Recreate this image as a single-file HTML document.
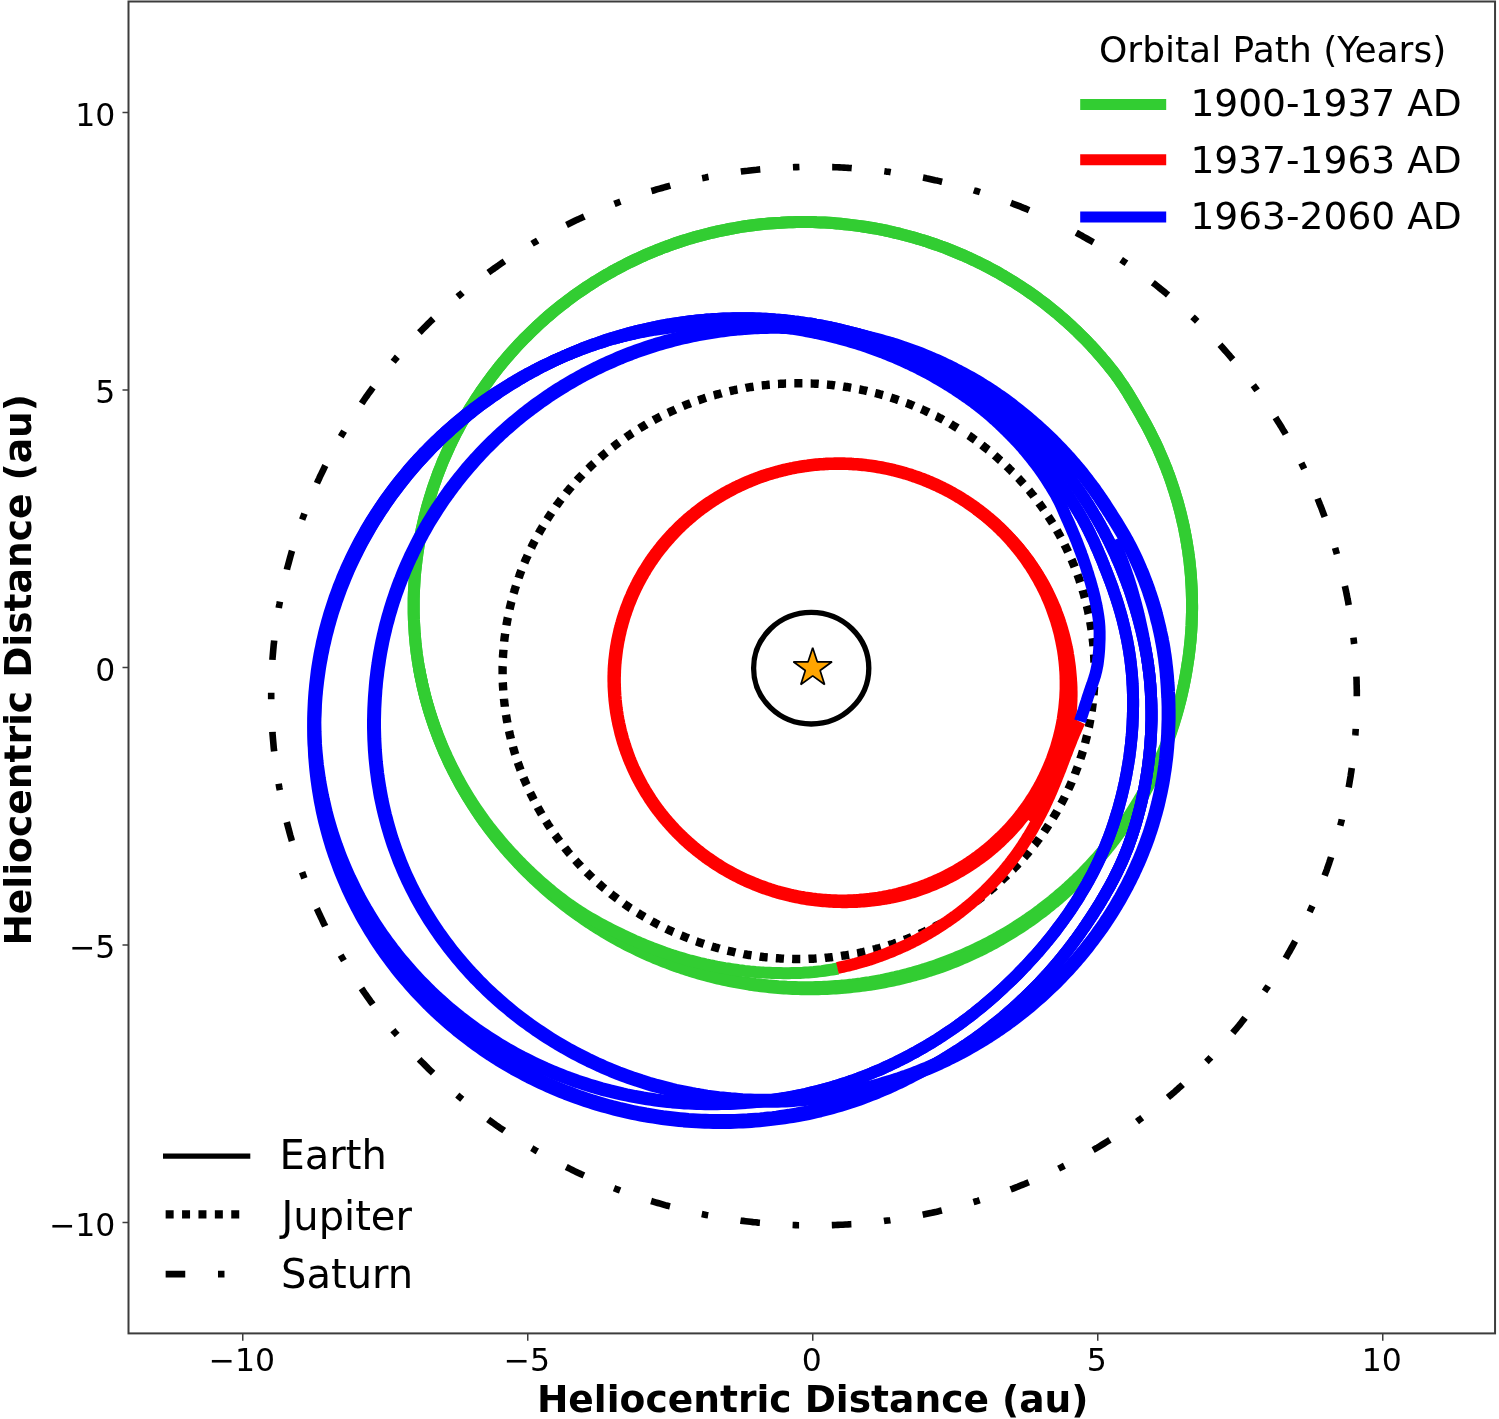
<!DOCTYPE html><html><head><meta charset="utf-8"><title>Orbital Path</title>
<style>html,body{margin:0;padding:0;background:#fff}svg{display:block}text{font-family:"DejaVu Sans","Liberation Sans",sans-serif;fill:#000}</style></head><body>
<svg width="1499" height="1419" viewBox="0 0 1499 1419">
<rect width="1499" height="1419" fill="#fff"/>
<defs><clipPath id="ax"><rect x="128.50" y="1.50" width="1366.55" height="1331.90"/></clipPath></defs>
<g clip-path="url(#ax)" fill="none" stroke-linejoin="round">
<ellipse cx="811.20" cy="668.20" rx="57.60" ry="55.80" stroke="#000" stroke-width="5.30"/>
<path d="M957.4 428.1L956.3 427.4L955.2 426.8L954.2 426.2L953.1 425.5L952.1 424.9L951.0 424.3L949.9 423.6L948.8 423.0L947.8 422.4L946.7 421.8L945.6 421.2L944.5 420.6L943.4 420.0L942.3 419.4L941.3 418.8L940.2 418.2L939.1 417.7L938.0 417.1L936.9 416.5L935.7 416.0L934.6 415.4L933.5 414.8L932.4 414.3L931.3 413.7L930.2 413.2L929.1 412.7L927.9 412.1L926.8 411.6L925.7 411.1L924.5 410.5L923.4 410.0L922.3 409.5L921.1 409.0L920.0 408.5L918.8 408.0L917.7 407.5L916.6 407.0L915.4 406.6L914.2 406.1L913.1 405.6L911.9 405.1L910.8 404.7L909.6 404.2L908.4 403.8L907.3 403.3L906.1 402.9L904.9 402.4L903.8 402.0L902.6 401.6L901.4 401.1L900.2 400.7L899.1 400.3L897.9 399.9L896.7 399.5L895.5 399.1L894.3 398.7L893.1 398.3L891.9 397.9L890.7 397.5L889.5 397.1L888.3 396.8L887.1 396.4L885.9 396.0L884.7 395.7L883.5 395.3L882.3 395.0L881.1 394.6L879.9 394.3L878.7 393.9L877.5 393.6L876.3 393.3L875.0 393.0L873.8 392.7L872.6 392.4L871.4 392.1L870.1 391.8L868.9 391.5L867.7 391.2L866.5 390.9L865.2 390.6L864.0 390.3L862.8 390.1L861.5 389.8L860.3 389.5L859.1 389.3L857.8 389.0L856.6 388.8L855.3 388.6L854.1 388.3L852.9 388.1L851.6 387.9L850.4 387.7L849.1 387.4L847.9 387.2L846.6 387.0L845.4 386.8L844.1 386.7L842.9 386.5L841.6 386.3L840.4 386.1L839.1 385.9L837.8 385.8L836.6 385.6L835.3 385.5L834.1 385.3L832.8 385.2L831.5 385.0L830.3 384.9L829.0 384.8L827.8 384.6L826.5 384.5L825.2 384.4L824.0 384.3L822.7 384.2L821.4 384.1L820.2 384.0L818.9 383.9L817.6 383.8L816.3 383.8L815.1 383.7L813.8 383.6L812.5 383.6L811.3 383.5L810.0 383.5L808.7 383.4L807.4 383.4L806.2 383.3L804.9 383.3L803.6 383.3L802.3 383.3L801.1 383.3L799.8 383.3L798.5 383.3L797.2 383.3L795.9 383.3L794.7 383.3L793.4 383.3L792.1 383.3L790.8 383.4L789.6 383.4L788.3 383.4L787.0 383.5L785.7 383.5L784.4 383.6L783.2 383.7L781.9 383.7L780.6 383.8L779.3 383.9L778.1 384.0L776.8 384.0L775.5 384.1L774.2 384.2L772.9 384.3L771.7 384.5L770.4 384.6L769.1 384.7L767.8 384.8L766.6 385.0L765.3 385.1L764.0 385.2L762.7 385.4L761.5 385.5L760.2 385.7L758.9 385.9L757.6 386.0L756.4 386.2L755.1 386.4L753.8 386.6L752.5 386.8L751.3 387.0L750.0 387.2L748.7 387.4L747.5 387.6L746.2 387.8L744.9 388.1L743.7 388.3L742.4 388.5L741.1 388.8L739.9 389.0L738.6 389.3L737.3 389.5L736.1 389.8L734.8 390.0L733.6 390.3L732.3 390.6L731.0 390.9L729.8 391.2L728.5 391.5L727.3 391.8L726.0 392.1L724.8 392.4L723.5 392.7L722.3 393.0L721.0 393.4L719.8 393.7L718.5 394.0L717.3 394.4L716.0 394.7L714.8 395.1L713.5 395.4L712.3 395.8L711.1 396.2L709.8 396.6L708.6 396.9L707.4 397.3L706.1 397.7L704.9 398.1L703.7 398.5L702.4 398.9L701.2 399.3L700.0 399.8L698.8 400.2L697.5 400.6L696.3 401.0L695.1 401.5L693.9 401.9L692.7 402.4L691.5 402.8L690.2 403.3L689.0 403.8L687.8 404.2L686.6 404.7L685.4 405.2L684.2 405.7L683.0 406.2L681.8 406.7L680.6 407.2L679.4 407.7L678.2 408.2L677.0 408.7L675.9 409.2L674.7 409.8L673.5 410.3L672.3 410.8L671.1 411.4L670.0 411.9L668.8 412.5L667.6 413.0L666.4 413.6L665.3 414.2L664.1 414.8L662.9 415.3L661.8 415.9L660.6 416.5L659.5 417.1L658.3 417.7L657.2 418.3L656.0 418.9L654.9 419.5L653.7 420.2L652.6 420.8L651.4 421.4L650.3 422.1L649.2 422.7L648.0 423.4L646.9 424.0L645.8 424.7L644.7 425.3L643.6 426.0L642.4 426.7L641.3 427.3L640.2 428.0L639.1 428.7L638.0 429.4L636.9 430.1L635.8 430.8L634.7 431.5L633.6 432.2L632.5 432.9L631.4 433.6L630.4 434.4L629.3 435.1L628.2 435.8L627.1 436.6L626.1 437.3L625.0 438.1L623.9 438.8L622.9 439.6L621.8 440.3L620.7 441.1L619.7 441.9L618.6 442.7L617.6 443.4L616.6 444.2L615.5 445.0L614.5 445.8L613.5 446.6L612.4 447.4L611.4 448.2L610.4 449.1L609.4 449.9L608.4 450.7L607.3 451.5L606.3 452.4L605.3 453.2L604.3 454.0L603.3 454.9L602.4 455.7L601.4 456.6L600.4 457.4L599.4 458.3L598.4 459.2L597.4 460.1L596.5 460.9L595.5 461.8L594.6 462.7L593.6 463.6L592.6 464.5L591.7 465.4L590.7 466.3L589.8 467.2L588.9 468.1L587.9 469.0L587.0 469.9L586.1 470.9L585.2 471.8L584.2 472.7L583.3 473.7L582.4 474.6L581.5 475.6L580.6 476.5L579.7 477.5L578.8 478.4L577.9 479.4L577.1 480.3L576.2 481.3L575.3 482.3L574.4 483.3L573.6 484.2L572.7 485.2L571.8 486.2L571.0 487.2L570.1 488.2L569.3 489.2L568.5 490.2L567.6 491.2L566.8 492.2L566.0 493.3L565.2 494.3L564.3 495.3L563.5 496.3L562.7 497.4L561.9 498.4L561.1 499.4L560.3 500.5L559.5 501.5L558.7 502.6L558.0 503.6L557.2 504.7L556.4 505.7L555.7 506.8L554.9 507.9L554.1 508.9L553.4 510.0L552.6 511.1L551.9 512.2L551.2 513.3L550.4 514.4L549.7 515.4L549.0 516.5L548.3 517.6L547.6 518.7L546.9 519.8L546.2 521.0L545.5 522.1L544.8 523.2L544.1 524.3L543.4 525.4L542.7 526.5L542.1 527.7L541.4 528.8L540.7 529.9L540.1 531.1L539.4 532.2L538.8 533.4L538.1 534.5L537.5 535.6L536.9 536.8L536.3 538.0L535.6 539.1L535.0 540.3L534.4 541.4L533.8 542.6L533.2 543.8L532.6 544.9L532.0 546.1L531.5 547.3L530.9 548.5L530.3 549.7L529.8 550.8L529.2 552.0L528.6 553.2L528.1 554.4L527.6 555.6L527.0 556.8L526.5 558.0L526.0 559.2L525.4 560.4L524.9 561.6L524.4 562.8L523.9 564.0L523.4 565.3L522.9 566.5L522.4 567.7L522.0 568.9L521.5 570.1L521.0 571.4L520.5 572.6L520.1 573.8L519.6 575.1L519.2 576.3L518.7 577.5L518.3 578.8L517.9 580.0L517.5 581.3L517.0 582.5L516.6 583.8L516.2 585.0L515.8 586.3L515.4 587.5L515.0 588.8L514.6 590.0L514.3 591.3L513.9 592.5L513.5 593.8L513.2 595.1L512.8 596.3L512.5 597.6L512.1 598.9L511.8 600.1L511.5 601.4L511.1 602.7L510.8 604.0L510.5 605.2L510.2 606.5L509.9 607.8L509.6 609.1L509.3 610.4L509.0 611.6L508.8 612.9L508.5 614.2L508.2 615.5L508.0 616.8L507.7 618.1L507.5 619.4L507.2 620.7L507.0 622.0L506.8 623.3L506.5 624.6L506.3 625.9L506.1 627.2L505.9 628.5L505.7 629.8L505.5 631.1L505.3 632.4L505.1 633.7L505.0 635.0L504.8 636.3L504.6 637.6L504.5 638.9L504.3 640.2L504.2 641.5L504.1 642.8L503.9 644.1L503.8 645.4L503.7 646.8L503.6 648.1L503.5 649.4L503.4 650.7L503.3 652.0L503.2 653.3L503.1 654.6L503.0 655.9L503.0 657.3L502.9 658.6L502.8 659.9L502.8 661.2L502.7 662.5L502.7 663.8L502.7 665.2L502.6 666.5L502.6 667.8L502.6 669.1L502.6 670.4L502.6 671.8L502.6 673.1L502.6 674.4L502.6 675.7L502.7 677.0L502.7 678.3L502.7 679.7L502.8 681.0L502.8 682.3L502.9 683.6L502.9 684.9L503.0 686.2L503.1 687.6L503.2 688.9L503.2 690.2L503.3 691.5L503.4 692.8L503.5 694.1L503.6 695.5L503.8 696.8L503.9 698.1L504.0 699.4L504.2 700.7L504.3 702.0L504.4 703.3L504.6 704.6L504.8 706.0L504.9 707.3L505.1 708.6L505.3 709.9L505.5 711.2L505.6 712.5L505.8 713.8L506.0 715.1L506.3 716.4L506.5 717.7L506.7 719.0L506.9 720.3L507.2 721.6L507.4 722.9L507.6 724.2L507.9 725.5L508.2 726.8L508.4 728.1L508.7 729.4L509.0 730.7L509.3 732.0L509.5 733.3L509.8 734.6L510.1 735.8L510.4 737.1L510.8 738.4L511.1 739.7L511.4 741.0L511.7 742.3L512.1 743.5L512.4 744.8L512.8 746.1L513.1 747.4L513.5 748.6L513.9 749.9L514.2 751.2L514.6 752.4L515.0 753.7L515.4 755.0L515.8 756.2L516.2 757.5L516.6 758.7L517.0 760.0L517.4 761.3L517.9 762.5L518.3 763.8L518.7 765.0L519.2 766.3L519.6 767.5L520.1 768.7L520.5 770.0L521.0 771.2L521.5 772.5L522.0 773.7L522.4 774.9L522.9 776.2L523.4 777.4L523.9 778.6L524.4 779.8L525.0 781.1L525.5 782.3L526.0 783.5L526.5 784.7L527.1 785.9L527.6 787.1L528.2 788.3L528.7 789.5L529.3 790.7L529.8 791.9L530.4 793.1L531.0 794.3L531.6 795.5L532.2 796.7L532.8 797.9L533.4 799.1L534.0 800.3L534.6 801.4L535.2 802.6L535.8 803.8L536.4 804.9L537.1 806.1L537.7 807.3L538.3 808.4L539.0 809.6L539.7 810.7L540.3 811.9L541.0 813.0L541.6 814.2L542.3 815.3L543.0 816.5L543.7 817.6L544.4 818.7L545.1 819.9L545.8 821.0L546.5 822.1L547.2 823.2L547.9 824.4L548.6 825.5L549.4 826.6L550.1 827.7L550.8 828.8L551.6 829.9L552.3 831.0L553.1 832.1L553.8 833.2L554.6 834.3L555.4 835.3L556.1 836.4L556.9 837.5L557.7 838.6L558.5 839.6L559.3 840.7L560.1 841.8L560.9 842.8L561.7 843.9L562.5 844.9L563.3 846.0L564.2 847.0L565.0 848.1L565.8 849.1L566.7 850.1L567.5 851.1L568.3 852.2L569.2 853.2L570.1 854.2L570.9 855.2L571.8 856.2L572.6 857.2L573.5 858.2L574.4 859.2L575.3 860.2L576.2 861.2L577.1 862.2L578.0 863.2L578.9 864.2L579.8 865.1L580.7 866.1L581.6 867.1L582.5 868.0L583.4 869.0L584.4 869.9L585.3 870.9L586.2 871.8L587.2 872.8L588.1 873.7L589.1 874.6L590.0 875.5L591.0 876.5L592.0 877.4L592.9 878.3L593.9 879.2L594.9 880.1L595.9 881.0L596.8 881.9L597.8 882.8L598.8 883.7L599.8 884.6L600.8 885.4L601.8 886.3L602.8 887.2L603.8 888.0L604.9 888.9L605.9 889.8L606.9 890.6L607.9 891.4L609.0 892.3L610.0 893.1L611.0 894.0L612.1 894.8L613.1 895.6L614.2 896.4L615.2 897.2L616.3 898.0L617.3 898.8L618.4 899.6L619.5 900.4L620.5 901.2L621.6 902.0L622.7 902.8L623.8 903.5L624.9 904.3L626.0 905.1L627.0 905.8L628.1 906.6L629.2 907.3L630.3 908.1L631.5 908.8L632.6 909.6L633.7 910.3L634.8 911.0L635.9 911.7L637.0 912.4L638.2 913.1L639.3 913.9L640.4 914.6L641.5 915.2L642.7 915.9L643.8 916.6L645.0 917.3L646.1 918.0L647.3 918.6L648.4 919.3L649.6 920.0L650.7 920.6L651.9 921.3L653.1 921.9L654.2 922.5L655.4 923.2L656.6 923.8L657.7 924.4L658.9 925.0L660.1 925.6L661.3 926.2L662.5 926.8L663.6 927.4L664.8 928.0L666.0 928.6L667.2 929.2L668.4 929.8L669.6 930.3L670.8 930.9L672.0 931.4L673.2 932.0L674.4 932.5L675.7 933.1L676.9 933.6L678.1 934.1L679.3 934.7L680.5 935.2L681.8 935.7L683.0 936.2L684.2 936.7L685.4 937.2L686.7 937.7L687.9 938.2L689.1 938.7L690.4 939.1L691.6 939.6L692.9 940.1L694.1 940.5L695.3 941.0L696.6 941.4L697.8 941.9L699.1 942.3L700.3 942.8L701.6 943.2L702.9 943.6L704.1 944.0L705.4 944.4L706.6 944.8L707.9 945.2L709.2 945.6L710.4 946.0L711.7 946.4L713.0 946.8L714.2 947.1L715.5 947.5L716.8 947.8L718.1 948.2L719.3 948.5L720.6 948.9L721.9 949.2L723.2 949.6L724.5 949.9L725.7 950.2L727.0 950.5L728.3 950.8L729.6 951.1L730.9 951.4L732.2 951.7L733.5 952.0L734.8 952.3L736.0 952.6L737.3 952.8L738.6 953.1L739.9 953.3L741.2 953.6L742.5 953.8L743.8 954.1L745.1 954.3L746.4 954.5L747.7 954.8L749.0 955.0L750.3 955.2L751.6 955.4L752.9 955.6L754.2 955.8L755.5 956.0L756.8 956.2L758.1 956.3L759.4 956.5L760.7 956.7L762.1 956.8L763.4 957.0L764.7 957.1L766.0 957.3L767.3 957.4L768.6 957.5L769.9 957.7L771.2 957.8L772.5 957.9L773.8 958.0L775.1 958.1L776.5 958.2L777.8 958.3L779.1 958.4L780.4 958.5L781.7 958.6L783.0 958.6L784.3 958.7L785.6 958.7L786.9 958.8L788.2 958.8L789.6 958.9L790.9 958.9L792.2 958.9L793.5 959.0L794.8 959.0L796.1 959.0L797.4 959.0L798.7 959.0L800.0 959.0L801.3 959.0L802.7 959.0L804.0 959.0L805.3 958.9L806.6 958.9L807.9 958.9L809.2 958.8L810.5 958.8L811.8 958.7L813.1 958.7L814.4 958.6L815.7 958.5L817.0 958.4L818.3 958.4L819.6 958.3L820.9 958.2L822.2 958.1L823.5 958.0L824.8 957.9L826.1 957.7L827.4 957.6L828.7 957.5L830.0 957.4L831.3 957.2L832.6 957.1L833.9 956.9L835.2 956.8L836.5 956.6L837.8 956.5L839.1 956.3L840.4 956.1L841.6 955.9L842.9 955.7L844.2 955.5L845.5 955.3L846.8 955.1L848.1 954.9L849.3 954.7L850.6 954.5L851.9 954.3L853.2 954.0L854.4 953.8L855.7 953.6L857.0 953.3L858.3 953.1L859.5 952.8L860.8 952.5L862.1 952.3L863.3 952.0L864.6 951.7L865.9 951.4L867.1 951.1L868.4 950.9L869.6 950.6L870.9 950.2L872.1 949.9L873.4 949.6L874.6 949.3L875.9 949.0L877.1 948.6L878.4 948.3L879.6 948.0L880.9 947.6L882.1 947.3L883.3 946.9L884.6 946.5L885.8 946.2L887.0 945.8L888.3 945.4L889.5 945.0L890.7 944.6L892.0 944.3L893.2 943.9L894.4 943.5L895.6 943.0L896.8 942.6L898.0 942.2L899.3 941.8L900.5 941.4L901.7 940.9L902.9 940.5L904.1 940.0L905.3 939.6L906.5 939.1L907.7 938.7L908.9 938.2L910.1 937.7L911.3 937.3L912.4 936.8L913.6 936.3L914.8 935.8L916.0 935.3L917.2 934.8L918.3 934.3L919.5 933.8L920.7 933.3L921.8 932.8L923.0 932.3L924.2 931.7L925.3 931.2L926.5 930.7L927.6 930.1L928.8 929.6L929.9 929.0L931.1 928.5L932.2 927.9L933.4 927.3L934.5 926.8L935.6 926.2L936.8 925.6L937.9 925.0L939.0 924.5L940.2 923.9L941.3 923.3L942.4 922.7L943.5 922.1L944.6 921.4L945.7 920.8L946.8 920.2L947.9 919.6L949.0 919.0L950.1 918.3L951.2 917.7L952.3 917.0L953.4 916.4L954.5 915.7L955.6 915.1L956.7 914.4L957.7 913.8L958.8 913.1L959.9 912.4L960.9 911.7L962.0 911.1L963.1 910.4L964.1 909.7L965.2 909.0L966.2 908.3L967.3 907.6L968.3 906.9L969.4 906.2L970.4 905.4L971.4 904.7L972.4 904.0L973.5 903.3L974.5 902.5L975.5 901.8L976.5 901.1L977.5 900.3L978.6 899.6L979.6 898.8L980.6 898.1L981.6 897.3L982.6 896.5L983.5 895.8L984.5 895.0L985.5 894.2L986.5 893.4L987.5 892.7L988.4 891.9L989.4 891.1L990.4 890.3L991.3 889.5L992.3 888.7L993.3 887.9L994.2 887.1L995.2 886.2L996.1 885.4L997.0 884.6L998.0 883.8L998.9 882.9L999.8 882.1L1000.8 881.3L1001.7 880.4L1002.6 879.6L1003.5 878.7L1004.4 877.9L1005.3 877.0L1006.2 876.2L1007.1 875.3L1008.0 874.4L1008.9 873.6L1009.8 872.7L1010.7 871.8L1011.5 870.9L1012.4 870.0L1013.3 869.2L1014.1 868.3L1015.0 867.4L1015.9 866.5L1016.7 865.6L1017.6 864.7L1018.4 863.8L1019.3 862.9L1020.1 861.9L1020.9 861.0L1021.7 860.1L1022.6 859.2L1023.4 858.2L1024.2 857.3L1025.0 856.4L1025.8 855.4L1026.6 854.5L1027.4 853.6L1028.2 852.6L1029.0 851.7L1029.8 850.7L1030.6 849.8L1031.4 848.8L1032.1 847.8L1032.9 846.9L1033.7 845.9L1034.4 844.9L1035.2 844.0L1035.9 843.0L1036.7 842.0L1037.4 841.0L1038.2 840.0L1038.9 839.1L1039.6 838.1L1040.3 837.1L1041.1 836.1L1041.8 835.1L1042.5 834.1L1043.2 833.1L1043.9 832.1L1044.6 831.0L1045.3 830.0L1046.0 829.0L1046.7 828.0L1047.3 827.0L1048.0 826.0L1048.7 824.9L1049.4 823.9L1050.0 822.9L1050.7 821.8L1051.3 820.8L1052.0 819.8L1052.6 818.7L1053.2 817.7L1053.9 816.6L1054.5 815.6L1055.1 814.5L1055.8 813.5L1056.4 812.4L1057.0 811.4L1057.6 810.3L1058.2 809.2L1058.8 808.2L1059.4 807.1L1060.0 806.0L1060.5 805.0L1061.1 803.9L1061.7 802.8L1062.3 801.7L1062.8 800.7L1063.4 799.6L1063.9 798.5L1064.5 797.4L1065.0 796.3L1065.6 795.2L1066.1 794.1L1066.6 793.0L1067.2 791.9L1067.7 790.8L1068.2 789.7L1068.7 788.6L1069.2 787.5L1069.7 786.4L1070.2 785.3L1070.7 784.2L1071.2 783.1L1071.7 782.0L1072.1 780.9L1072.6 779.7L1073.1 778.6L1073.5 777.5L1074.0 776.4L1074.5 775.3L1074.9 774.1L1075.3 773.0L1075.8 771.9L1076.2 770.7L1076.6 769.6L1077.1 768.5L1077.5 767.3L1077.9 766.2L1078.3 765.1L1078.7 763.9L1079.1 762.8L1079.5 761.6L1079.9 760.5L1080.3 759.3L1080.6 758.2L1081.0 757.0L1081.4 755.9L1081.8 754.7L1082.1 753.6L1082.5 752.4L1082.8 751.3L1083.2 750.1L1083.5 749.0L1083.8 747.8L1084.2 746.6L1084.5 745.5L1084.8 744.3L1085.1 743.1L1085.4 742.0L1085.7 740.8L1086.0 739.6L1086.3 738.5L1086.6 737.3L1086.9 736.1L1087.2 735.0L1087.4 733.8L1087.7 732.6L1088.0 731.4L1088.2 730.3L1088.5 729.1L1088.7 727.9L1089.0 726.7L1089.2 725.5L1089.4 724.4L1089.6 723.2L1089.9 722.0L1090.1 720.8L1090.3 719.6L1090.5 718.5L1090.7 717.3L1090.9 716.1L1091.1 714.9L1091.3 713.7L1091.5 712.5L1091.6 711.3L1091.8 710.1L1092.0 709.0L1092.1 707.8L1092.3 706.6L1092.4 705.4L1092.6 704.2L1092.7 703.0L1092.9 701.8L1093.0 700.6L1093.1 699.4L1093.2 698.2L1093.3 697.0L1093.5 695.8L1093.6 694.6L1093.7 693.4L1093.7 692.2L1093.8 691.1L1093.9 689.9L1094.0 688.7L1094.1 687.5L1094.1 686.3L1094.2 685.1L1094.3 683.9L1094.3 682.7L1094.4 681.5L1094.4 680.3L1094.4 679.1L1094.5 677.9L1094.5 676.7L1094.5 675.5L1094.5 674.3L1094.6 673.1L1094.6 671.9L1094.6 670.7L1094.6 669.5L1094.5 668.3L1094.5 667.1L1094.5 665.9L1094.5 664.7L1094.5 663.5L1094.4 662.3L1094.4 661.1L1094.3 659.9L1094.3 658.7L1094.2 657.5L1094.2 656.3L1094.1 655.1L1094.0 653.9L1094.0 652.8L1093.9 651.6L1093.8 650.4L1093.7 649.2L1093.6 648.0L1093.5 646.8L1093.4 645.6L1093.3 644.4L1093.2 643.2L1093.1 642.0L1092.9 640.8L1092.8 639.6L1092.7 638.5L1092.5 637.3L1092.4 636.1L1092.2 634.9L1092.1 633.7L1091.9 632.5L1091.7 631.3L1091.6 630.2L1091.4 629.0L1091.2 627.8L1091.0 626.6L1090.8 625.4L1090.6 624.2L1090.4 623.1L1090.2 621.9L1090.0 620.7L1089.8 619.5L1089.6 618.4L1089.3 617.2L1089.1 616.0L1088.9 614.8L1088.6 613.7L1088.4 612.5L1088.1 611.3L1087.9 610.1L1087.6 609.0L1087.3 607.8L1087.1 606.6L1086.8 605.5L1086.5 604.3L1086.2 603.2L1085.9 602.0L1085.6 600.8L1085.3 599.7L1085.0 598.5L1084.7 597.4L1084.4 596.2L1084.1 595.1L1083.8 593.9L1083.4 592.8L1083.1 591.6L1082.7 590.5L1082.4 589.3L1082.1 588.2L1081.7 587.0L1081.3 585.9L1081.0 584.7L1080.6 583.6L1080.2 582.5L1079.8 581.3L1079.5 580.2L1079.1 579.0L1078.7 577.9L1078.3 576.8L1077.9 575.7L1077.5 574.5L1077.0 573.4L1076.6 572.3L1076.2 571.2L1075.8 570.0L1075.3 568.9L1074.9 567.8L1074.5 566.7L1074.0 565.6L1073.6 564.5L1073.1 563.4L1072.6 562.2L1072.2 561.1L1071.7 560.0L1071.2 558.9L1070.7 557.8L1070.3 556.7L1069.8 555.6L1069.3 554.5L1068.8 553.4L1068.3 552.4L1067.8 551.3L1067.2 550.2L1066.7 549.1L1066.2 548.0L1065.7 546.9L1065.1 545.9L1064.6 544.8L1064.1 543.7L1063.5 542.6L1063.0 541.6L1062.4 540.5L1061.8 539.4L1061.3 538.4L1060.7 537.3L1060.1 536.2L1059.6 535.2L1059.0 534.1L1058.4 533.1L1057.8 532.0L1057.2 531.0L1056.6 529.9L1056.0 528.9L1055.4 527.9L1054.8 526.8L1054.2 525.8L1053.5 524.8L1052.9 523.7L1052.3 522.7L1051.6 521.7L1051.0 520.6L1050.3 519.6L1049.7 518.6L1049.0 517.6L1048.4 516.6L1047.7 515.6L1047.1 514.6L1046.4 513.6L1045.7 512.6L1045.0 511.6L1044.3 510.6L1043.7 509.6L1043.0 508.6L1042.3 507.6L1041.6 506.6L1040.9 505.6L1040.1 504.6L1039.4 503.7L1038.7 502.7L1038.0 501.7L1037.3 500.7L1036.5 499.8L1035.8 498.8L1035.0 497.9L1034.3 496.9L1033.6 495.9L1032.8 495.0L1032.0 494.0L1031.3 493.1L1030.5 492.2L1029.8 491.2L1029.0 490.3L1028.2 489.4L1027.4 488.4L1026.6 487.5L1025.8 486.6L1025.1 485.7L1024.3 484.7L1023.5 483.8L1022.6 482.9L1021.8 482.0L1021.0 481.1L1020.2 480.2L1019.4 479.3L1018.6 478.4L1017.7 477.5L1016.9 476.6L1016.1 475.7L1015.2 474.9L1014.4 474.0L1013.5 473.1L1012.7 472.2L1011.8 471.4L1011.0 470.5L1010.1 469.6L1009.2 468.8L1008.4 467.9L1007.5 467.1L1006.6 466.2L1005.7 465.4L1004.8 464.5L1003.9 463.7L1003.1 462.9L1002.2 462.0L1001.3 461.2L1000.3 460.4L999.4 459.6L998.5 458.8L997.6 457.9L996.7 457.1L995.8 456.3L994.8 455.5L993.9 454.7L993.0 453.9L992.0 453.1L991.1 452.4L990.2 451.6L989.2 450.8L988.3 450.0L987.3 449.3L986.3 448.5L985.4 447.7L984.4 447.0L983.5 446.2L982.5 445.5L981.5 444.7L980.5 444.0L979.5 443.2L978.6 442.5L977.6 441.8L976.6 441.0L975.6 440.3L974.6 439.6L973.6 438.9L972.6 438.2L971.6 437.4L970.6 436.7L969.6 436.0L968.5 435.3" stroke="#000" stroke-width="8.40" stroke-dasharray="8.1 8.24"/>
<path d="M1029.1 210.2L1027.0 209.3L1024.9 208.4L1022.9 207.6L1020.8 206.7L1018.7 205.9L1016.6 205.1L1014.5 204.3L1012.4 203.5L1010.3 202.7L1008.2 201.9L1006.1 201.1L1004.0 200.3L1001.9 199.5L999.8 198.8L997.6 198.0L995.5 197.3L993.4 196.6L991.3 195.9L989.1 195.1L987.0 194.4L984.9 193.7L982.7 193.1L980.6 192.4L978.4 191.7L976.3 191.0L974.1 190.4L972.0 189.7L969.8 189.1L967.7 188.5L965.5 187.9L963.4 187.3L961.2 186.7L959.0 186.1L956.9 185.5L954.7 184.9L952.5 184.4L950.3 183.8L948.2 183.2L946.0 182.7L943.8 182.2L941.6 181.7L939.4 181.1L937.2 180.6L935.0 180.2L932.8 179.7L930.7 179.2L928.5 178.7L926.3 178.3L924.1 177.8L921.9 177.4L919.7 176.9L917.4 176.5L915.2 176.1L913.0 175.7L910.8 175.3L908.6 174.9L906.4 174.5L904.2 174.2L902.0 173.8L899.8 173.5L897.5 173.1L895.3 172.8L893.1 172.5L890.9 172.2L888.6 171.8L886.4 171.6L884.2 171.3L882.0 171.0L879.7 170.7L877.5 170.5L875.3 170.2L873.0 170.0L870.8 169.7L868.6 169.5L866.3 169.3L864.1 169.1L861.9 168.9L859.6 168.7L857.4 168.5L855.2 168.3L852.9 168.2L850.7 168.0L848.5 167.9L846.2 167.7L844.0 167.6L841.7 167.5L839.5 167.4L837.2 167.3L835.0 167.2L832.8 167.1L830.5 167.1L828.3 167.0L826.0 166.9L823.8 166.9L821.5 166.9L819.3 166.8L817.1 166.8L814.8 166.8L812.6 166.8L810.3 166.8L808.1 166.8L805.8 166.9L803.6 166.9L801.4 166.9L799.1 167.0L796.9 167.1L794.6 167.1L792.4 167.2L790.1 167.3L787.9 167.4L785.7 167.5L783.4 167.6L781.2 167.8L778.9 167.9L776.7 168.1L774.5 168.2L772.2 168.4L770.0 168.5L767.8 168.7L765.5 168.9L763.3 169.1L761.1 169.3L758.8 169.5L756.6 169.8L754.4 170.0L752.1 170.2L749.9 170.5L747.7 170.8L745.4 171.0L743.2 171.3L741.0 171.6L738.8 171.9L736.5 172.2L734.3 172.5L732.1 172.9L729.9 173.2L727.7 173.5L725.5 173.9L723.2 174.2L721.0 174.6L718.8 175.0L716.6 175.4L714.4 175.8L712.2 176.2L710.0 176.6L707.8 177.0L705.6 177.5L703.4 177.9L701.2 178.3L699.0 178.8L696.8 179.3L694.6 179.8L692.4 180.2L690.2 180.7L688.0 181.2L685.9 181.7L683.7 182.3L681.5 182.8L679.3 183.3L677.2 183.9L675.0 184.4L672.8 185.0L670.6 185.6L668.5 186.2L666.3 186.8L664.1 187.4L662.0 188.0L659.8 188.6L657.7 189.2L655.5 189.8L653.4 190.5L651.2 191.1L649.1 191.8L647.0 192.5L644.8 193.1L642.7 193.8L640.5 194.5L638.4 195.2L636.3 196.0L634.2 196.7L632.0 197.4L629.9 198.1L627.8 198.9L625.7 199.6L623.6 200.4L621.5 201.2L619.4 202.0L617.3 202.8L615.2 203.6L613.1 204.4L611.0 205.2L608.9 206.0L606.8 206.8L604.8 207.7L602.7 208.5L600.6 209.4L598.5 210.3L596.5 211.1L594.4 212.0L592.4 212.9L590.3 213.8L588.3 214.7L586.2 215.6L584.2 216.6L582.1 217.5L580.1 218.4L578.1 219.4L576.0 220.3L574.0 221.3L572.0 222.3L570.0 223.3L568.0 224.3L565.9 225.3L563.9 226.3L561.9 227.3L559.9 228.3L558.0 229.4L556.0 230.4L554.0 231.4L552.0 232.5L550.0 233.6L548.1 234.6L546.1 235.7L544.1 236.8L542.2 237.9L540.2 239.0L538.3 240.1L536.3 241.3L534.4 242.4L532.5 243.5L530.5 244.7L528.6 245.8L526.7 247.0L524.8 248.2L522.9 249.3L520.9 250.5L519.0 251.7L517.2 252.9L515.3 254.1L513.4 255.3L511.5 256.6L509.6 257.8L507.7 259.0L505.9 260.3L504.0 261.6L502.2 262.8L500.3 264.1L498.5 265.4L496.6 266.7L494.8 267.9L493.0 269.3L491.1 270.6L489.3 271.9L487.5 273.2L485.7 274.5L483.9 275.9L482.1 277.2L480.3 278.6L478.5 279.9L476.7 281.3L475.0 282.7L473.2 284.1L471.4 285.5L469.7 286.9L467.9 288.3L466.2 289.7L464.4 291.1L462.7 292.5L461.0 294.0L459.3 295.4L457.5 296.9L455.8 298.3L454.1 299.8L452.4 301.3L450.7 302.7L449.1 304.2L447.4 305.7L445.7 307.2L444.0 308.7L442.4 310.2L440.7 311.8L439.1 313.3L437.4 314.8L435.8 316.4L434.2 317.9L432.5 319.5L430.9 321.0L429.3 322.6L427.7 324.2L426.1 325.8L424.5 327.4L422.9 329.0L421.4 330.6L419.8 332.2L418.2 333.8L416.7 335.4L415.1 337.1L413.6 338.7L412.0 340.3L410.5 342.0L409.0 343.6L407.5 345.3L406.0 347.0L404.4 348.7L403.0 350.3L401.5 352.0L400.0 353.7L398.5 355.4L397.0 357.1L395.6 358.9L394.1 360.6L392.7 362.3L391.2 364.0L389.8 365.8L388.4 367.5L387.0 369.3L385.6 371.0L384.2 372.8L382.8 374.6L381.4 376.3L380.0 378.1L378.6 379.9L377.3 381.7L375.9 383.5L374.6 385.3L373.2 387.1L371.9 388.9L370.6 390.8L369.2 392.6L367.9 394.4L366.6 396.3L365.3 398.1L364.0 400.0L362.8 401.8L361.5 403.7L360.2 405.6L359.0 407.4L357.7 409.3L356.5 411.2L355.2 413.1L354.0 415.0L352.8 416.9L351.6 418.8L350.4 420.7L349.2 422.6L348.0 424.6L346.8 426.5L345.7 428.4L344.5 430.4L343.4 432.3L342.2 434.3L341.1 436.2L339.9 438.2L338.8 440.1L337.7 442.1L336.6 444.1L335.5 446.1L334.4 448.0L333.4 450.0L332.3 452.0L331.2 454.0L330.2 456.0L329.1 458.0L328.1 460.1L327.1 462.1L326.1 464.1L325.1 466.1L324.1 468.2L323.1 470.2L322.1 472.2L321.1 474.3L320.1 476.3L319.2 478.4L318.2 480.4L317.3 482.5L316.4 484.6L315.5 486.7L314.5 488.7L313.6 490.8L312.7 492.9L311.9 495.0L311.0 497.1L310.1 499.2L309.3 501.3L308.4 503.4L307.6 505.5L306.7 507.6L305.9 509.7L305.1 511.8L304.3 514.0L303.5 516.1L302.7 518.2L301.9 520.4L301.2 522.5L300.4 524.6L299.7 526.8L298.9 528.9L298.2 531.1L297.5 533.3L296.8 535.4L296.1 537.6L295.4 539.7L294.7 541.9L294.0 544.1L293.4 546.3L292.7 548.5L292.1 550.6L291.4 552.8L290.8 555.0L290.2 557.2L289.6 559.4L289.0 561.6L288.4 563.8L287.8 566.0L287.2 568.2L286.7 570.4L286.1 572.6L285.6 574.9L285.1 577.1L284.5 579.3L284.0 581.5L283.5 583.8L283.0 586.0L282.5 588.2L282.1 590.5L281.6 592.7L281.2 594.9L280.7 597.2L280.3 599.4L279.9 601.7L279.5 603.9L279.0 606.2L278.7 608.4L278.3 610.7L277.9 612.9L277.5 615.2L277.2 617.5L276.8 619.7L276.5 622.0L276.2 624.3L275.9 626.5L275.6 628.8L275.3 631.1L275.0 633.4L274.7 635.6L274.5 637.9L274.2 640.2L274.0 642.5L273.7 644.8L273.5 647.1L273.3 649.3L273.1 651.6L272.9 653.9L272.7 656.2L272.5 658.5L272.4 660.8L272.2 663.1L272.1 665.4L271.9 667.7L271.8 670.0L271.7 672.3L271.6 674.6L271.5 676.9L271.4 679.2L271.4 681.5L271.3 683.8L271.3 686.1L271.2 688.4L271.2 690.7L271.2 693.0L271.2 695.3L271.2 697.6L271.2 699.9L271.2 702.2L271.2 704.6L271.3 706.9L271.3 709.2L271.4 711.5L271.5 713.8L271.6 716.1L271.7 718.4L271.8 720.7L271.9 723.0L272.0 725.3L272.1 727.7L272.3 730.0L272.4 732.3L272.6 734.6L272.8 736.9L273.0 739.2L273.2 741.5L273.4 743.8L273.6 746.1L273.8 748.5L274.1 750.8L274.3 753.1L274.6 755.4L274.9 757.7L275.1 760.0L275.4 762.3L275.7 764.6L276.1 766.9L276.4 769.2L276.7 771.5L277.1 773.8L277.4 776.1L277.8 778.4L278.2 780.7L278.5 783.0L278.9 785.3L279.3 787.6L279.8 789.9L280.2 792.2L280.6 794.5L281.1 796.8L281.5 799.1L282.0 801.3L282.5 803.6L283.0 805.9L283.5 808.2L284.0 810.5L284.5 812.7L285.1 815.0L285.6 817.3L286.2 819.6L286.7 821.8L287.3 824.1L287.9 826.4L288.5 828.6L289.1 830.9L289.7 833.2L290.3 835.4L291.0 837.7L291.6 839.9L292.3 842.2L292.9 844.4L293.6 846.7L294.3 848.9L295.0 851.2L295.7 853.4L296.4 855.7L297.2 857.9L297.9 860.1L298.7 862.4L299.4 864.6L300.2 866.8L301.0 869.0L301.8 871.3L302.6 873.5L303.4 875.7L304.2 877.9L305.0 880.1L305.9 882.3L306.7 884.5L307.6 886.7L308.5 888.9L309.4 891.1L310.3 893.3L311.2 895.4L312.1 897.6L313.0 899.8L313.9 902.0L314.9 904.1L315.8 906.3L316.8 908.5L317.8 910.6L318.8 912.8L319.8 914.9L320.8 917.1L321.8 919.2L322.8 921.4L323.8 923.5L324.9 925.6L325.9 927.8L327.0 929.9L328.1 932.0L329.2 934.1L330.3 936.2L331.4 938.3L332.5 940.4L333.6 942.5L334.7 944.6L335.9 946.7L337.0 948.8L338.2 950.9L339.4 952.9L340.6 955.0L341.8 957.1L343.0 959.1L344.2 961.2L345.4 963.2L346.6 965.3L347.9 967.3L349.1 969.4L350.4 971.4L351.7 973.4L352.9 975.4L354.2 977.4L355.5 979.5L356.8 981.5L358.2 983.5L359.5 985.5L360.8 987.4L362.2 989.4L363.5 991.4L364.9 993.4L366.3 995.3L367.7 997.3L369.0 999.2L370.4 1001.2L371.9 1003.1L373.3 1005.1L374.7 1007.0L376.2 1008.9L377.6 1010.8L379.1 1012.8L380.5 1014.7L382.0 1016.6L383.5 1018.5L385.0 1020.4L386.5 1022.2L388.0 1024.1L389.5 1026.0L391.0 1027.8L392.6 1029.7L394.1 1031.6L395.7 1033.4L397.3 1035.2L398.8 1037.1L400.4 1038.9L402.0 1040.7L403.6 1042.5L405.2 1044.3L406.8 1046.1L408.5 1047.9L410.1 1049.7L411.7 1051.5L413.4 1053.2L415.1 1055.0L416.7 1056.8L418.4 1058.5L420.1 1060.3L421.8 1062.0L423.5 1063.7L425.2 1065.4L426.9 1067.1L428.6 1068.9L430.4 1070.6L432.1 1072.2L433.9 1073.9L435.6 1075.6L437.4 1077.3L439.2 1078.9L441.0 1080.6L442.7 1082.2L444.5 1083.9L446.4 1085.5L448.2 1087.1L450.0 1088.7L451.8 1090.3L453.7 1091.9L455.5 1093.5L457.4 1095.1L459.2 1096.7L461.1 1098.3L463.0 1099.8L464.9 1101.4L466.8 1102.9L468.7 1104.4L470.6 1106.0L472.5 1107.5L474.4 1109.0L476.3 1110.5L478.3 1112.0L480.2 1113.5L482.2 1115.0L484.1 1116.4L486.1 1117.9L488.1 1119.3L490.0 1120.8L492.0 1122.2L494.0 1123.6L496.0 1125.1L498.0 1126.5L500.0 1127.9L502.1 1129.3L504.1 1130.6L506.1 1132.0L508.2 1133.4L510.2 1134.7L512.3 1136.1L514.3 1137.4L516.4 1138.7L518.5 1140.1L520.6 1141.4L522.6 1142.7L524.7 1144.0L526.8 1145.3L528.9 1146.5L531.1 1147.8L533.2 1149.0L535.3 1150.3L537.4 1151.5L539.6 1152.8L541.7 1154.0L543.9 1155.2L546.0 1156.4L548.2 1157.6L550.3 1158.8L552.5 1159.9L554.7 1161.1L556.9 1162.2L559.1 1163.4L561.2 1164.5L563.4 1165.6L565.7 1166.7L567.9 1167.8L570.1 1168.9L572.3 1170.0L574.5 1171.1L576.8 1172.2L579.0 1173.2L581.2 1174.3L583.5 1175.3L585.7 1176.3L588.0 1177.3L590.3 1178.3L592.5 1179.3L594.8 1180.3L597.1 1181.3L599.4 1182.3L601.7 1183.2L603.9 1184.2L606.2 1185.1L608.5 1186.0L610.9 1186.9L613.2 1187.8L615.5 1188.7L617.8 1189.6L620.1 1190.5L622.4 1191.3L624.8 1192.2L627.1 1193.0L629.5 1193.9L631.8 1194.7L634.1 1195.5L636.5 1196.3L638.9 1197.1L641.2 1197.9L643.6 1198.6L645.9 1199.4L648.3 1200.1L650.7 1200.9L653.1 1201.6L655.5 1202.3L657.8 1203.0L660.2 1203.7L662.6 1204.4L665.0 1205.1L667.4 1205.7L669.8 1206.4L672.2 1207.0L674.6 1207.7L677.1 1208.3L679.5 1208.9L681.9 1209.5L684.3 1210.1L686.7 1210.6L689.2 1211.2L691.6 1211.8L694.0 1212.3L696.5 1212.8L698.9 1213.4L701.3 1213.9L703.8 1214.4L706.2 1214.9L708.7 1215.3L711.1 1215.8L713.6 1216.3L716.0 1216.7L718.5 1217.1L720.9 1217.6L723.4 1218.0L725.9 1218.4L728.3 1218.8L730.8 1219.2L733.3 1219.5L735.7 1219.9L738.2 1220.2L740.7 1220.6L743.2 1220.9L745.6 1221.2L748.1 1221.5L750.6 1221.8L753.1 1222.1L755.6 1222.3L758.1 1222.6L760.5 1222.8L763.0 1223.1L765.5 1223.3L768.0 1223.5L770.5 1223.7L773.0 1223.9L775.5 1224.1L778.0 1224.2L780.5 1224.4L783.0 1224.5L785.5 1224.7L788.0 1224.8L790.5 1224.9L793.0 1225.0L795.5 1225.1L798.0 1225.2L800.5 1225.2L803.0 1225.3L805.5 1225.3L807.9 1225.4L810.4 1225.4L813.0 1225.4L815.5 1225.4L818.0 1225.4L820.5 1225.4L823.0 1225.3L825.5 1225.3L827.9 1225.2L830.4 1225.2L832.9 1225.1L835.4 1225.0L837.9 1224.9L840.4 1224.8L842.9 1224.7L845.4 1224.5L847.9 1224.4L850.4 1224.2L852.9 1224.1L855.4 1223.9L857.9 1223.7L860.4 1223.5L862.9 1223.3L865.4 1223.0L867.9 1222.8L870.4 1222.6L872.8 1222.3L875.3 1222.0L877.8 1221.7L880.3 1221.5L882.8 1221.2L885.2 1220.8L887.7 1220.5L890.2 1220.2L892.7 1219.8L895.1 1219.5L897.6 1219.1L900.1 1218.7L902.6 1218.3L905.0 1217.9L907.5 1217.5L909.9 1217.1L912.4 1216.7L914.9 1216.2L917.3 1215.7L919.8 1215.3L922.2 1214.8L924.7 1214.3L927.1 1213.8L929.5 1213.3L932.0 1212.8L934.4 1212.2L936.9 1211.7L939.3 1211.1L941.7 1210.6L944.1 1210.0L946.6 1209.4L949.0 1208.8L951.4 1208.2L953.8 1207.6L956.2 1206.9L958.6 1206.3L961.0 1205.6L963.4 1205.0L965.8 1204.3L968.2 1203.6L970.6 1202.9L973.0 1202.2L975.4 1201.5L977.8 1200.8L980.2 1200.0L982.5 1199.3L984.9 1198.5L987.3 1197.7L989.6 1197.0L992.0 1196.2L994.4 1195.4L996.7 1194.5L999.1 1193.7L1001.4 1192.9L1003.7 1192.0L1006.1 1191.2L1008.4 1190.3L1010.7 1189.4L1013.0 1188.6L1015.4 1187.7L1017.7 1186.8L1020.0 1185.8L1022.3 1184.9L1024.6 1184.0L1026.9 1183.0L1029.2 1182.1L1031.5 1181.1L1033.7 1180.1L1036.0 1179.1L1038.3 1178.1L1040.5 1177.1L1042.8 1176.1L1045.1 1175.1L1047.3 1174.0L1049.6 1173.0L1051.8 1171.9L1054.0 1170.9L1056.3 1169.8L1058.5 1168.7L1060.7 1167.6L1062.9 1166.5L1065.1 1165.4L1067.3 1164.3L1069.5 1163.1L1071.7 1162.0L1073.9 1160.8L1076.1 1159.6L1078.3 1158.5L1080.4 1157.3L1082.6 1156.1L1084.8 1154.9L1086.9 1153.7L1089.1 1152.4L1091.2 1151.2L1093.3 1150.0L1095.5 1148.7L1097.6 1147.5L1099.7 1146.2L1101.8 1144.9L1103.9 1143.6L1106.0 1142.3L1108.1 1141.0L1110.2 1139.7L1112.2 1138.4L1114.3 1137.0L1116.4 1135.7L1118.4 1134.4L1120.5 1133.0L1122.5 1131.6L1124.6 1130.2L1126.6 1128.9L1128.6 1127.5L1130.6 1126.0L1132.7 1124.6L1134.7 1123.2L1136.7 1121.8L1138.6 1120.3L1140.6 1118.9L1142.6 1117.4L1144.6 1116.0L1146.5 1114.5L1148.5 1113.0L1150.4 1111.5L1152.4 1110.0L1154.3 1108.5L1156.2 1107.0L1158.1 1105.5L1160.1 1103.9L1162.0 1102.4L1163.9 1100.8L1165.7 1099.3L1167.6 1097.7L1169.5 1096.1L1171.4 1094.6L1173.2 1093.0L1175.1 1091.4L1176.9 1089.8L1178.7 1088.1L1180.6 1086.5L1182.4 1084.9L1184.2 1083.3L1186.0 1081.6L1187.8 1080.0L1189.6 1078.3L1191.3 1076.6L1193.1 1074.9L1194.9 1073.3L1196.6 1071.6L1198.4 1069.9L1200.1 1068.2L1201.8 1066.5L1203.6 1064.7L1205.3 1063.0L1207.0 1061.3L1208.7 1059.5L1210.4 1057.8L1212.0 1056.0L1213.7 1054.3L1215.4 1052.5L1217.0 1050.7L1218.7 1048.9L1220.3 1047.1L1221.9 1045.3L1223.6 1043.5L1225.2 1041.7L1226.8 1039.9L1228.4 1038.1L1229.9 1036.2L1231.5 1034.4L1233.1 1032.5L1234.6 1030.7L1236.2 1028.8L1237.7 1027.0L1239.3 1025.1L1240.8 1023.2L1242.3 1021.3L1243.8 1019.4L1245.3 1017.5L1246.8 1015.6L1248.3 1013.7L1249.7 1011.8L1251.2 1009.9L1252.6 1007.9L1254.1 1006.0L1255.5 1004.1L1256.9 1002.1L1258.3 1000.2L1259.7 998.2L1261.1 996.2L1262.5 994.3L1263.9 992.3L1265.3 990.3L1266.6 988.3L1268.0 986.3L1269.3 984.3L1270.6 982.3L1271.9 980.3L1273.2 978.3L1274.5 976.3L1275.8 974.3L1277.1 972.2L1278.4 970.2L1279.6 968.2L1280.9 966.1L1282.1 964.1L1283.4 962.0L1284.6 960.0L1285.8 957.9L1287.0 955.8L1288.2 953.7L1289.4 951.7L1290.5 949.6L1291.7 947.5L1292.9 945.4L1294.0 943.3L1295.1 941.2L1296.3 939.1L1297.4 937.0L1298.5 934.9L1299.6 932.7L1300.6 930.6L1301.7 928.5L1302.8 926.3L1303.8 924.2L1304.9 922.1L1305.9 919.9L1306.9 917.8L1307.9 915.6L1308.9 913.5L1309.9 911.3L1310.9 909.1L1311.9 907.0L1312.9 904.8L1313.8 902.6L1314.7 900.4L1315.7 898.2L1316.6 896.1L1317.5 893.9L1318.4 891.7L1319.3 889.5L1320.2 887.3L1321.1 885.1L1321.9 882.9L1322.8 880.6L1323.6 878.4L1324.4 876.2L1325.2 874.0L1326.1 871.8L1326.9 869.5L1327.6 867.3L1328.4 865.1L1329.2 862.8L1329.9 860.6L1330.7 858.4L1331.4 856.1L1332.1 853.9L1332.9 851.6L1333.6 849.4L1334.3 847.1L1334.9 844.9L1335.6 842.6L1336.3 840.3L1336.9 838.1L1337.6 835.8L1338.2 833.5L1338.8 831.3L1339.4 829.0L1340.0 826.7L1340.6 824.4L1341.2 822.2L1341.8 819.9L1342.3 817.6L1342.9 815.3L1343.4 813.0L1343.9 810.7L1344.4 808.4L1344.9 806.2L1345.4 803.9L1345.9 801.6L1346.4 799.3L1346.9 797.0L1347.3 794.7L1347.8 792.4L1348.2 790.1L1348.6 787.8L1349.0 785.5L1349.4 783.2L1349.8 780.8L1350.2 778.5L1350.6 776.2L1350.9 773.9L1351.3 771.6L1351.6 769.3L1351.9 767.0L1352.2 764.7L1352.5 762.4L1352.8 760.0L1353.1 757.7L1353.4 755.4L1353.6 753.1L1353.9 750.8L1354.1 748.4L1354.4 746.1L1354.6 743.8L1354.8 741.5L1355.0 739.2L1355.2 736.8L1355.4 734.5L1355.5 732.2L1355.7 729.9L1355.8 727.6L1356.0 725.2L1356.1 722.9L1356.2 720.6L1356.3 718.3L1356.4 716.0L1356.5 713.6L1356.6 711.3L1356.6 709.0L1356.7 706.7L1356.7 704.4L1356.8 702.0L1356.8 699.7L1356.8 697.4L1356.8 695.1L1356.8 692.8L1356.8 690.4L1356.7 688.1L1356.7 685.8L1356.6 683.5L1356.6 681.2L1356.5 678.9L1356.4 676.6L1356.3 674.2L1356.2 671.9L1356.1 669.6L1356.0 667.3L1355.9 665.0L1355.7 662.7L1355.6 660.4L1355.4 658.1L1355.2 655.8L1355.0 653.5L1354.8 651.2L1354.6 648.9L1354.4 646.6L1354.2 644.3L1353.9 642.0L1353.7 639.7L1353.4 637.4L1353.2 635.1L1352.9 632.8L1352.6 630.6L1352.3 628.3L1352.0 626.0L1351.7 623.7L1351.4 621.4L1351.0 619.2L1350.7 616.9L1350.3 614.6L1349.9 612.3L1349.6 610.1L1349.2 607.8L1348.8 605.5L1348.4 603.3L1348.0 601.0L1347.5 598.8L1347.1 596.5L1346.6 594.3L1346.2 592.0L1345.7 589.8L1345.2 587.5L1344.7 585.3L1344.2 583.0L1343.7 580.8L1343.2 578.6L1342.7 576.3L1342.2 574.1L1341.6 571.9L1341.1 569.7L1340.5 567.4L1339.9 565.2L1339.3 563.0L1338.7 560.8L1338.1 558.6L1337.5 556.4L1336.9 554.2L1336.3 552.0L1335.6 549.8L1335.0 547.6L1334.3 545.4L1333.6 543.2L1333.0 541.0L1332.3 538.8L1331.6 536.7L1330.9 534.5L1330.1 532.3L1329.4 530.2L1328.7 528.0L1327.9 525.8L1327.2 523.7L1326.4 521.5L1325.6 519.4L1324.8 517.2L1324.0 515.1L1323.2 513.0L1322.4 510.8L1321.6 508.7L1320.8 506.6L1319.9 504.5L1319.1 502.3L1318.2 500.2L1317.4 498.1L1316.5 496.0L1315.6 493.9L1314.7 491.8L1313.8 489.7L1312.9 487.6L1312.0 485.6L1311.0 483.5L1310.1 481.4L1309.2 479.3L1308.2 477.3L1307.2 475.2L1306.3 473.2L1305.3 471.1L1304.3 469.1L1303.3 467.0L1302.3 465.0L1301.3 462.9L1300.2 460.9L1299.2 458.9L1298.2 456.9L1297.1 454.9L1296.0 452.8L1295.0 450.8L1293.9 448.8L1292.8 446.8L1291.7 444.9L1290.6 442.9L1289.5 440.9L1288.4 438.9L1287.2 436.9L1286.1 435.0L1285.0 433.0L1283.8 431.1L1282.6 429.1L1281.5 427.2L1280.3 425.2L1279.1 423.3L1277.9 421.4L1276.7 419.5L1275.5 417.5L1274.3 415.6L1273.1 413.7L1271.8 411.8L1270.6 409.9L1269.3 408.0L1268.1 406.1L1266.8 404.3L1265.5 402.4L1264.2 400.5L1262.9 398.7L1261.6 396.8L1260.3 395.0L1259.0 393.1L1257.7 391.3L1256.4 389.4L1255.0 387.6L1253.7 385.8L1252.3 384.0L1251.0 382.2L1249.6 380.4L1248.2 378.6L1246.8 376.8L1245.5 375.0L1244.1 373.2L1242.7 371.5L1241.2 369.7L1239.8 367.9L1238.4 366.2L1237.0 364.4L1235.5 362.7L1234.1 360.9L1232.6 359.2L1231.1 357.5L1229.7 355.8L1228.2 354.1L1226.7 352.4L1225.2 350.7L1223.7 349.0L1222.2 347.3L1220.7 345.6L1219.2 343.9L1217.6 342.3L1216.1 340.6L1214.6 339.0L1213.0 337.3L1211.5 335.7L1209.9 334.1L1208.3 332.4L1206.8 330.8L1205.2 329.2L1203.6 327.6L1202.0 326.0L1200.4 324.4L1198.8 322.8L1197.2 321.3L1195.5 319.7L1193.9 318.1L1192.3 316.6L1190.6 315.0L1189.0 313.5L1187.3 311.9L1185.7 310.4L1184.0 308.9L1182.3 307.4L1180.7 305.9L1179.0 304.4L1177.3 302.9L1175.6 301.4L1173.9 299.9L1172.2 298.5L1170.5 297.0L1168.7 295.5L1167.0 294.1L1165.3 292.6L1163.5 291.2L1161.8 289.8L1160.0 288.4L1158.3 287.0L1156.5 285.5L1154.8 284.2L1153.0 282.8L1151.2 281.4L1149.4 280.0L1147.6 278.6L1145.8 277.3L1144.0 275.9L1142.2 274.6L1140.4 273.2L1138.6 271.9L1136.8 270.6L1134.9 269.3L1133.1 268.0L1131.3 266.7L1129.4 265.4L1127.6 264.1L1125.7 262.8L1123.8 261.6L1122.0 260.3L1120.1 259.0L1118.2 257.8L1116.4 256.6L1114.5 255.3L1112.6 254.1L1110.7 252.9L1108.8 251.7L1106.9 250.5L1105.0 249.3L1103.0 248.1L1101.1 247.0L1099.2 245.8L1097.3 244.6L1095.3 243.5L1093.4 242.3L1091.4 241.2L1089.5 240.1L1087.5 239.0L1085.6 237.9L1083.6 236.8L1081.7 235.7L1079.7 234.6L1077.7 233.5L1075.7 232.4L1073.7 231.4L1071.8 230.3L1069.8 229.3L1067.8 228.3L1065.8 227.2" stroke="#000" stroke-width="6.60" stroke-dasharray="19.6 32.74 6.5 32.74"/>
<path d="M1187.0 667.5L1187.5 664.3L1188.0 661.1L1188.5 657.9L1188.9 654.7L1189.3 651.5L1189.7 648.3L1190.0 645.0L1190.4 641.8L1190.7 638.5L1190.9 635.3L1191.2 632.0L1191.4 628.8L1191.6 625.5L1191.7 622.2L1191.8 618.9L1191.9 615.6L1192.0 612.3L1192.1 609.0L1192.1 605.7L1192.0 602.4L1192.0 599.1L1191.9 595.7L1191.8 592.4L1191.7 589.1L1191.5 585.7L1191.3 582.4L1191.1 579.1L1190.9 575.7L1190.6 572.4L1190.3 569.0L1189.9 565.7L1189.6 562.3L1189.2 558.9L1188.7 555.6L1188.3 552.2L1187.8 548.9L1187.2 545.5L1186.7 542.1L1186.1 538.8L1185.5 535.4L1184.8 532.0L1184.2 528.7L1183.5 525.3L1182.7 522.0L1181.9 518.6L1181.1 515.2L1180.3 511.9L1179.4 508.5L1178.5 505.2L1177.6 501.8L1176.6 498.5L1175.6 495.2L1174.6 491.8L1173.5 488.5L1172.4 485.2L1171.3 481.9L1170.2 478.6L1169.0 475.2L1167.7 471.9L1166.5 468.6L1165.2 465.4L1163.9 462.1L1162.5 458.8L1161.1 455.5L1159.7 452.3L1158.3 449.0L1156.8 445.8L1155.3 442.6L1153.7 439.3L1152.1 436.1L1150.5 432.9L1148.9 429.7L1147.2 426.5L1145.5 423.4L1143.7 420.2L1142.0 417.1L1140.2 413.9L1138.4 410.8L1136.6 407.6L1134.7 404.4L1132.9 401.3L1131.0 398.1L1129.1 395.0L1127.2 391.8L1125.2 388.7L1123.2 385.6L1121.1 382.6L1119.0 379.5L1116.9 376.5L1114.7 373.5L1112.4 370.6L1110.1 367.7L1107.8 364.8L1105.4 361.9L1103.0 359.1L1100.6 356.2L1098.1 353.4L1095.6 350.6L1093.1 347.9L1090.6 345.1L1088.0 342.4L1085.4 339.7L1082.7 337.0L1080.1 334.4L1077.4 331.7L1074.6 329.1L1071.9 326.5L1069.1 324.0L1066.3 321.4L1063.4 318.9L1060.6 316.4L1057.7 313.9L1054.7 311.5L1051.8 309.1L1048.8 306.7L1045.8 304.3L1042.8 302.0L1039.7 299.7L1036.6 297.4L1033.5 295.2L1030.4 293.0L1027.2 290.8L1024.0 288.6L1020.8 286.5L1017.6 284.4L1014.3 282.3L1011.0 280.3L1007.7 278.3L1004.4 276.3L1001.0 274.4L997.7 272.4L994.3 270.6L990.8 268.7L987.4 266.9L983.9 265.1L980.4 263.4L976.9 261.6L973.4 260.0L969.9 258.3L966.3 256.7L962.7 255.1L959.1 253.6L955.5 252.1L951.9 250.6L948.2 249.1L944.6 247.7L940.9 246.4L937.2 245.0L933.4 243.7L929.7 242.5L926.0 241.2L922.2 240.1L918.4 238.9L914.6 237.8L910.8 236.7L907.0 235.7L903.2 234.7L899.4 233.7L895.5 232.8L891.6 231.9L887.8 231.0L883.9 230.2L880.0 229.4L876.1 228.7L872.2 228.0L868.3 227.3L864.3 226.7L860.4 226.1L856.5 225.6L852.5 225.1L848.5 224.6L844.6 224.2L840.6 223.8L836.7 223.4L832.7 223.1L828.7 222.8L824.7 222.6L820.7 222.4L816.7 222.3L812.8 222.1L808.8 222.1L804.8 222.0L800.8 222.0L796.8 222.1L792.8 222.2L788.8 222.3L784.8 222.4L780.8 222.7L776.8 222.9L772.8 223.2L768.8 223.5L764.9 223.9L760.9 224.3L756.9 224.7L752.9 225.2L749.0 225.7L745.0 226.3L741.1 226.9L737.1 227.6L733.2 228.3L729.3 229.0L725.4 229.8L721.5 230.6L717.6 231.4L713.7 232.3L709.8 233.2L705.9 234.2L702.1 235.2L698.2 236.2L694.4 237.3L690.5 238.4L686.7 239.6L682.9 240.8L679.2 242.0L675.4 243.3L671.6 244.6L667.9 246.0L664.2 247.3L660.5 248.8L656.8 250.2L653.1 251.7L649.4 253.3L645.8 254.8L642.2 256.4L638.6 258.1L635.0 259.8L631.4 261.5L627.9 263.2L624.4 265.0L620.9 266.8L617.4 268.7L613.9 270.5L610.5 272.5L607.0 274.4L603.7 276.4L600.3 278.4L596.9 280.5L593.6 282.5L590.3 284.7L587.0 286.8L583.8 289.0L580.5 291.2L577.3 293.4L574.1 295.7L571.0 298.0L567.9 300.3L564.8 302.7L561.7 305.1L558.6 307.5L555.6 309.9L552.6 312.4L549.7 314.9L546.7 317.4L543.8 320.0L540.9 322.6L538.1 325.2L535.3 327.8L532.5 330.5L529.7 333.2L527.0 335.9L524.3 338.6L521.6 341.4L518.9 344.2L516.3 347.0L513.8 349.8L511.2 352.6L508.7 355.5L506.2 358.4L503.7 361.3L501.3 364.3L498.9 367.2L496.6 370.2L494.2 373.2L491.9 376.2L489.7 379.2L487.4 382.3L485.2 385.4L483.1 388.4L480.9 391.5L478.8 394.7L476.7 397.8L474.7 400.9L472.7 404.1L470.7 407.3L468.7 410.5L466.8 413.7L465.0 416.9L463.1 420.2L461.3 423.4L459.5 426.7L457.8 429.9L456.0 433.2L454.4 436.5L452.7 439.8L451.1 443.2L449.5 446.5L448.0 449.9L446.5 453.2L445.0 456.6L443.5 459.9L442.1 463.3L440.8 466.7L439.4 470.1L438.1 473.5L436.8 477.0L435.6 480.4L434.4 483.8L433.2 487.3L432.1 490.7L431.0 494.2L429.9 497.6L428.9 501.1L427.9 504.5L426.9 508.0L426.0 511.5L425.1 515.0L424.2 518.5L423.4 522.0L422.6 525.5L421.8 529.0L421.1 532.5L420.4 536.0L419.7 539.5L419.1 543.0L418.5 546.5L418.0 550.0L417.4 553.5L417.0 557.0L416.5 560.5L416.1 564.0L415.7 567.5L415.3 571.0L415.0 574.5L414.7 578.0L414.5 581.5L414.3 585.0L414.1 588.5L413.9 592.0L413.8 595.5L413.7 599.0L413.7 602.5L413.7 606.0L413.7 609.4L413.7 612.9L413.8 616.4L413.9 619.8L414.1 623.3L414.3 626.7L414.5 630.2L414.7 633.6L415.0 637.0L415.3 640.4L415.6 643.9L416.0 647.3L416.4 650.7L416.8 654.0L417.3 657.4L417.8 660.8L418.3 664.1L418.9 667.5L419.5 670.8L420.1 674.2L420.8 677.5L421.5 680.8L422.2 684.1L422.9 687.4L423.7 690.7L424.5 693.9L425.3 697.2L426.2 700.4L427.1 703.7L428.0 706.9L429.0 710.1L429.9 713.3L430.9 716.4L432.0 719.6L433.0 722.8L434.1 725.9L435.2 729.0L436.4 732.1L437.5 735.2L438.7 738.3L439.9 741.4L441.2 744.4L442.4 747.4L443.7 750.5L445.0 753.5L446.4 756.4L447.7 759.4L449.1 762.4L450.5 765.3L452.0 768.2L453.4 771.1L454.9 774.0L456.4 776.9L458.0 779.7L459.5 782.6L461.1 785.4L462.7 788.2L464.3 791.0L465.9 793.8L467.6 796.5L469.3 799.2L471.0 802.0L472.7 804.7L474.4 807.3L476.2 810.0L477.9 812.6L479.7 815.3L481.6 817.9L483.4 820.5L485.2 823.0L487.1 825.6L489.0 828.1L490.9 830.6L492.8 833.1L494.8 835.6L496.7 838.1L498.7 840.5L500.7 842.9L502.7 845.3L504.7 847.7L506.8 850.1L508.8 852.4L510.9 854.7L513.0 857.0L515.1 859.3L517.2 861.6L519.4 863.8L521.5 866.1L523.7 868.3L525.8 870.5L528.0 872.6L530.2 874.8L532.5 876.9L534.7 879.0L536.9 881.1L539.2 883.2L541.5 885.3L543.7 887.3L546.0 889.3L548.3 891.3L550.7 893.3L553.0 895.2L555.3 897.2L557.7 899.1L560.0 901.0L562.4 902.9L564.8 904.8L567.2 906.6L569.6 908.4L572.0 910.2L574.4 912.0L576.9 913.8L579.3 915.5L581.8 917.2L584.3 918.9L586.8 920.6L589.3 922.3L591.8 923.9L594.3 925.5L596.8 927.1L599.4 928.7L601.9 930.3L604.5 931.8L607.0 933.3L609.6 934.8L612.2 936.3L614.8 937.8L617.4 939.2L620.0 940.6L622.6 942.0L625.2 943.4L627.9 944.7L630.5 946.0L633.2 947.3L635.8 948.6L638.5 949.9L641.2 951.1L643.8 952.4L646.5 953.6L649.2 954.7L651.9 955.9L654.6 957.0L657.4 958.2L660.1 959.3L662.8 960.3L665.5 961.4L668.3 962.4L671.0 963.4L673.8 964.4L676.5 965.4L679.3 966.3L682.1 967.3L684.8 968.2L687.6 969.1L690.4 969.9L693.2 970.8L696.0 971.6L698.8 972.4L701.6 973.2L704.4 973.9L707.2 974.7L710.0 975.4L712.8 976.1L715.6 976.8L718.5 977.4L721.3 978.0L724.1 978.6L727.0 979.2L729.8 979.8L732.6 980.4L735.5 980.9L738.3 981.4L741.2 981.9L744.0 982.3L746.9 982.8L749.7 983.2L752.6 983.6L755.4 984.0L758.3 984.3L761.2 984.7L764.0 985.0L766.9 985.3L769.7 985.6L772.6 985.8L775.5 986.0L778.3 986.3L781.2 986.5L784.1 986.6L786.9 986.8L789.8 986.9L792.7 987.0L795.5 987.1L798.4 987.2L801.3 987.2L804.2 987.2L807.0 987.2L809.9 987.2L812.7 987.2L815.6 987.1L818.5 987.0L821.3 986.9L824.2 986.8L827.1 986.7L829.9 986.5L832.8 986.3L835.6 986.1L838.5 985.9L841.3 985.6L844.2 985.4L847.0 985.1L849.9 984.8L852.7 984.5L855.6 984.1L858.4 983.7L861.2 983.4L864.1 982.9L866.9 982.5L869.7 982.1L872.5 981.6L875.4 981.1L878.2 980.6L881.0 980.1L883.8 979.5L886.6 978.9L889.4 978.3L892.2 977.7L895.0 977.1L897.8 976.4L900.6 975.8L903.3 975.1L906.1 974.4L908.9 973.6L911.6 972.9L914.4 972.1L917.1 971.3L919.9 970.5L922.6 969.6L925.4 968.8L928.1 967.9L930.8 967.0L933.5 966.1L936.3 965.2L939.0 964.2L941.7 963.2L944.4 962.2L947.1 961.2L949.7 960.2L952.4 959.1L955.1 958.0L957.7 956.9L960.4 955.8L963.0 954.7L965.7 953.5L968.3 952.3L970.9 951.1L973.5 949.9L976.1 948.7L978.7 947.4L981.3 946.1L983.9 944.9L986.5 943.5L989.0 942.2L991.6 940.8L994.1 939.5L996.7 938.1L999.2 936.6L1001.7 935.2L1004.2 933.8L1006.7 932.3L1009.2 930.8L1011.7 929.3L1014.2 927.7L1016.6 926.2L1019.1 924.6L1021.5 923.0L1023.9 921.4L1026.3 919.8L1028.7 918.1L1031.1 916.5L1033.5 914.8L1035.9 913.1L1038.2 911.3L1040.6 909.6L1042.9 907.8L1045.2 906.0L1047.5 904.2L1049.8 902.4L1052.1 900.6L1054.4 898.7L1056.7 896.8L1058.9 894.9L1061.1 893.0L1063.4 891.1L1065.6 889.1L1067.8 887.2L1069.9 885.2L1072.1 883.2L1074.2 881.1L1076.4 879.1L1078.5 877.0L1080.6 875.0L1082.7 872.9L1084.8 870.7L1086.8 868.6L1088.9 866.5L1090.9 864.3L1092.9 862.1L1094.9 859.9L1096.9 857.7L1098.9 855.4L1100.8 853.2L1102.8 850.9L1104.7 848.6L1106.6 846.3L1108.5 844.0L1110.4 841.6L1112.2 839.3L1114.1 836.9L1115.9 834.5L1117.7 832.1L1119.5 829.6L1121.2 827.2L1123.0 824.7L1124.7 822.3L1126.4 819.8L1128.1 817.3L1129.8 814.7L1131.4 812.2L1133.1 809.6L1134.7 807.1L1136.3 804.5L1137.9 801.9L1139.4 799.3L1141.0 796.6L1142.5 794.0L1144.0 791.3L1145.5 788.6L1147.0 785.9L1148.4 783.2L1149.8 780.5L1151.2 777.8L1152.6 775.0L1153.9 772.2L1155.3 769.5L1156.6 766.7L1157.9 763.9L1159.2 761.0L1160.4 758.2L1161.6 755.4L1162.9 752.5L1164.0 749.6L1165.2 746.7L1166.3 743.8L1167.5 740.9L1168.5 738.0L1169.6 735.0L1170.7 732.1L1171.7 729.1L1172.7 726.1L1173.7 723.2L1174.6 720.2L1175.5 717.1L1176.5 714.1L1177.3 711.1L1178.2 708.0L1179.0 705.0L1179.8 701.9L1180.6 698.8L1181.4 695.7L1182.1 692.6L1182.8 689.5L1183.5 686.4L1184.1 683.3L1184.8 680.1L1185.4 677.0L1185.9 673.8L1186.5 670.7L1187.0 667.5Z" stroke="#32cd32" stroke-width="12.00"/>
<path d="M1187.0 667.5L1187.5 664.3L1188.0 661.1L1188.5 657.9L1188.9 654.7L1189.3 651.5L1189.7 648.3L1190.0 645.0L1190.4 641.8L1190.7 638.5L1190.9 635.3L1191.2 632.0L1191.4 628.8L1191.6 625.5L1191.7 622.2L1191.8 618.9L1191.9 615.6L1192.0 612.3L1192.1 609.0L1192.1 605.7L1192.0 602.4L1192.0 599.1L1191.9 595.7L1191.8 592.4L1191.7 589.1L1191.5 585.7L1191.3 582.4L1191.1 579.1L1190.9 575.7L1190.6 572.4L1190.3 569.0L1189.9 565.7L1189.6 562.3L1189.2 558.9L1188.7 555.6L1188.3 552.2L1187.8 548.9L1187.2 545.5L1186.7 542.1L1186.1 538.8L1185.5 535.4L1184.8 532.0L1184.2 528.7L1183.5 525.3L1182.7 522.0L1181.9 518.6L1181.1 515.2L1180.3 511.9L1179.4 508.5L1178.5 505.2L1177.6 501.8L1176.6 498.5L1175.6 495.2L1174.6 491.8L1173.5 488.5L1172.4 485.2L1171.3 481.9L1170.2 478.6L1169.0 475.2L1167.7 471.9L1166.5 468.6L1165.2 465.4L1163.9 462.1L1162.5 458.8L1161.1 455.5L1159.7 452.3L1158.3 449.0L1156.8 445.8L1155.3 442.6L1153.7 439.3L1152.1 436.1L1150.5 432.9L1148.9 429.7L1147.2 426.5L1145.5 423.4L1143.7 420.2L1142.0 417.1L1140.2 413.9L1138.4 410.8L1136.6 407.6L1134.7 404.4L1132.9 401.3L1131.0 398.1L1129.1 395.0L1127.2 391.8L1125.2 388.7L1123.2 385.6L1121.1 382.6L1119.0 379.5L1116.9 376.5L1114.7 373.5L1112.4 370.6L1110.1 367.7L1107.8 364.8L1105.4 361.9L1103.0 359.1L1100.6 356.2L1098.1 353.4L1095.6 350.6L1093.1 347.9L1090.6 345.1L1088.0 342.4L1085.4 339.7L1082.7 337.0L1080.1 334.4L1077.4 331.7L1074.6 329.1L1071.9 326.5L1069.1 324.0L1066.3 321.4L1063.4 318.9L1060.6 316.4L1057.7 313.9L1054.7 311.5L1051.8 309.1L1048.8 306.7L1045.8 304.3L1042.8 302.0L1039.7 299.7L1036.6 297.4L1033.5 295.2L1030.4 293.0L1027.2 290.8L1024.0 288.6L1020.8 286.5L1017.6 284.4L1014.3 282.3L1011.0 280.3L1007.7 278.3L1004.4 276.3L1001.0 274.4L997.7 272.4L994.3 270.6L990.8 268.7L987.4 266.9L983.9 265.1L980.4 263.4L976.9 261.6L973.4 260.0L969.9 258.3L966.3 256.7L962.7 255.1L959.1 253.6L955.5 252.1L951.9 250.6L948.2 249.1L944.6 247.7L940.9 246.4L937.2 245.0L933.4 243.7L929.7 242.5L926.0 241.2L922.2 240.1L918.4 238.9L914.6 237.8L910.8 236.7L907.0 235.7L903.2 234.7L899.4 233.7L895.5 232.8L891.6 231.9L887.8 231.0L883.9 230.2L880.0 229.4L876.1 228.7L872.2 228.0L868.3 227.3L864.3 226.7L860.4 226.1L856.5 225.6L852.5 225.1L848.5 224.6L844.6 224.2L840.6 223.8L836.7 223.4L832.7 223.1L828.7 222.8L824.7 222.6L820.7 222.4L816.7 222.3L812.8 222.1L808.8 222.1L804.8 222.0L800.8 222.0L796.8 222.1L792.8 222.2L788.8 222.3L784.8 222.4L780.8 222.7L776.8 222.9L772.8 223.2L768.8 223.5L764.9 223.9L760.9 224.3L756.9 224.7L752.9 225.2L749.0 225.7L745.0 226.3L741.1 226.9L737.1 227.6L733.2 228.3L729.3 229.0L725.4 229.8L721.5 230.6L717.6 231.4L713.7 232.3L709.8 233.2L705.9 234.2L702.1 235.2L698.2 236.2L694.4 237.3L690.5 238.4L686.7 239.6L682.9 240.8L679.2 242.0L675.4 243.3L671.6 244.6L667.9 246.0L664.2 247.3L660.5 248.8L656.8 250.2L653.1 251.7L649.4 253.3L645.8 254.8L642.2 256.4L638.6 258.1L635.0 259.8L631.4 261.5L627.9 263.2L624.4 265.0L620.9 266.8L617.4 268.7L613.9 270.5L610.5 272.5L607.0 274.4L603.7 276.4L600.3 278.4L596.9 280.5L593.6 282.5L590.3 284.7L587.0 286.8L583.8 289.0L580.5 291.2L577.3 293.4L574.1 295.7L571.0 298.0L567.9 300.3L564.8 302.7L561.7 305.1L558.6 307.5L555.6 309.9L552.6 312.4L549.7 314.9L546.7 317.4L543.8 320.0L540.9 322.6L538.1 325.2L535.3 327.8L532.5 330.5L529.7 333.2L527.0 335.9L524.3 338.6L521.6 341.4L518.9 344.2L516.3 347.0L513.8 349.8L511.2 352.6L508.7 355.5L506.2 358.4L503.7 361.3L501.3 364.3L498.9 367.2L496.6 370.2L494.2 373.2L491.9 376.2L489.7 379.2L487.4 382.3L485.2 385.4L483.1 388.4L480.9 391.5L478.8 394.7L476.7 397.8L474.7 400.9L472.7 404.1L470.7 407.3L468.7 410.5L466.8 413.7L465.0 416.9L463.1 420.2L461.3 423.4L459.5 426.7L457.8 429.9L456.0 433.2L454.4 436.5L452.7 439.8L451.1 443.2L449.5 446.5L448.0 449.9L446.5 453.2L445.0 456.6L443.5 459.9L442.1 463.3L440.8 466.7L439.4 470.1L438.1 473.5L436.8 477.0L435.6 480.4L434.4 483.8L433.2 487.3L432.1 490.7L431.0 494.2L429.9 497.6L428.9 501.1L427.9 504.5L426.9 508.0L426.0 511.5L425.1 515.0L424.2 518.5L423.4 522.0L422.6 525.5L421.8 529.0L421.1 532.5L420.4 536.0L419.7 539.5L419.1 543.0L418.5 546.5L418.0 550.0L417.4 553.5L417.0 557.0L416.5 560.5L416.1 564.0L415.7 567.5L415.3 571.0L415.0 574.5L414.7 578.0L414.5 581.5L414.3 585.0L414.1 588.5L413.9 592.0L413.8 595.5L413.7 599.0L413.7 602.5L413.7 606.0L413.7 609.4L413.7 612.9L413.8 616.4L413.9 619.8L414.1 623.3L414.3 626.7L414.5 630.2L414.7 633.6L415.0 637.0L415.3 640.4L415.6 643.9L416.0 647.3L416.4 650.7L416.8 654.0L417.3 657.4L417.8 660.8L418.3 664.1L418.9 667.5L419.5 670.8L420.1 674.2L420.8 677.5L421.5 680.8L422.2 684.1L422.9 687.4L423.7 690.7L424.5 693.9L425.3 697.2L426.2 700.4L427.1 703.7L428.0 706.9L428.9 710.1L429.9 713.3L430.9 716.4L431.9 719.6L433.0 722.8L434.1 725.9L435.2 729.0L436.3 732.1L437.5 735.2L438.6 738.3L439.9 741.4L441.1 744.4L442.4 747.5L443.6 750.5L444.9 753.5L446.3 756.5L447.6 759.4L449.0 762.4L450.4 765.3L451.9 768.3L453.3 771.2L454.8 774.1L456.3 776.9L457.8 779.8L459.3 782.6L460.9 785.5L462.5 788.3L464.1 791.1L465.7 793.8L467.4 796.6L469.1 799.3L470.7 802.0L472.5 804.7L474.2 807.4L475.9 810.1L477.7 812.7L479.5 815.4L481.3 818.0L483.1 820.6L485.0 823.2L486.9 825.7L488.7 828.2L490.6 830.8L492.6 833.3L494.5 835.7L496.5 838.2L498.4 840.7L500.4 843.1L502.4 845.5L504.4 847.9L506.5 850.2L508.5 852.6L510.6 854.9L512.7 857.2L514.8 859.5L516.9 861.8L519.0 864.1L521.2 866.3L523.3 868.5L525.5 870.7L527.7 872.9L529.9 875.0L532.1 877.2L534.3 879.3L536.6 881.4L538.8 883.5L541.1 885.5L543.4 887.6L545.7 889.6L548.0 891.6L550.3 893.6L552.6 895.6L555.0 897.5L557.3 899.4L559.7 901.3L562.1 903.2L564.4 905.1L566.8 906.9L569.2 908.8L571.7 910.6L574.1 912.4L576.5 914.1L579.0 915.9L581.5 917.6L583.9 919.3L586.4 921.0L588.9 922.7L591.4 924.3L593.9 926.0L596.5 927.6L599.0 929.2L601.5 930.7L604.1 932.3L606.7 933.8L609.2 935.3L611.8 936.8L614.4 938.3L617.0 939.7L619.6 941.1L622.2 942.5L624.8 943.9L627.5 945.3L630.1 946.6L632.8 947.9L635.4 949.2L638.1 950.5L640.8 951.8L643.4 953.0L646.1 954.2L648.8 955.4L651.5 956.6L654.2 957.8L657.0 958.9L659.7 960.0L662.4 961.1L665.1 962.2L667.9 963.2L670.6 964.3L673.4 965.3L676.1 966.3L678.9 967.2L681.7 968.2L684.5 969.1L687.2 970.0L690.0 970.9L692.8 971.7L695.6 972.6L698.4 973.4L701.2 974.2L704.0 975.0L706.8 975.7L709.6 976.5L712.5 977.2L715.3 977.9L718.1 978.6L721.0 979.2L723.8 979.9L726.6 980.5L729.5 981.1L732.3 981.6L735.2 982.2L738.0 982.7L740.9 983.2L743.7 983.7L746.6 984.2L749.4 984.7L752.3 985.1L755.2 985.5L758.0 985.9L760.9 986.3L763.8 986.6L766.6 986.9L769.5 987.2L772.4 987.5L775.3 987.8L778.2 988.0L781.0 988.2L783.9 988.4L786.8 988.6L789.7 988.8L792.6 988.9L795.4 989.0L798.3 989.1L801.2 989.2L804.1 989.2L807.0 989.3L809.9 989.3L812.7 989.3L815.6 989.2L818.5 989.2L821.4 989.1L824.3 989.0L827.2 988.9L830.0 988.8L832.9 988.6L835.8 988.4L838.7 988.2L841.5 988.0L844.4 987.8L847.3 987.5L850.2 987.2L853.0 986.9L855.9 986.6L858.8 986.3L861.6 985.9L864.5 985.5L867.3 985.1L870.2 984.7L873.0 984.3L875.9 983.8L878.7 983.3L881.6 982.8L884.4 982.3L887.3 981.7L890.1 981.2L892.9 980.6L895.7 980.0L898.6 979.3L901.4 978.7L904.2 978.0L907.0 977.3L909.8 976.6L912.6 975.8L915.4 975.1L918.2 974.3L921.0 973.5L923.7 972.7L926.5 971.8L929.3 970.9L932.0 970.1L934.8 969.1L937.5 968.2L940.3 967.3L943.0 966.3L945.7 965.3L948.4 964.3L951.2 963.2L953.9 962.2L956.6 961.1L959.3 960.0L961.9 958.8L964.6 957.7L967.3 956.5L969.9 955.3L972.6 954.1L975.2 952.9L977.8 951.6L980.5 950.4L983.1 949.1L985.7 947.7L988.3 946.4L990.9 945.0L993.4 943.7L996.0 942.2L998.5 940.8L1001.1 939.4L1003.6 937.9L1006.1 936.4L1008.7 934.9L1011.2 933.4L1013.6 931.9L1016.1 930.3L1018.6 928.7L1021.1 927.1L1023.5 925.5L1025.9 923.8L1028.4 922.2L1030.8 920.5L1033.2 918.8L1035.5 917.1L1037.9 915.3L1040.3 913.5L1042.6 911.8L1045.0 910.0L1047.3 908.1L1049.6 906.3L1051.9 904.4L1054.2 902.6L1056.4 900.7L1058.7 898.8L1060.9 896.8L1063.2 894.9L1065.4 892.9L1067.6 890.9L1069.8 888.9L1071.9 886.9L1074.1 884.8L1076.2 882.8L1078.4 880.7L1080.5 878.6L1082.6 876.5L1084.7 874.4L1086.7 872.2L1088.8 870.0L1090.8 867.9L1092.8 865.6L1094.9 863.4L1096.8 861.2L1098.8 858.9L1100.8 856.7L1102.7 854.4L1104.6 852.1L1106.6 849.7L1108.4 847.4L1110.3 845.1L1112.2 842.7L1114.0 840.3L1115.8 837.9L1117.6 835.5L1119.4 833.0L1121.2 830.6L1122.9 828.1L1124.7 825.6L1126.4 823.1L1128.1 820.6L1129.7 818.0L1131.4 815.5L1133.0 812.9L1134.6 810.3L1136.2 807.7L1137.8 805.1L1139.3 802.5L1140.8 799.8L1142.3 797.2L1143.8 794.5L1145.3 791.8L1146.7 789.1L1148.1 786.4L1149.5 783.6L1150.9 780.9L1152.3 778.1L1153.6 775.3L1154.9 772.5L1156.2 769.7L1157.5 766.9L1158.7 764.1L1160.0 761.3L1161.2 758.4L1162.4 755.5L1163.5 752.7L1164.7 749.8L1165.8 746.9L1166.9 743.9L1168.0 741.0L1169.0 738.1L1170.1 735.1L1171.1 732.2L1172.1 729.2L1173.1 726.2L1174.0 723.2L1174.9 720.2L1175.9 717.2L1176.7 714.2L1177.6 711.1L1178.4 708.1L1179.2 705.0L1180.0 701.9L1180.8 698.9L1181.5 695.8L1182.2 692.7L1182.9 689.5L1183.6 686.4L1184.2 683.3L1184.8 680.2L1185.4 677.0L1186.0 673.8L1186.5 670.7L1187.0 667.5Z" stroke="#32cd32" stroke-width="12.00"/>
<path d="M418.9 667.5L419.5 670.8L420.2 674.2L420.9 677.5L421.6 680.8L422.3 684.1L423.1 687.4L423.9 690.7L424.7 694.0L425.5 697.2L426.4 700.5L427.3 703.7L428.3 706.9L429.2 710.1L430.2 713.3L431.3 716.5L432.3 719.7L433.4 722.8L434.5 725.9L435.6 729.1L436.8 732.2L437.9 735.3L439.2 738.3L440.4 741.4L441.6 744.4L442.9 747.5L444.2 750.5L445.6 753.5L446.9 756.5L448.3 759.4L449.7 762.4L451.1 765.3L452.6 768.2L454.1 771.1L455.6 774.0L457.1 776.9L458.6 779.7L460.2 782.6L461.8 785.4L463.4 788.2L465.0 791.0L466.7 793.7L468.3 796.5L470.0 799.2L471.8 801.9L473.5 804.6L475.3 807.3L477.1 809.9L478.9 812.5L480.7 815.1L482.6 817.7L484.4 820.3L486.3 822.8L488.2 825.4L490.2 827.9L492.1 830.4L494.1 832.8L496.1 835.3L498.1 837.7L500.1 840.1L502.1 842.5L504.2 844.9L506.3 847.2L508.3 849.5L510.4 851.8L512.6 854.1L514.7 856.4L516.8 858.6L519.0 860.9L521.2 863.1L523.3 865.3L525.5 867.4L527.7 869.6L530.0 871.7L532.2 873.9L534.4 875.9L536.7 878.0L539.0 880.1L541.2 882.1L543.5 884.1L545.9 886.1L548.2 888.1L550.5 890.0L552.9 892.0L555.2 893.9L557.6 895.7L560.0 897.6L562.4 899.4L564.8 901.2L567.3 903.0L569.7 904.8L572.2 906.5L574.7 908.2L577.2 909.9L579.7 911.5L582.3 913.1L584.8 914.7L587.4 916.3L589.9 917.8L592.5 919.3L595.1 920.8L597.7 922.3L600.3 923.7L603.0 925.1L605.6 926.5L608.2 927.9L610.9 929.3L613.5 930.6L616.2 931.9L618.8 933.2L621.5 934.5L624.1 935.8L626.8 937.0L629.4 938.2L632.1 939.5L634.7 940.7L637.4 941.8L640.1 943.0L642.8 944.1L645.4 945.2L648.1 946.3L650.8 947.4L653.5 948.5L656.2 949.5L658.9 950.5L661.6 951.5L664.3 952.5L667.1 953.4L669.8 954.4L672.5 955.3L675.3 956.1L678.0 957.0L680.7 957.8L683.5 958.6L686.2 959.4L689.0 960.2L691.7 960.9L694.5 961.6L697.3 962.3L700.0 963.0L702.8 963.6L705.6 964.3L708.3 964.9L711.1 965.5L713.9 966.0L716.7 966.6L719.4 967.1L722.2 967.6L725.0 968.1L727.8 968.5L730.6 969.0L733.3 969.4L736.1 969.8L738.9 970.2L741.7 970.5L744.5 970.9L747.3 971.2L750.0 971.5L752.8 971.7L755.6 972.0L758.4 972.2L761.2 972.4L763.9 972.6L766.7 972.7L769.5 972.8L772.3 973.0L775.0 973.0L777.8 973.1L780.6 973.1L783.4 973.2L786.1 973.2L788.9 973.2L791.7 973.1L794.4 973.1L797.2 973.0L799.9 972.9L802.7 972.8L805.4 972.6L808.2 972.4L810.9 972.2L813.6 972.0L816.4 971.7L819.1 971.4L821.8 971.1L824.5 970.7L827.2 970.3L829.9 969.9L832.6 969.5L835.3 969.0L838.0 968.5" stroke="#32cd32" stroke-width="12.00"/>
<path d="M1065.0 667.5L1064.8 665.4L1064.6 663.2L1064.4 661.1L1064.1 659.0L1063.9 656.8L1063.6 654.7L1063.3 652.6L1063.0 650.5L1062.6 648.4L1062.2 646.2L1061.8 644.1L1061.4 642.1L1061.0 640.0L1060.5 637.9L1060.1 635.8L1059.6 633.7L1059.1 631.7L1058.5 629.6L1058.0 627.5L1057.4 625.5L1056.8 623.5L1056.2 621.4L1055.6 619.4L1054.9 617.4L1054.2 615.4L1053.5 613.4L1052.8 611.4L1052.1 609.4L1051.4 607.4L1050.6 605.4L1049.8 603.5L1049.0 601.5L1048.2 599.6L1047.3 597.7L1046.5 595.7L1045.6 593.8L1044.7 591.9L1043.8 590.0L1042.8 588.2L1041.9 586.3L1040.9 584.4L1039.9 582.6L1038.9 580.7L1037.9 578.9L1036.9 577.1L1035.8 575.3L1034.8 573.5L1033.7 571.7L1032.6 569.9L1031.5 568.2L1030.4 566.4L1029.2 564.7L1028.0 563.0L1026.9 561.3L1025.7 559.6L1024.5 557.9L1023.2 556.2L1022.0 554.6L1020.8 552.9L1019.5 551.3L1018.2 549.7L1016.9 548.0L1015.6 546.5L1014.3 544.9L1013.0 543.3L1011.6 541.8L1010.3 540.2L1008.9 538.7L1007.5 537.2L1006.1 535.7L1004.7 534.2L1003.3 532.7L1001.8 531.3L1000.4 529.8L998.9 528.4L997.4 527.0L996.0 525.6L994.5 524.2L993.0 522.9L991.4 521.5L989.9 520.2L988.4 518.8L986.8 517.5L985.3 516.2L983.7 515.0L982.1 513.7L980.5 512.5L979.0 511.2L977.3 510.0L975.7 508.8L974.1 507.6L972.5 506.5L970.8 505.3L969.2 504.2L967.5 503.0L965.9 501.9L964.2 500.8L962.5 499.8L960.8 498.7L959.1 497.7L957.4 496.6L955.7 495.6L954.0 494.6L952.3 493.6L950.5 492.7L948.8 491.7L947.0 490.8L945.3 489.9L943.5 489.0L941.8 488.1L940.0 487.2L938.2 486.4L936.4 485.5L934.7 484.7L932.9 483.9L931.1 483.1L929.3 482.4L927.5 481.6L925.7 480.9L923.9 480.1L922.0 479.4L920.2 478.7L918.4 478.1L916.6 477.4L914.7 476.8L912.9 476.1L911.1 475.5L909.2 474.9L907.4 474.3L905.5 473.8L903.7 473.2L901.8 472.7L900.0 472.2L898.1 471.7L896.3 471.2L894.4 470.7L892.5 470.3L890.7 469.8L888.8 469.4L886.9 469.0L885.1 468.6L883.2 468.2L881.3 467.9L879.5 467.5L877.6 467.2L875.7 466.9L873.9 466.6L872.0 466.3L870.1 466.1L868.3 465.8L866.4 465.6L864.5 465.4L862.6 465.2L860.8 465.0L858.9 464.8L857.0 464.6L855.2 464.5L853.3 464.4L851.4 464.3L849.6 464.2L847.7 464.1L845.9 464.0L844.0 464.0L842.1 463.9L840.3 463.9L838.4 463.9L836.6 463.9L834.7 463.9L832.9 464.0L831.0 464.0L829.2 464.1L827.4 464.2L825.5 464.3L823.7 464.4L821.9 464.5L820.0 464.6L818.2 464.8L816.4 464.9L814.6 465.1L812.8 465.3L810.9 465.5L809.1 465.7L807.3 466.0L805.5 466.2L803.7 466.5L801.9 466.8L800.2 467.1L798.4 467.4L796.6 467.7L794.8 468.0L793.1 468.4L791.3 468.7L789.5 469.1L787.8 469.5L786.0 469.9L784.3 470.3L782.5 470.7L780.8 471.2L779.1 471.6L777.4 472.1L775.6 472.6L773.9 473.0L772.2 473.5L770.5 474.1L768.8 474.6L767.1 475.1L765.5 475.7L763.8 476.3L762.1 476.8L760.4 477.4L758.8 478.0L757.1 478.6L755.5 479.3L753.8 479.9L752.2 480.6L750.6 481.2L749.0 481.9L747.4 482.6L745.8 483.3L744.2 484.0L742.6 484.7L741.0 485.4L739.4 486.2L737.8 486.9L736.3 487.7L734.7 488.5L733.2 489.3L731.6 490.1L730.1 490.9L728.6 491.7L727.0 492.6L725.5 493.4L724.0 494.3L722.5 495.1L721.1 496.0L719.6 496.9L718.1 497.8L716.6 498.7L715.2 499.6L713.8 500.5L712.3 501.5L710.9 502.4L709.5 503.4L708.1 504.4L706.7 505.3L705.3 506.3L703.9 507.3L702.5 508.3L701.1 509.4L699.8 510.4L698.4 511.4L697.1 512.5L695.8 513.5L694.4 514.6L693.1 515.7L691.8 516.8L690.5 517.9L689.2 519.0L688.0 520.1L686.7 521.2L685.4 522.4L684.2 523.5L682.9 524.6L681.7 525.8L680.5 527.0L679.3 528.1L678.1 529.3L676.9 530.5L675.7 531.7L674.6 532.9L673.4 534.2L672.2 535.4L671.1 536.6L670.0 537.9L668.9 539.1L667.7 540.4L666.7 541.6L665.6 542.9L664.5 544.2L663.4 545.5L662.4 546.8L661.3 548.1L660.3 549.4L659.3 550.7L658.2 552.1L657.2 553.4L656.2 554.7L655.3 556.1L654.3 557.4L653.3 558.8L652.4 560.2L651.4 561.6L650.5 562.9L649.6 564.3L648.7 565.7L647.8 567.1L646.9 568.5L646.0 570.0L645.2 571.4L644.3 572.8L643.5 574.3L642.7 575.7L641.8 577.1L641.0 578.6L640.2 580.1L639.5 581.5L638.7 583.0L637.9 584.5L637.2 586.0L636.4 587.5L635.7 588.9L635.0 590.4L634.3 592.0L633.6 593.5L632.9 595.0L632.3 596.5L631.6 598.0L631.0 599.6L630.4 601.1L629.7 602.6L629.1 604.2L628.5 605.7L628.0 607.3L627.4 608.9L626.8 610.4L626.3 612.0L625.8 613.6L625.2 615.1L624.7 616.7L624.2 618.3L623.8 619.9L623.3 621.5L622.8 623.1L622.4 624.7L622.0 626.3L621.5 627.9L621.1 629.5L620.7 631.2L620.4 632.8L620.0 634.4L619.6 636.0L619.3 637.7L619.0 639.3L618.6 640.9L618.3 642.6L618.0 644.2L617.8 645.9L617.5 647.5L617.2 649.2L617.0 650.8L616.8 652.5L616.6 654.1L616.4 655.8L616.2 657.5L616.0 659.1L615.8 660.8L615.7 662.5L615.5 664.1L615.4 665.8L615.3 667.5L615.2 669.2L615.1 670.9L615.1 672.5L615.0 674.2L615.0 675.9L614.9 677.6L614.9 679.3L614.9 681.0L614.9 682.7L615.0 684.3L615.0 686.0L615.1 687.7L615.1 689.4L615.2 691.1L615.3 692.8L615.4 694.5L615.5 696.2L615.7 697.9L615.8 699.6L616.0 701.3L616.1 703.0L616.3 704.7L616.5 706.4L616.7 708.1L617.0 709.8L617.2 711.5L617.5 713.1L617.7 714.8L618.0 716.5L618.3 718.2L618.6 719.9L619.0 721.6L619.3 723.3L619.7 725.0L620.0 726.7L620.4 728.3L620.8 730.0L621.2 731.7L621.7 733.4L622.1 735.1L622.6 736.7L623.0 738.4L623.5 740.1L624.0 741.8L624.5 743.4L625.0 745.1L625.6 746.7L626.1 748.4L626.7 750.1L627.3 751.7L627.9 753.4L628.5 755.0L629.1 756.7L629.7 758.3L630.4 759.9L631.0 761.6L631.7 763.2L632.4 764.8L633.1 766.5L633.8 768.1L634.6 769.7L635.3 771.3L636.1 772.9L636.9 774.5L637.7 776.1L638.5 777.7L639.3 779.3L640.1 780.9L641.0 782.4L641.8 784.0L642.7 785.6L643.6 787.2L644.5 788.7L645.4 790.3L646.4 791.8L647.3 793.4L648.3 794.9L649.2 796.4L650.2 797.9L651.2 799.5L652.3 801.0L653.3 802.5L654.3 804.0L655.4 805.5L656.5 807.0L657.5 808.4L658.6 809.9L659.7 811.4L660.9 812.8L662.0 814.3L663.2 815.7L664.3 817.1L665.5 818.6L666.7 820.0L667.9 821.4L669.1 822.8L670.4 824.2L671.6 825.6L672.9 827.0L674.2 828.3L675.4 829.7L676.7 831.0L678.1 832.4L679.4 833.7L680.7 835.0L682.1 836.3L683.4 837.6L684.8 838.9L686.2 840.2L687.6 841.5L689.0 842.8L690.5 844.0L691.9 845.3L693.4 846.5L694.8 847.7L696.3 848.9L697.8 850.1L699.3 851.3L700.8 852.5L702.4 853.7L703.9 854.8L705.5 856.0L707.0 857.1L708.6 858.2L710.2 859.3L711.8 860.4L713.4 861.5L715.0 862.6L716.7 863.7L718.3 864.7L720.0 865.8L721.6 866.8L723.3 867.8L725.0 868.8L726.7 869.8L728.4 870.7L730.1 871.7L731.9 872.6L733.6 873.6L735.4 874.5L737.1 875.4L738.9 876.3L740.7 877.2L742.5 878.0L744.3 878.9L746.1 879.7L747.9 880.5L749.8 881.3L751.6 882.1L753.5 882.9L755.3 883.6L757.2 884.4L759.1 885.1L761.0 885.8L762.9 886.5L764.8 887.2L766.7 887.9L768.6 888.5L770.6 889.2L772.5 889.8L774.4 890.4L776.4 891.0L778.4 891.5L780.3 892.1L782.3 892.6L784.3 893.1L786.3 893.6L788.3 894.1L790.3 894.6L792.3 895.0L794.3 895.5L796.3 895.9L798.4 896.3L800.4 896.7L802.5 897.0L804.5 897.4L806.6 897.7L808.6 898.0L810.7 898.3L812.8 898.6L814.8 898.8L816.9 899.1L819.0 899.3L821.1 899.5L823.2 899.7L825.3 899.8L827.4 900.0L829.5 900.1L831.6 900.2L833.7 900.3L835.8 900.3L837.9 900.4L840.0 900.4L842.1 900.4L844.2 900.4L846.4 900.4L848.5 900.3L850.6 900.3L852.7 900.2L854.9 900.1L857.0 899.9L859.1 899.8L861.3 899.6L863.4 899.5L865.5 899.2L867.6 899.0L869.8 898.8L871.9 898.5L874.0 898.2L876.2 897.9L878.3 897.6L880.4 897.2L882.5 896.9L884.7 896.5L886.8 896.1L888.9 895.7L891.0 895.2L893.1 894.8L895.2 894.3L897.3 893.8L899.4 893.2L901.5 892.7L903.6 892.1L905.7 891.5L907.8 890.9L909.9 890.3L912.0 889.7L914.0 889.0L916.1 888.3L918.2 887.6L920.2 886.9L922.3 886.1L924.3 885.3L926.3 884.6L928.4 883.7L930.4 882.9L932.4 882.1L934.4 881.2L936.4 880.3L938.4 879.4L940.4 878.5L942.4 877.5L944.3 876.6L946.3 875.6L948.2 874.6L950.2 873.6L952.1 872.5L954.0 871.5L956.0 870.4L957.9 869.3L959.8 868.2L961.6 867.0L963.5 865.9L965.4 864.7L967.2 863.5L969.1 862.3L970.9 861.1L972.7 859.8L974.5 858.5L976.3 857.3L978.1 856.0L979.8 854.6L981.6 853.3L983.3 851.9L985.0 850.6L986.8 849.2L988.4 847.8L990.1 846.4L991.8 844.9L993.5 843.5L995.1 842.0L996.7 840.5L998.3 839.0L999.9 837.5L1001.5 835.9L1003.1 834.4L1004.6 832.8L1006.2 831.2L1007.7 829.6L1009.2 828.0L1010.7 826.4L1012.1 824.7L1013.6 823.0L1015.0 821.4L1016.4 819.7L1017.8 818.0L1019.2 816.3L1020.6 814.5L1021.9 812.8L1023.2 811.0L1024.6 809.2L1025.8 807.5L1027.1 805.7L1028.4 803.8L1029.6 802.0L1030.8 800.2L1032.0 798.3L1033.2 796.5L1034.4 794.6L1035.5 792.7L1036.6 790.8L1037.7 788.9L1038.8 787.0L1039.9 785.1L1040.9 783.1L1041.9 781.2L1042.9 779.2L1043.9 777.3L1044.9 775.3L1045.8 773.3L1046.7 771.3L1047.6 769.3L1048.5 767.3L1049.3 765.3L1050.2 763.3L1051.0 761.2L1051.8 759.2L1052.5 757.1L1053.3 755.1L1054.0 753.0L1054.7 750.9L1055.4 748.9L1056.1 746.8L1056.7 744.7L1057.3 742.6L1057.9 740.5L1058.5 738.4L1059.0 736.3L1059.6 734.1L1060.1 732.0L1060.6 729.9L1061.0 727.8L1061.5 725.6L1061.9 723.5L1062.3 721.4L1062.7 719.2L1063.0 717.1L1063.3 714.9L1063.6 712.8L1063.9 710.6L1064.2 708.5L1064.4 706.3L1064.6 704.2L1064.8 702.0L1065.0 699.8L1065.2 697.7L1065.3 695.5L1065.4 693.4L1065.5 691.2L1065.6 689.0L1065.6 686.9L1065.6 684.7L1065.6 682.6L1065.6 680.4L1065.5 678.2L1065.5 676.1L1065.4 673.9L1065.3 671.8L1065.1 669.6L1065.0 667.5Z" stroke="#ff0000" stroke-width="12.00"/>
<path d="M613.7 667.5L613.6 669.2L613.6 670.9L613.5 672.6L613.5 674.3L613.4 676.0L613.4 677.7L613.4 679.4L613.4 681.1L613.5 682.8L613.5 684.5L613.5 686.2L613.6 687.9L613.7 689.6L613.8 691.3L613.9 693.0L614.0 694.7L614.1 696.4L614.3 698.1L614.4 699.8L614.6 701.5L614.8 703.2L615.0 704.9L615.2 706.6L615.4 708.3L615.7 710.0L615.9 711.7L616.2 713.4L616.5 715.1L616.8 716.8L617.1 718.5L617.4 720.2L617.8 721.9L618.1 723.6L618.5 725.3L618.9 727.0L619.3 728.7L619.7 730.4L620.1 732.1L620.5 733.8L621.0 735.5L621.4 737.1L621.9 738.8L622.4 740.5L622.9 742.2L623.4 743.9L624.0 745.5L624.5 747.2L625.1 748.9L625.7 750.5L626.2 752.2L626.9 753.8L627.5 755.5L628.1 757.1L628.7 758.8L629.4 760.4L630.1 762.1L630.8 763.7L631.5 765.3L632.2 767.0L632.9 768.6L633.7 770.2L634.4 771.8L635.2 773.4L636.0 775.1L636.8 776.7L637.6 778.3L638.4 779.9L639.3 781.4L640.1 783.0L641.0 784.6L641.9 786.2L642.8 787.7L643.7 789.3L644.6 790.9L645.5 792.4L646.5 794.0L647.5 795.5L648.4 797.0L649.4 798.6L650.5 800.1L651.5 801.6L652.5 803.1L653.6 804.6L654.6 806.1L655.7 807.6L656.8 809.1L657.9 810.6L659.0 812.0L660.2 813.5L661.3 815.0L662.5 816.4L663.6 817.9L664.8 819.3L666.0 820.7L667.2 822.1L668.5 823.5L669.7 824.9L671.0 826.3L672.2 827.7L673.5 829.1L674.8 830.5L676.1 831.8L677.4 833.2L678.8 834.5L680.1 835.8L681.5 837.1L682.8 838.5L684.2 839.8L685.6 841.1L687.0 842.3L688.4 843.6L689.9 844.9L691.3 846.1L692.8 847.4L694.3 848.6L695.7 849.8L697.2 851.0L698.8 852.2L700.3 853.4L701.8 854.6L703.4 855.8L704.9 856.9L706.5 858.1L708.1 859.2L709.7 860.3L711.3 861.4L712.9 862.5L714.5 863.6L716.2 864.7L717.8 865.7L719.5 866.8L721.2 867.8L722.8 868.8L724.5 869.8L726.3 870.8L728.0 871.8L729.7 872.8L731.4 873.7L733.2 874.7L735.0 875.6L736.7 876.5L738.5 877.4L740.3 878.3L742.1 879.2L743.9 880.0L745.8 880.9L747.6 881.7L749.4 882.5L751.3 883.3L753.1 884.1L755.0 884.9L756.9 885.6L758.8 886.3L760.7 887.1L762.6 887.8L764.5 888.5L766.4 889.1L768.4 889.8L770.3 890.4L772.3 891.1L774.2 891.7L776.2 892.3L778.2 892.9L780.1 893.4L782.1 894.0L784.1 894.5L786.1 895.0L788.1 895.5L790.2 896.0L792.2 896.4L794.2 896.9L796.2 897.3L798.3 897.7L800.3 898.1L802.4 898.5L804.5 898.8L806.5 899.2L808.6 899.5L810.7 899.8L812.8 900.1L814.8 900.3L816.9 900.6L819.0 900.8L821.1 901.0L823.2 901.2L825.3 901.4L827.5 901.6L829.6 901.7L831.7 901.8L833.8 901.9L835.9 902.0L838.1 902.1L840.2 902.1L842.3 902.2L844.5 902.2L846.6 902.2L848.8 902.1L850.9 902.1L853.1 902.0L855.2 902.0L857.4 901.9L859.5 901.7L861.7 901.6L863.8 901.4L866.0 901.3L868.1 901.1L870.3 900.8L872.4 900.6L874.6 900.3L876.7 900.1L878.9 899.8L881.1 899.4L883.2 899.1L885.4 898.7L887.5 898.4L889.7 898.0L891.8 897.5L893.9 897.1L896.1 896.6L898.2 896.1L900.4 895.6L902.5 895.1L904.6 894.6L906.7 894.0L908.8 893.4L911.0 892.8L913.1 892.2L915.2 891.5L917.3 890.8L919.4 890.1L921.5 889.4L923.5 888.7L925.6 887.9L927.7 887.1L929.7 886.3L931.8 885.5L933.8 884.7L935.9 883.8L937.9 882.9L939.9 882.0L942.0 881.1L944.0 880.1L946.0 879.1L947.9 878.2L949.9 877.2L951.9 876.1L953.9 875.1L955.8 874.0L957.7 872.9L959.7 871.8L961.6 870.7L963.5 869.5L965.4 868.4L967.3 867.2L969.2 866.0L971.0 864.8L972.9 863.5L974.7 862.3L976.6 861.0L978.4 859.7L980.2 858.4L982.0 857.1L983.8 855.7L985.5 854.4L987.3 853.0L989.0 851.6L990.8 850.1L992.5 848.7L994.2 847.3L995.9 845.8L997.5 844.3L999.2 842.8L1000.8 841.3L1002.4 839.7L1004.0 838.2L1005.6 836.6L1007.2 835.0L1008.8 833.4L1010.3 831.8L1011.8 830.2L1013.3 828.5L1014.8 826.8L1016.3 825.2L1017.8 823.5L1019.2 821.7L1020.6 820.0L1022.0 818.3L1023.4 816.5L1024.8 814.8L1026.1 813.0L1027.5 811.2L1028.8 809.4L1030.1 807.5L1031.3 805.7L1032.6 803.9L1033.8 802.0L1035.0 800.1L1036.2 798.2L1037.4 796.3L1038.5 794.4L1039.7 792.5L1040.8 790.6L1041.9 788.6L1043.0 786.7L1044.0 784.7L1045.1 782.7L1046.1 780.8L1047.1 778.8L1048.0 776.8L1049.0 774.8L1049.9 772.7L1050.8 770.7L1051.7 768.7L1052.6 766.6L1053.4 764.6L1054.2 762.5L1055.0 760.4L1055.8 758.3L1056.5 756.3L1057.3 754.2L1058.0 752.1L1058.7 749.9L1059.3 747.8L1060.0 745.7L1060.6 743.6L1061.2 741.5L1061.8 739.3L1062.3 737.2L1062.9 735.0L1063.4 732.9L1063.9 730.7L1064.3 728.6L1064.8 726.4L1065.2 724.2L1065.6 722.1L1066.0 719.9L1066.3 717.7L1066.6 715.6L1067.0 713.4L1067.2 711.2L1067.5 709.0L1067.7 706.8L1068.0 704.6L1068.1 702.4L1068.3 700.3L1068.5 698.1L1068.6 695.9L1068.7 693.7L1068.8 691.5L1068.8 689.3L1068.9 687.1L1068.9 684.9L1068.9 682.8L1068.8 680.6L1068.8 678.4L1068.7 676.2L1068.6 674.0L1068.5 671.8L1068.3 669.7L1068.2 667.5L1068.0 665.3L1067.8 663.2L1067.5 661.0L1067.3 658.8L1067.0 656.7L1066.7 654.5L1066.4 652.4L1066.0 650.3L1065.6 648.1L1065.2 646.0L1064.8 643.9L1064.4 641.7L1063.9 639.6L1063.4 637.5L1062.9 635.4L1062.4 633.3L1061.8 631.3L1061.2 629.2L1060.7 627.1L1060.0 625.0L1059.4 623.0L1058.8 620.9L1058.1 618.9L1057.4 616.9L1056.7 614.8L1055.9 612.8L1055.2 610.8L1054.4 608.8L1053.6 606.8L1052.8 604.9L1052.0 602.9L1051.1 600.9L1050.3 599.0L1049.4 597.1L1048.5 595.1L1047.6 593.2L1046.7 591.3L1045.7 589.4L1044.8 587.5L1043.8 585.6L1042.8 583.8L1041.8 581.9L1040.7 580.1L1039.7 578.2L1038.6 576.4L1037.6 574.6L1036.5 572.8L1035.4 571.0L1034.2 569.2L1033.1 567.5L1031.9 565.7L1030.7 564.0L1029.6 562.2L1028.4 560.5L1027.1 558.8L1025.9 557.2L1024.6 555.5L1023.4 553.8L1022.1 552.2L1020.8 550.5L1019.5 548.9L1018.2 547.3L1016.9 545.7L1015.5 544.1L1014.1 542.6L1012.8 541.0L1011.4 539.5L1010.0 538.0L1008.6 536.5L1007.2 535.0L1005.7 533.5L1004.3 532.0L1002.8 530.6L1001.4 529.1L999.9 527.7L998.4 526.3L996.9 524.9L995.4 523.5L993.8 522.1L992.3 520.8L990.8 519.5L989.2 518.1L987.6 516.8L986.1 515.5L984.5 514.3L982.9 513.0L981.3 511.8L979.7 510.5L978.1 509.3L976.4 508.1L974.8 506.9L973.2 505.8L971.5 504.6L969.9 503.5L968.2 502.3L966.5 501.2L964.8 500.1L963.1 499.1L961.4 498.0L959.7 497.0L958.0 495.9L956.3 494.9L954.5 493.9L952.8 492.9L951.1 492.0L949.3 491.0L947.6 490.1L945.8 489.2L944.0 488.3L942.3 487.4L940.5 486.5L938.7 485.7L936.9 484.8L935.1 484.0L933.3 483.2L931.5 482.4L929.7 481.7L927.9 480.9L926.1 480.2L924.3 479.4L922.4 478.7L920.6 478.1L918.8 477.4L916.9 476.7L915.1 476.1L913.2 475.5L911.4 474.8L909.6 474.2L907.7 473.7L905.8 473.1L904.0 472.6L902.1 472.0L900.3 471.5L898.4 471.0L896.5 470.5L894.7 470.1L892.8 469.6L890.9 469.2L889.1 468.8L887.2 468.4L885.3 468.0L883.4 467.6L881.6 467.2L879.7 466.9L877.8 466.6L875.9 466.3L874.1 466.0L872.2 465.7L870.3 465.4L868.4 465.2L866.5 465.0L864.7 464.7L862.8 464.5L860.9 464.3L859.0 464.2L857.2 464.0L855.3 463.9L853.4 463.8L851.6 463.6L849.7 463.5L847.8 463.5L845.9 463.4L844.1 463.3L842.2 463.3L840.4 463.3L838.5 463.3L836.6 463.3L834.8 463.3L832.9 463.4L831.1 463.4L829.2 463.5L827.4 463.6L825.6 463.6L823.7 463.8L821.9 463.9L820.0 464.0L818.2 464.2L816.4 464.3L814.6 464.5L812.8 464.7L810.9 464.9L809.1 465.1L807.3 465.4L805.5 465.6L803.7 465.9L801.9 466.2L800.1 466.5L798.3 466.8L796.6 467.1L794.8 467.4L793.0 467.8L791.2 468.1L789.5 468.5L787.7 468.9L785.9 469.3L784.2 469.7L782.4 470.1L780.7 470.5L779.0 471.0L777.2 471.4L775.5 471.9L773.8 472.4L772.1 472.9L770.4 473.4L768.7 473.9L767.0 474.5L765.3 475.0L763.6 475.6L761.9 476.1L760.3 476.7L758.6 477.3L756.9 477.9L755.3 478.6L753.6 479.2L752.0 479.8L750.3 480.5L748.7 481.2L747.1 481.8L745.5 482.5L743.9 483.2L742.3 484.0L740.7 484.7L739.1 485.4L737.5 486.2L735.9 486.9L734.4 487.7L732.8 488.5L731.3 489.3L729.7 490.1L728.2 490.9L726.7 491.7L725.1 492.6L723.6 493.4L722.1 494.3L720.6 495.2L719.1 496.1L717.6 497.0L716.2 497.9L714.7 498.8L713.3 499.7L711.8 500.6L710.4 501.6L708.9 502.5L707.5 503.5L706.1 504.5L704.7 505.5L703.3 506.5L701.9 507.5L700.5 508.5L699.2 509.5L697.8 510.6L696.4 511.6L695.1 512.7L693.8 513.8L692.4 514.8L691.1 515.9L689.8 517.0L688.5 518.1L687.2 519.2L685.9 520.4L684.7 521.5L683.4 522.6L682.2 523.8L680.9 524.9L679.7 526.1L678.5 527.3L677.3 528.5L676.1 529.7L674.9 530.9L673.7 532.1L672.5 533.3L671.4 534.6L670.2 535.8L669.1 537.0L667.9 538.3L666.8 539.6L665.7 540.8L664.6 542.1L663.5 543.4L662.4 544.7L661.4 546.0L660.3 547.3L659.3 548.6L658.2 550.0L657.2 551.3L656.2 552.6L655.2 554.0L654.2 555.3L653.2 556.7L652.2 558.1L651.3 559.4L650.3 560.8L649.4 562.2L648.5 563.6L647.6 565.0L646.7 566.4L645.8 567.9L644.9 569.3L644.0 570.7L643.1 572.2L642.3 573.6L641.5 575.0L640.6 576.5L639.8 578.0L639.0 579.4L638.2 580.9L637.4 582.4L636.7 583.9L635.9 585.4L635.2 586.9L634.4 588.4L633.7 589.9L633.0 591.4L632.3 592.9L631.6 594.5L631.0 596.0L630.3 597.5L629.6 599.1L629.0 600.6L628.4 602.2L627.8 603.7L627.2 605.3L626.6 606.8L626.0 608.4L625.4 610.0L624.9 611.6L624.3 613.2L623.8 614.8L623.3 616.3L622.8 617.9L622.3 619.5L621.8 621.2L621.4 622.8L620.9 624.4L620.5 626.0L620.1 627.6L619.6 629.2L619.2 630.9L618.9 632.5L618.5 634.1L618.1 635.8L617.8 637.4L617.4 639.1L617.1 640.7L616.8 642.4L616.5 644.0L616.2 645.7L615.9 647.4L615.7 649.0L615.4 650.7L615.2 652.4L615.0 654.0L614.8 655.7L614.6 657.4L614.4 659.1L614.2 660.8L614.1 662.4L614.0 664.1L613.8 665.8L613.7 667.5Z" stroke="#ff0000" stroke-width="12.00"/>
<path d="M837.4 968.0L839.2 967.6L841.0 967.2L842.8 966.8L844.6 966.4L846.4 966.0L848.2 965.6L850.0 965.1L851.8 964.7L853.6 964.2L855.4 963.8L857.1 963.3L858.9 962.8L860.7 962.3L862.5 961.8L864.2 961.3L866.0 960.7L867.7 960.2L869.5 959.6L871.3 959.1L873.0 958.5L874.7 957.9L876.5 957.3L878.2 956.7L879.9 956.1L881.7 955.4L883.4 954.8L885.1 954.2L886.8 953.5L888.5 952.8L890.2 952.1L891.9 951.5L893.6 950.7L895.3 950.0L897.0 949.3L898.7 948.6L900.4 947.8L902.0 947.1L903.7 946.3L905.4 945.6L907.0 944.8L908.7 944.0L910.3 943.2L912.0 942.4L913.6 941.5L915.2 940.7L916.9 939.9L918.5 939.0L920.1 938.1L921.7 937.3L923.3 936.4L924.9 935.5L926.5 934.6L928.1 933.7L929.7 932.8L931.2 931.8L932.8 930.9L934.4 929.9L935.9 929.0L937.5 928.0L939.0 927.0L940.6 926.1L942.1 925.1L943.6 924.0L945.1 923.0L946.7 922.0L948.2 921.0L949.7 919.9L951.1 918.9L952.6 917.8L954.1 916.7L955.6 915.7L957.0 914.6L958.5 913.5L960.0 912.4L961.4 911.2L962.8 910.1L964.3 909.0L965.7 907.8L967.1 906.7L968.5 905.5L969.9 904.4L971.3 903.2L972.7 902.0L974.1 900.8L975.4 899.6L976.8 898.4L978.1 897.1L979.5 895.9L980.8 894.7L982.2 893.4L983.5 892.2L984.8 890.9L986.1 889.6L987.4 888.3L988.7 887.0L990.0 885.7L991.2 884.4L992.5 883.1L993.7 881.8L995.0 880.4L996.2 879.1L997.5 877.7L998.7 876.4L999.9 875.0L1001.1 873.6L1002.3 872.3L1003.5 870.9L1004.6 869.5L1005.8 868.1L1007.0 866.6L1008.1 865.2L1009.3 863.8L1010.4 862.3L1011.5 860.9L1012.6 859.4L1013.7 858.0L1014.8 856.5L1015.9 855.0L1017.0 853.5L1018.0 852.0L1019.1 850.5L1020.1 849.0L1021.1 847.5L1022.2 846.0L1023.2 844.4L1024.2 842.9L1025.2 841.3L1026.2 839.8L1027.1 838.2L1028.1 836.7L1029.1 835.1L1030.0 833.5L1031.0 831.9L1031.9 830.3L1032.8 828.7L1033.7 827.1L1034.6 825.5L1035.5 823.9L1036.4 822.3L1037.3 820.7L1038.1 819.0L1039.0 817.4L1039.8 815.8L1040.7 814.1L1041.5 812.5L1042.3 810.9L1043.2 809.2L1044.0 807.6L1044.8 805.9L1045.6 804.2L1046.3 802.6L1047.1 800.9L1047.9 799.2L1048.6 797.6L1049.4 795.9L1050.1 794.2L1050.9 792.5L1051.6 790.9L1052.3 789.2L1053.0 787.5L1053.7 785.8L1054.4 784.1L1055.1 782.4L1055.8 780.7L1056.5 779.0L1057.1 777.3L1057.8 775.7L1058.5 774.0L1059.1 772.3L1059.8 770.6L1060.5 768.9L1061.1 767.2L1061.8 765.5L1062.4 763.8L1063.1 762.1L1063.7 760.4L1064.3 758.7L1065.0 757.0L1065.6 755.3L1066.3 753.6L1067.0 751.9L1067.6 750.2L1068.3 748.5L1068.9 746.8L1069.6 745.1L1070.3 743.4L1071.0 741.7L1071.6 740.0L1072.3 738.3L1073.0 736.6L1073.7 734.9L1074.4 733.2L1075.2 731.6L1075.9 729.9L1076.6 728.2L1077.4 726.5L1078.1 724.8L1078.9 723.1L1079.7 721.5" stroke="#ff0000" stroke-width="12.00"/>
<path d="M1031.2 822.0L1032.4 820.1L1033.7 818.1L1034.9 816.2L1036.1 814.2L1037.3 812.2L1038.5 810.2L1039.6 808.2L1040.7 806.2L1041.9 804.2L1043.0 802.2L1044.0 800.1L1045.1 798.1L1046.1 796.1L1047.1 794.0L1048.1 791.9L1049.1 789.9L1050.1 787.8L1051.0 785.7L1051.9 783.6L1052.8 781.5L1053.7 779.4L1054.6 777.3L1055.4 775.2L1056.2 773.0L1057.0 770.9L1057.8 768.8L1058.5 766.6L1059.3 764.5L1060.0 762.3L1060.7 760.2L1061.4 758.0L1062.0 755.8L1062.7 753.7L1063.3 751.5L1063.9 749.3L1064.5 747.1L1065.0 745.0L1065.6 742.8L1066.1 740.6L1066.6 738.4L1067.1 736.2L1067.6 734.0L1068.0 731.8L1068.4 729.6L1068.8 727.4L1069.2 725.1L1069.5 722.9L1069.8 720.7L1070.1 718.5L1070.4 716.3L1070.6 714.0L1070.8 711.8L1071.0 709.6L1071.2 707.4L1071.3 705.1L1071.4 702.9L1071.5 700.7L1071.5 698.4L1071.6 696.2L1071.6 694.0L1071.6 691.8L1071.5 689.5L1071.5 687.3L1071.4 685.1L1071.3 682.9L1071.1 680.7L1071.0 678.5L1070.8 676.3L1070.6 674.1L1070.4 671.9L1070.2 669.7L1070.0 667.5L1069.7 665.3L1069.4 663.1L1069.1 661.0L1068.8 658.8L1068.5 656.6L1068.1 654.5L1067.8 652.3L1067.4 650.2L1066.9 648.0L1066.5 645.9L1066.0 643.8L1065.5 641.6L1065.0 639.5L1064.5 637.4L1064.0 635.3L1063.4 633.2L1062.8 631.1L1062.2 629.0L1061.6 626.9L1061.0 624.9L1060.3 622.8L1059.7 620.8L1059.0 618.7L1058.2 616.7L1057.5 614.7L1056.7 612.7L1056.0 610.6L1055.2 608.6L1054.4 606.7L1053.5 604.7L1052.7 602.7L1051.8 600.7L1050.9 598.8L1050.0 596.9L1049.1 594.9L1048.2 593.0L1047.2 591.1L1046.3 589.2L1045.3 587.3L1044.3 585.5L1043.2 583.6L1042.2 581.7L1041.1 579.9L1040.1 578.1L1039.0 576.3L1037.9 574.5L1036.7 572.7L1035.6 570.9L1034.4 569.1L1033.3 567.4L1032.1 565.6L1030.9 563.9L1029.7 562.2L1028.4 560.5L1027.2 558.8L1025.9 557.1L1024.6 555.5L1023.4 553.8L1022.1 552.2L1020.7 550.6L1019.4 549.0L1018.1 547.4L1016.7 545.8L1015.3 544.2L1014.0 542.7L1012.6 541.2L1011.2 539.6L1009.7 538.1L1008.3 536.6L1006.9 535.2L1005.4 533.7L1003.9 532.3L1002.5 530.8L1001.0 529.4L999.5 528.0L997.9 526.6L996.4 525.2L994.9 523.9L993.3 522.5L991.8 521.2L990.2 519.9L988.7 518.6L987.1 517.3L985.5 516.1L983.9 514.8L982.3 513.6L980.6 512.4L979.0 511.2L977.4 510.0L975.7 508.8" stroke="#ff0000" stroke-width="12.00"/>
<path d="M317.3 667.5L316.7 671.7L316.2 675.9L315.7 680.2L315.2 684.4L314.8 688.7L314.4 692.9L314.1 697.2L313.8 701.5L313.6 705.8L313.4 710.0L313.3 714.3L313.2 718.6L313.2 722.9L313.2 727.2L313.3 731.5L313.4 735.8L313.6 740.1L313.8 744.4L314.1 748.8L314.4 753.1L314.8 757.4L315.2 761.7L315.7 766.0L316.2 770.3L316.8 774.6L317.4 778.9L318.1 783.1L318.8 787.4L319.6 791.7L320.4 796.0L321.3 800.2L322.2 804.5L323.2 808.7L324.2 812.9L325.3 817.2L326.4 821.4L327.6 825.6L328.8 829.7L330.1 833.9L331.4 838.1L332.8 842.2L334.2 846.4L335.7 850.5L337.2 854.6L338.8 858.6L340.4 862.7L342.1 866.8L343.8 870.8L345.6 874.8L347.4 878.8L349.3 882.8L351.2 886.7L353.1 890.6L355.1 894.5L357.2 898.4L359.3 902.3L361.4 906.1L363.6 909.9L365.8 913.7L368.1 917.5L370.4 921.2L372.8 924.9L375.2 928.6L377.7 932.2L380.2 935.8L382.7 939.4L385.3 943.0L387.9 946.5L390.6 950.0L393.3 953.5L396.0 956.9L398.8 960.3L401.6 963.7L404.5 967.1L407.4 970.4L410.3 973.6L413.3 976.9L416.3 980.1L419.3 983.3L422.4 986.4L425.5 989.5L428.7 992.6L431.9 995.6L435.1 998.6L438.4 1001.5L441.6 1004.5L445.0 1007.3L448.3 1010.2L451.7 1013.0L455.1 1015.7L458.5 1018.5L462.0 1021.1L465.5 1023.8L469.0 1026.4L472.6 1028.9L476.2 1031.5L479.8 1033.9L483.4 1036.4L487.1 1038.8L490.8 1041.1L494.5 1043.4L498.2 1045.7L502.0 1047.9L505.7 1050.1L509.5 1052.3L513.3 1054.4L517.2 1056.4L521.0 1058.4L524.9 1060.4L528.8 1062.3L532.7 1064.2L536.6 1066.1L540.6 1067.9L544.6 1069.6L548.5 1071.3L552.5 1073.0L556.5 1074.6L560.5 1076.2L564.6 1077.7L568.6 1079.2L572.7 1080.7L576.7 1082.1L580.8 1083.4L584.9 1084.8L589.0 1086.0L593.1 1087.3L597.2 1088.4L601.3 1089.6L605.4 1090.7L609.6 1091.7L613.7 1092.7L617.9 1093.7L622.0 1094.6L626.2 1095.5L630.3 1096.3L634.5 1097.1L638.6 1097.9L642.8 1098.6L647.0 1099.3L651.1 1099.9L655.3 1100.5L659.4 1101.0L663.6 1101.5L667.8 1102.0L671.9 1102.4L676.1 1102.7L680.2 1103.1L684.4 1103.4L688.5 1103.6L692.7 1103.8L696.8 1104.0L701.0 1104.1L705.1 1104.2L709.2 1104.2L713.3 1104.2L717.4 1104.2L721.5 1104.1L725.6 1104.0L729.7 1103.9L733.8 1103.7L737.8 1103.5L741.9 1103.2L745.9 1102.9L750.0 1102.5L754.0 1102.2L758.0 1101.7L762.0 1101.3L766.0 1100.8L770.0 1100.3L773.9 1099.7L777.9 1099.1L781.8 1098.5L785.7 1097.8L789.6 1097.1L793.5 1096.4L797.4 1095.6L801.3 1094.8L805.1 1094.0L808.9 1093.1L812.8 1092.2L816.5 1091.3L820.3 1090.3L824.1 1089.3L827.8 1088.3L831.6 1087.2L835.3 1086.1L839.0 1085.0L842.6 1083.8L846.3 1082.6L849.9 1081.3L853.6 1080.1L857.1 1078.8L860.7 1077.4L864.3 1076.1L867.8 1074.7L871.3 1073.3L874.8 1071.8L878.3 1070.4L881.7 1068.9L885.2 1067.3L888.6 1065.8L891.9 1064.2L895.3 1062.6L898.6 1060.9L902.0 1059.3L905.2 1057.6L908.5 1055.9L911.8 1054.1L915.0 1052.4L918.2 1050.6L921.4 1048.8L924.5 1047.0L927.6 1045.1L930.7 1043.3L933.8 1041.4L936.9 1039.5L939.9 1037.5L942.9 1035.6L945.9 1033.6L948.9 1031.6L951.8 1029.6L954.7 1027.6L957.6 1025.5L960.5 1023.5L963.3 1021.4L966.1 1019.3L968.9 1017.2L971.7 1015.0L974.4 1012.9L977.1 1010.7L979.8 1008.5L982.5 1006.4L985.1 1004.2L987.8 1001.9L990.4 999.7L992.9 997.5L995.5 995.2L998.0 992.9L1000.5 990.6L1003.0 988.3L1005.4 986.0L1007.9 983.7L1010.3 981.4L1012.7 979.1L1015.1 976.7L1017.4 974.4L1019.7 972.0L1022.0 969.6L1024.3 967.2L1026.6 964.9L1028.8 962.5L1031.0 960.0L1033.2 957.6L1035.4 955.2L1037.6 952.8L1039.7 950.3L1041.8 947.9L1043.9 945.4L1045.9 942.9L1048.0 940.5L1050.0 938.0L1052.0 935.5L1054.0 933.0L1055.9 930.5L1057.8 927.9L1059.7 925.4L1061.6 922.9L1063.5 920.3L1065.3 917.7L1067.1 915.2L1068.9 912.6L1070.7 910.0L1072.4 907.4L1074.1 904.8L1075.8 902.2L1077.5 899.6L1079.1 897.0L1080.7 894.3L1082.3 891.7L1083.9 889.0L1085.4 886.4L1087.0 883.7L1088.5 881.0L1089.9 878.4L1091.4 875.7L1092.8 873.0L1094.2 870.3L1095.5 867.5L1096.9 864.8L1098.2 862.1L1099.5 859.4L1100.7 856.6L1102.0 853.9L1103.2 851.1L1104.3 848.4L1105.5 845.6L1106.6 842.8L1107.7 840.1L1108.8 837.3L1109.8 834.5L1110.8 831.7L1111.8 828.9L1112.8 826.1L1113.7 823.3L1114.6 820.5L1115.5 817.7L1116.4 814.9L1117.2 812.1L1118.1 809.3L1118.9 806.5L1119.6 803.7L1120.4 800.9L1121.1 798.1L1121.8 795.3L1122.5 792.4L1123.2 789.6L1123.8 786.8L1124.5 784.0L1125.1 781.2L1125.6 778.4L1126.2 775.6L1126.7 772.8L1127.2 770.0L1127.7 767.1L1128.2 764.3L1128.6 761.5L1129.1 758.7L1129.5 755.9L1129.8 753.1L1130.2 750.3L1130.5 747.5L1130.9 744.7L1131.1 741.9L1131.4 739.1L1131.7 736.3L1131.9 733.6L1132.1 730.8L1132.3 728.0L1132.5 725.2L1132.6 722.4L1132.7 719.6L1132.9 716.9L1132.9 714.1L1133.0 711.3L1133.0 708.6L1133.1 705.8L1133.1 703.0L1133.1 700.3L1133.0 697.5L1133.0 694.8L1132.9 692.0L1132.8 689.3L1132.7 686.6L1132.5 683.8L1132.4 681.1L1132.2 678.4L1132.0 675.6L1131.8 672.9L1131.5 670.2L1131.2 667.5L1131.0 664.8L1130.6 662.1L1130.3 659.4L1129.9 656.7L1129.5 654.0L1129.1 651.4L1128.7 648.7L1128.2 646.0L1127.7 643.4L1127.2 640.7L1126.7 638.1L1126.1 635.4L1125.5 632.8L1125.0 630.2L1124.4 627.6L1123.7 624.9L1123.1 622.3L1122.5 619.7L1121.8 617.1L1121.1 614.6L1120.4 612.0L1119.6 609.4L1118.9 606.9L1118.1 604.3L1117.3 601.8L1116.5 599.2L1115.7 596.7L1114.8 594.2L1113.9 591.7L1113.1 589.1L1112.2 586.6L1111.3 584.2L1110.4 581.7L1109.4 579.2L1108.5 576.7L1107.5 574.2L1106.6 571.8L1105.6 569.3L1104.6 566.9L1103.7 564.4L1102.7 562.0L1101.7 559.5L1100.7 557.1L1099.6 554.6L1098.6 552.2L1097.6 549.8L1096.5 547.4L1095.4 545.0L1094.4 542.5L1093.3 540.1L1092.1 537.7L1091.0 535.4L1089.8 533.0L1088.7 530.6L1087.5 528.2L1086.3 525.9L1085.0 523.6L1083.8 521.2L1082.5 518.9L1081.2 516.6L1079.8 514.3L1078.5 512.0L1077.1 509.8L1075.7 507.5L1074.3 505.2L1072.9 503.0L1071.5 500.8L1070.0 498.5L1068.6 496.3L1067.1 494.1L1065.6 491.9L1064.1 489.7L1062.5 487.5L1061.0 485.4L1059.4 483.2L1057.8 481.1L1056.2 478.9L1054.6 476.8L1053.0 474.7L1051.4 472.6L1049.7 470.5L1048.0 468.4L1046.3 466.3L1044.6 464.2L1042.9 462.2L1041.2 460.1L1039.4 458.1L1037.6 456.1L1035.8 454.0L1034.0 452.0L1032.2 450.0L1030.4 448.1L1028.5 446.1L1026.7 444.1L1024.8 442.2L1022.9 440.3L1021.0 438.3L1019.0 436.4L1017.1 434.5L1015.1 432.7L1013.2 430.8L1011.2 428.9L1009.2 427.1L1007.1 425.2L1005.1 423.4L1003.1 421.6L1001.0 419.8L998.9 418.0L996.8 416.2L994.7 414.5L992.6 412.7L990.4 411.0L988.3 409.3L986.1 407.6L983.9 405.9L981.7 404.2L979.5 402.5L977.3 400.9L975.1 399.2L972.8 397.6L970.5 396.0L968.2 394.4L965.9 392.8L963.6 391.2L961.3 389.7L958.9 388.1L956.6 386.6L954.2 385.1L951.8 383.6L949.4 382.1L947.0 380.6L944.6 379.2L942.1 377.7L939.7 376.3L937.2 374.9L934.7 373.5L932.2 372.1L929.7 370.8L927.2 369.4L924.7 368.1L922.1 366.8L919.5 365.5L917.0 364.2L914.4 363.0L911.8 361.7L909.2 360.5L906.5 359.3L903.9 358.1L901.2 356.9L898.5 355.7L895.9 354.6L893.2 353.4L890.5 352.3L887.7 351.2L885.0 350.2L882.3 349.1L879.5 348.1L876.7 347.0L873.9 346.0L871.1 345.0L868.3 344.1L865.5 343.1L862.7 342.2L859.8 341.3L857.0 340.4L854.1 339.5L851.2 338.7L848.3 337.8L845.4 337.0L842.5 336.2L839.6 335.4L836.7 334.7L833.7 334.0L830.7 333.2L827.8 332.5L824.8 331.9L821.8 331.2L818.8 330.6L815.8 330.0L812.8 329.4L809.7 328.8L806.7 328.3L803.6 327.7L800.5 327.2L797.5 326.7L794.4 326.3L791.3 325.8L788.2 325.4L785.1 325.0L781.9 324.6L778.8 324.3L775.7 324.0L772.5 323.7L769.4 323.4L766.2 323.1L763.0 322.9L759.8 322.7L756.6 322.5L753.4 322.3L750.2 322.2L747.0 322.0L743.8 321.9L740.5 321.9L737.3 321.8L734.0 321.8L730.8 321.8L727.5 321.8L724.3 321.9L721.0 322.0L717.7 322.1L714.4 322.2L711.1 322.4L707.8 322.5L704.5 322.7L701.2 323.0L697.9 323.2L694.5 323.5L691.2 323.8L687.9 324.2L684.5 324.5L681.2 324.9L677.9 325.3L674.5 325.8L671.2 326.3L667.8 326.8L664.4 327.3L661.1 327.9L657.7 328.4L654.3 329.0L651.0 329.7L647.6 330.4L644.2 331.1L640.8 331.8L637.5 332.5L634.1 333.3L630.7 334.1L627.3 335.0L623.9 335.8L620.6 336.7L617.2 337.7L613.8 338.6L610.4 339.6L607.0 340.6L603.6 341.7L600.3 342.8L596.9 343.9L593.5 345.0L590.1 346.2L586.8 347.4L583.4 348.6L580.0 349.8L576.7 351.1L573.3 352.5L570.0 353.8L566.6 355.2L563.3 356.6L560.0 358.1L556.6 359.5L553.3 361.0L550.0 362.6L546.7 364.1L543.4 365.7L540.1 367.4L536.8 369.0L533.5 370.7L530.2 372.5L526.9 374.2L523.7 376.0L520.4 377.8L517.2 379.7L513.9 381.6L510.7 383.5L507.5 385.5L504.3 387.5L501.1 389.5L498.0 391.5L494.8 393.6L491.6 395.7L488.5 397.9L485.4 400.0L482.3 402.2L479.2 404.5L476.1 406.8L473.0 409.1L470.0 411.4L466.9 413.8L463.9 416.2L460.9 418.6L457.9 421.1L455.0 423.6L452.0 426.1L449.1 428.7L446.2 431.3L443.3 433.9L440.4 436.5L437.6 439.2L434.7 441.9L431.9 444.7L429.1 447.5L426.4 450.3L423.6 453.1L420.9 456.0L418.2 458.9L415.5 461.8L412.9 464.8L410.2 467.8L407.6 470.8L405.1 473.9L402.5 477.0L400.0 480.1L397.5 483.2L395.0 486.4L392.6 489.6L390.2 492.8L387.8 496.1L385.4 499.4L383.1 502.7L380.8 506.1L378.6 509.4L376.3 512.8L374.1 516.3L371.9 519.7L369.8 523.2L367.7 526.7L365.6 530.2L363.6 533.8L361.6 537.4L359.6 541.0L357.7 544.6L355.8 548.3L353.9 552.0L352.1 555.7L350.3 559.4L348.6 563.2L346.8 566.9L345.2 570.7L343.5 574.5L341.9 578.4L340.4 582.3L338.8 586.1L337.4 590.0L335.9 594.0L334.5 597.9L333.2 601.9L331.9 605.9L330.6 609.9L329.3 613.9L328.2 617.9L327.0 622.0L325.9 626.0L324.8 630.1L323.8 634.2L322.9 638.3L321.9 642.5L321.1 646.6L320.2 650.8L319.4 654.9L318.7 659.1L318.0 663.3L317.3 667.5Z" stroke="#0000ff" stroke-width="12.00"/>
<path d="M320.1 667.5L319.5 671.7L318.9 675.9L318.3 680.1L317.8 684.3L317.3 688.6L316.9 692.8L316.5 697.1L316.2 701.3L315.9 705.6L315.7 709.8L315.5 714.1L315.3 718.4L315.2 722.7L315.2 727.0L315.2 731.3L315.2 735.6L315.3 739.9L315.5 744.2L315.7 748.5L315.9 752.8L316.2 757.1L316.5 761.4L316.9 765.7L317.3 770.0L317.8 774.3L318.4 778.6L318.9 782.9L319.6 787.2L320.3 791.5L321.0 795.8L321.8 800.1L322.6 804.4L323.5 808.6L324.4 812.9L325.4 817.1L326.4 821.4L327.5 825.6L328.6 829.8L329.8 834.0L331.0 838.2L332.3 842.4L333.6 846.6L334.9 850.8L336.4 854.9L337.8 859.0L339.3 863.2L340.9 867.3L342.5 871.4L344.2 875.4L345.9 879.5L347.6 883.5L349.4 887.5L351.2 891.5L353.1 895.5L355.1 899.5L357.1 903.4L359.1 907.3L361.2 911.2L363.3 915.1L365.5 918.9L367.7 922.8L369.9 926.6L372.2 930.4L374.6 934.1L377.0 937.8L379.4 941.5L381.9 945.2L384.4 948.8L386.9 952.5L389.5 956.0L392.2 959.6L394.9 963.1L397.6 966.6L400.4 970.1L403.2 973.5L406.0 976.9L408.9 980.3L411.8 983.6L414.8 986.9L417.8 990.2L420.8 993.5L423.9 996.7L427.0 999.8L430.1 1003.0L433.3 1006.1L436.5 1009.1L439.8 1012.1L443.0 1015.1L446.3 1018.1L449.7 1021.0L453.1 1023.9L456.5 1026.7L459.9 1029.5L463.4 1032.3L466.9 1035.0L470.4 1037.7L474.0 1040.3L477.6 1042.9L481.2 1045.5L484.8 1048.0L488.5 1050.5L492.2 1052.9L495.9 1055.3L499.7 1057.7L503.4 1060.0L507.2 1062.3L511.0 1064.5L514.9 1066.7L518.7 1068.8L522.6 1070.9L526.5 1073.0L530.5 1075.0L534.4 1077.0L538.4 1078.9L542.3 1080.8L546.3 1082.6L550.4 1084.4L554.4 1086.2L558.4 1087.9L562.5 1089.5L566.6 1091.2L570.7 1092.7L574.8 1094.3L578.9 1095.8L583.0 1097.2L587.2 1098.6L591.3 1100.0L595.5 1101.3L599.6 1102.5L603.8 1103.7L608.0 1104.9L612.2 1106.1L616.4 1107.1L620.6 1108.2L624.9 1109.2L629.1 1110.1L633.3 1111.0L637.5 1111.9L641.8 1112.7L646.0 1113.5L650.3 1114.2L654.5 1114.9L658.8 1115.6L663.0 1116.2L667.3 1116.7L671.5 1117.2L675.8 1117.7L680.0 1118.1L684.3 1118.5L688.5 1118.9L692.8 1119.2L697.0 1119.4L701.3 1119.7L705.5 1119.8L709.7 1120.0L714.0 1120.0L718.2 1120.1L722.4 1120.1L726.6 1120.1L730.8 1120.0L735.0 1119.9L739.2 1119.7L743.4 1119.5L747.5 1119.3L751.7 1119.0L755.9 1118.7L760.0 1118.4L764.1 1118.0L768.2 1117.5L772.4 1117.1L776.5 1116.6L780.5 1116.0L784.6 1115.4L788.7 1114.8L792.7 1114.1L796.8 1113.5L800.8 1112.7L804.8 1112.0L808.8 1111.2L812.8 1110.3L816.7 1109.4L820.7 1108.5L824.6 1107.6L828.5 1106.6L832.4 1105.6L836.3 1104.6L840.1 1103.5L844.0 1102.4L847.8 1101.2L851.6 1100.0L855.4 1098.8L859.2 1097.6L862.9 1096.3L866.7 1095.0L870.4 1093.7L874.1 1092.3L877.7 1090.9L881.4 1089.5L885.0 1088.0L888.6 1086.6L892.2 1085.0L895.8 1083.5L899.3 1081.9L902.9 1080.3L906.4 1078.7L909.9 1077.0L913.3 1075.4L916.8 1073.7L920.2 1071.9L923.6 1070.2L926.9 1068.4L930.3 1066.6L933.6 1064.7L936.9 1062.9L940.2 1061.0L943.4 1059.1L946.6 1057.1L949.8 1055.2L953.0 1053.2L956.2 1051.2L959.3 1049.2L962.4 1047.1L965.5 1045.1L968.6 1043.0L971.6 1040.9L974.6 1038.8L977.6 1036.6L980.5 1034.5L983.5 1032.3L986.4 1030.1L989.3 1027.9L992.1 1025.6L995.0 1023.4L997.8 1021.1L1000.6 1018.9L1003.4 1016.6L1006.1 1014.2L1008.8 1011.9L1011.5 1009.6L1014.2 1007.2L1016.8 1004.8L1019.4 1002.4L1022.0 1000.0L1024.6 997.6L1027.1 995.2L1029.6 992.7L1032.1 990.2L1034.6 987.8L1037.0 985.3L1039.5 982.8L1041.8 980.2L1044.2 977.7L1046.6 975.1L1048.9 972.6L1051.2 970.0L1053.4 967.4L1055.7 964.8L1057.9 962.2L1060.0 959.6L1062.2 957.0L1064.3 954.3L1066.5 951.7L1068.5 949.0L1070.6 946.3L1072.6 943.6L1074.6 940.9L1076.6 938.2L1078.6 935.5L1080.5 932.8L1082.4 930.0L1084.3 927.3L1086.1 924.6L1088.0 921.8L1089.8 919.1L1091.6 916.3L1093.4 913.6L1095.2 910.8L1096.9 908.0L1098.7 905.3L1100.4 902.5L1102.0 899.7L1103.7 896.9L1105.3 894.1L1106.9 891.3L1108.5 888.5L1110.1 885.7L1111.6 882.8L1113.1 880.0L1114.6 877.1L1116.0 874.3L1117.4 871.4L1118.8 868.5L1120.2 865.6L1121.5 862.7L1122.8 859.8L1124.0 856.9L1125.2 854.0L1126.4 851.0L1127.6 848.1L1128.7 845.1L1129.7 842.1L1130.8 839.1L1131.8 836.2L1132.8 833.2L1133.7 830.2L1134.7 827.2L1135.6 824.2L1136.5 821.2L1137.3 818.2L1138.1 815.2L1138.9 812.2L1139.7 809.2L1140.4 806.2L1141.2 803.2L1141.9 800.2L1142.5 797.2L1143.2 794.2L1143.8 791.2L1144.4 788.2L1145.0 785.2L1145.5 782.2L1146.0 779.2L1146.5 776.2L1147.0 773.2L1147.4 770.2L1147.9 767.3L1148.3 764.3L1148.6 761.3L1149.0 758.3L1149.3 755.3L1149.6 752.3L1149.9 749.4L1150.2 746.4L1150.4 743.4L1150.6 740.4L1150.8 737.5L1151.0 734.5L1151.1 731.5L1151.2 728.6L1151.3 725.6L1151.4 722.7L1151.5 719.7L1151.5 716.8L1151.5 713.9L1151.5 710.9L1151.4 708.0L1151.4 705.1L1151.3 702.1L1151.2 699.2L1151.0 696.3L1150.9 693.4L1150.7 690.5L1150.5 687.6L1150.3 684.7L1150.0 681.8L1149.8 679.0L1149.5 676.1L1149.1 673.2L1148.8 670.4L1148.4 667.5L1148.1 664.7L1147.6 661.8L1147.2 659.0L1146.7 656.1L1146.2 653.3L1145.7 650.5L1145.2 647.7L1144.6 644.9L1144.0 642.1L1143.4 639.3L1142.8 636.6L1142.1 633.8L1141.5 631.0L1140.8 628.3L1140.1 625.5L1139.4 622.8L1138.7 620.1L1137.9 617.3L1137.2 614.6L1136.4 611.9L1135.7 609.2L1134.9 606.5L1134.0 603.9L1133.2 601.2L1132.3 598.5L1131.5 595.9L1130.6 593.2L1129.7 590.6L1128.8 587.9L1127.8 585.3L1126.9 582.7L1125.9 580.1L1124.9 577.5L1123.9 574.9L1122.9 572.3L1121.8 569.7L1120.8 567.1L1119.7 564.6L1118.6 562.0L1117.5 559.5L1116.4 557.0L1115.3 554.4L1114.1 551.9L1112.9 549.4L1111.7 546.9L1110.5 544.4L1109.3 541.9L1108.1 539.5L1106.8 537.0L1105.5 534.6L1104.3 532.1L1103.0 529.7L1101.6 527.3L1100.3 524.8L1098.9 522.4L1097.6 520.0L1096.2 517.6L1094.8 515.3L1093.4 512.9L1092.0 510.5L1090.5 508.2L1089.1 505.8L1087.6 503.5L1086.1 501.2L1084.6 498.9L1083.1 496.6L1081.5 494.3L1080.0 492.0L1078.4 489.7L1076.8 487.5L1075.2 485.2L1073.6 483.0L1072.0 480.7L1070.3 478.5L1068.7 476.3L1067.0 474.1L1065.3 471.9L1063.6 469.7L1061.8 467.6L1060.1 465.4L1058.3 463.3L1056.5 461.2L1054.7 459.0L1052.9 456.9L1051.1 454.8L1049.3 452.8L1047.4 450.7L1045.5 448.6L1043.6 446.6L1041.7 444.5L1039.8 442.5L1037.9 440.5L1035.9 438.5L1033.9 436.5L1032.0 434.6L1030.0 432.6L1027.9 430.7L1025.9 428.7L1023.9 426.8L1021.8 424.9L1019.7 423.0L1017.6 421.1L1015.5 419.3L1013.4 417.4L1011.3 415.6L1009.1 413.8L1007.0 411.9L1004.8 410.1L1002.6 408.4L1000.4 406.6L998.1 404.8L995.9 403.1L993.6 401.4L991.4 399.7L989.1 398.0L986.8 396.3L984.5 394.6L982.1 393.0L979.8 391.4L977.4 389.7L975.1 388.1L972.7 386.6L970.3 385.0L967.9 383.4L965.4 381.9L963.0 380.4L960.6 378.9L958.1 377.4L955.6 375.9L953.1 374.4L950.6 373.0L948.1 371.5L945.5 370.1L943.0 368.7L940.4 367.4L937.9 366.0L935.3 364.6L932.7 363.3L930.1 362.0L927.4 360.7L924.8 359.4L922.1 358.2L919.5 356.9L916.8 355.7L914.1 354.5L911.4 353.3L908.7 352.1L906.0 351.0L903.2 349.8L900.5 348.7L897.7 347.6L894.9 346.5L892.2 345.5L889.4 344.4L886.5 343.4L883.7 342.4L880.9 341.4L878.0 340.4L875.2 339.5L872.3 338.5L869.4 337.6L866.6 336.7L863.7 335.8L860.7 335.0L857.8 334.1L854.9 333.3L851.9 332.5L849.0 331.8L846.0 331.0L843.1 330.3L840.1 329.5L837.1 328.8L834.1 328.2L831.0 327.5L828.0 326.9L825.0 326.3L821.9 325.7L818.9 325.1L815.8 324.6L812.8 324.0L809.7 323.5L806.6 323.1L803.5 322.6L800.4 322.2L797.2 321.7L794.1 321.4L791.0 321.0L787.8 320.6L784.7 320.3L781.5 320.0L778.4 319.7L775.2 319.5L772.0 319.2L768.8 319.0L765.6 318.8L762.4 318.7L759.2 318.5L756.0 318.4L752.7 318.3L749.5 318.3L746.3 318.2L743.0 318.2L739.8 318.2L736.5 318.2L733.2 318.3L730.0 318.4L726.7 318.5L723.4 318.6L720.1 318.7L716.8 318.9L713.5 319.1L710.2 319.4L706.9 319.6L703.6 319.9L700.3 320.2L697.0 320.5L693.6 320.9L690.3 321.3L687.0 321.7L683.6 322.1L680.3 322.6L677.0 323.1L673.6 323.6L670.3 324.2L666.9 324.7L663.6 325.3L660.2 326.0L656.9 326.6L653.5 327.3L650.2 328.0L646.8 328.8L643.5 329.5L640.1 330.3L636.7 331.1L633.4 332.0L630.0 332.9L626.7 333.8L623.3 334.7L619.9 335.7L616.6 336.7L613.2 337.7L609.9 338.8L606.5 339.8L603.2 340.9L599.8 342.1L596.5 343.3L593.1 344.5L589.8 345.7L586.5 346.9L583.1 348.2L579.8 349.5L576.5 350.9L573.2 352.3L569.9 353.7L566.6 355.1L563.3 356.6L560.0 358.1L556.7 359.6L553.4 361.2L550.1 362.8L546.9 364.4L543.6 366.0L540.3 367.7L537.1 369.4L533.9 371.2L530.6 372.9L527.4 374.7L524.2 376.6L521.0 378.4L517.8 380.3L514.6 382.3L511.5 384.2L508.3 386.2L505.2 388.2L502.0 390.3L498.9 392.3L495.8 394.5L492.7 396.6L489.6 398.8L486.5 401.0L483.5 403.2L480.4 405.5L477.4 407.8L474.4 410.1L471.4 412.5L468.4 414.9L465.5 417.3L462.5 419.7L459.6 422.2L456.7 424.7L453.8 427.3L450.9 429.8L448.0 432.5L445.2 435.1L442.4 437.8L439.6 440.4L436.8 443.2L434.0 445.9L431.3 448.7L428.6 451.5L425.9 454.4L423.2 457.3L420.5 460.2L417.9 463.1L415.3 466.1L412.7 469.0L410.2 472.1L407.6 475.1L405.1 478.2L402.7 481.3L400.2 484.4L397.8 487.6L395.4 490.8L393.0 494.0L390.6 497.3L388.3 500.5L386.0 503.8L383.8 507.2L381.5 510.5L379.3 513.9L377.2 517.3L375.0 520.7L372.9 524.2L370.8 527.7L368.8 531.2L366.8 534.7L364.8 538.3L362.8 541.9L360.9 545.5L359.0 549.1L357.2 552.8L355.4 556.5L353.6 560.2L351.8 563.9L350.1 567.6L348.4 571.4L346.8 575.2L345.2 579.0L343.7 582.8L342.1 586.7L340.6 590.6L339.2 594.5L337.8 598.4L336.4 602.3L335.1 606.3L333.8 610.2L332.5 614.2L331.3 618.2L330.2 622.3L329.0 626.3L328.0 630.4L326.9 634.4L325.9 638.5L325.0 642.6L324.0 646.7L323.2 650.9L322.3 655.0L321.6 659.2L320.8 663.3L320.1 667.5Z" stroke="#0000ff" stroke-width="12.00"/>
<path d="M1169.1 697.9L1169.0 694.8L1168.9 691.8L1168.8 688.7L1168.6 685.7L1168.4 682.6L1168.2 679.6L1167.9 676.6L1167.7 673.5L1167.4 670.5L1167.1 667.5L1166.7 664.5L1166.3 661.5L1166.0 658.5L1165.5 655.5L1165.1 652.5L1164.6 649.5L1164.1 646.6L1163.6 643.6L1163.0 640.7L1162.5 637.7L1161.9 634.8L1161.2 631.8L1160.6 628.9L1159.9 626.0L1159.2 623.1L1158.5 620.2L1157.8 617.3L1157.0 614.4L1156.3 611.5L1155.5 608.7L1154.6 605.8L1153.8 603.0L1152.9 600.1L1152.0 597.3L1151.1 594.5L1150.1 591.7L1149.2 588.9L1148.2 586.1L1147.1 583.3L1146.1 580.5L1145.0 577.8L1144.0 575.0L1142.9 572.3L1141.7 569.6L1140.6 566.9L1139.4 564.2L1138.2 561.5L1137.0 558.8L1135.8 556.1L1134.5 553.5L1133.2 550.8L1131.9 548.2L1130.6 545.6L1129.2 543.0L1127.8 540.4L1126.4 537.9L1125.0 535.3L1123.5 532.8L1122.0 530.3L1120.5 527.8L1119.0 525.3L1117.5 522.8L1115.9 520.3L1114.4 517.9L1112.8 515.4L1111.3 513.0L1109.7 510.5L1108.1 508.1L1106.5 505.7L1105.0 503.2L1103.4 500.8L1101.8 498.4L1100.1 496.0L1098.5 493.6L1096.8 491.3L1095.2 488.9L1093.5 486.6L1091.7 484.3L1090.0 482.0L1088.3 479.7L1086.5 477.4L1084.7 475.1L1082.9 472.8L1081.1 470.6L1079.3 468.4L1077.4 466.2L1075.6 464.0L1073.7 461.8L1071.8 459.6L1069.9 457.4L1067.9 455.3L1066.0 453.2L1064.0 451.1L1062.0 449.0L1060.0 446.9L1058.0 444.8L1056.0 442.7L1054.0 440.7L1051.9 438.7L1049.8 436.7L1047.7 434.7L1045.6 432.7L1043.5 430.7L1041.4 428.8L1039.3 426.8L1037.1 424.9L1034.9 423.0L1032.8 421.1L1030.6 419.2L1028.4 417.3L1026.1 415.4L1023.9 413.6L1021.7 411.8L1019.4 410.0L1017.1 408.2L1014.8 406.4L1012.5 404.6L1010.2 402.8L1007.9 401.1L1005.6 399.4L1003.2 397.7L1000.8 396.0L998.4 394.4L996.0 392.7L993.6 391.1L991.2 389.5L988.7 387.9L986.3 386.3L983.8 384.8L981.3 383.2L978.8 381.7L976.3 380.2L973.8 378.8L971.2 377.3L968.7 375.9L966.1 374.5L963.5 373.1L960.9 371.7L958.3 370.3L955.7 369.0L953.1 367.6L950.5 366.3L947.8 365.1L945.2 363.8L942.5 362.5L939.8 361.3L937.1 360.1L934.4 358.9L931.7 357.7L929.0 356.6L926.2 355.4L923.5 354.3L920.7 353.2L918.0 352.2L915.2 351.1L912.4 350.1L909.6 349.1L906.8 348.1L904.0 347.1L901.2 346.2L898.3 345.2L895.5 344.3L892.7 343.4L889.8 342.6L886.9 341.7L884.1 340.9L881.2 340.1L878.3 339.3L875.4 338.5L872.5 337.8L869.5 337.1L866.6 336.4L863.7 335.7L860.7 335.0L857.8 334.4L854.8 333.8L851.9 333.2L848.9 332.6L845.9 332.1L842.9 331.6L839.9 331.1L836.9 330.6L833.9 330.1L830.9 329.7L827.9 329.3L824.9 328.9L821.9 328.5L818.8 328.2L815.8 327.9L812.8 327.6L809.7 327.3L806.6 327.0L803.6 326.8L800.5 326.6L797.5 326.4L794.4 326.3L791.3 326.1L788.2 326.0L785.1 325.9L782.1 325.9L779.0 325.8L775.9 325.8L772.8 325.8L769.7 325.8L766.6 325.9L763.5 326.0L760.3 326.1L757.2 326.2L754.1 326.4L751.0 326.5L747.9 326.7L744.8 327.0L741.6 327.2L738.5 327.5L735.4 327.8L732.3 328.1L729.2 328.5L726.0 328.8L722.9 329.2L719.8 329.6L716.6 330.1L713.5 330.6L710.4 331.1L707.3 331.6L704.1 332.1L701.0 332.7L697.9 333.3L694.8 333.9L691.7 334.6L688.5 335.2L685.4 335.9L682.3 336.6L679.2 337.4L676.1 338.2L673.0 338.9L669.9 339.8L666.8 340.6L663.7 341.5L660.6 342.4L657.5 343.3L654.4 344.3L651.3 345.2L648.2 346.2L645.2 347.2L642.1 348.3L639.0 349.4L636.0 350.5L632.9 351.6L629.9 352.7L626.8 353.9L623.8 355.1L620.7 356.3L617.7 357.6L614.7 358.9L611.7 360.2L608.7 361.5L605.7 362.9L602.7 364.3L599.7 365.7L596.7 367.1L593.8 368.6L590.8 370.1L587.9 371.6L584.9 373.1L582.0 374.7L579.1 376.3L576.2 377.9L573.3 379.5L570.4 381.2L567.5 382.9L564.6 384.6L561.8 386.4L558.9 388.1L556.1 389.9L553.2 391.8L550.4 393.6L547.6 395.5L544.8 397.4L542.1 399.3L539.3 401.3L536.6 403.2L533.8 405.2L531.1 407.3L528.4 409.3L525.7 411.4L523.0 413.5L520.4 415.6L517.7 417.8L515.1 420.0L512.5 422.2L509.9 424.4L507.3 426.6L504.7 428.9L502.2 431.2L499.6 433.5L497.1 435.9L494.6 438.3L492.1 440.7L489.6 443.1L487.2 445.5L484.8 448.0L482.4 450.5L480.0 453.0L477.6 455.6L475.2 458.1L472.9 460.7L470.6 463.3L468.3 466.0L466.0 468.6L463.8 471.3L461.6 474.0L459.3 476.8L457.2 479.5L455.0 482.3L452.8 485.1L450.7 487.9L448.6 490.7L446.6 493.6L444.5 496.5L442.5 499.4L440.5 502.3L438.5 505.3L436.5 508.2L434.6 511.2L432.7 514.2L430.8 517.3L429.0 520.3L427.1 523.4L425.3 526.5L423.6 529.6L421.8 532.7L420.1 535.9L418.4 539.0L416.7 542.2L415.1 545.4L413.5 548.6L411.9 551.9L410.3 555.1L408.8 558.4L407.3 561.7L405.8 565.0L404.4 568.4L403.0 571.7L401.6 575.1L400.3 578.5L398.9 581.9L397.6 585.3L396.4 588.7L395.2 592.1L394.0 595.6L392.8 599.1L391.7 602.6L390.6 606.1L389.5 609.6L388.5 613.1L387.4 616.7L386.5 620.2L385.5 623.8L384.6 627.4L383.8 631.0L382.9 634.6L382.1 638.2L381.3 641.8L380.6 645.4L379.9 649.1L379.2 652.8L378.6 656.4L378.0 660.1L377.5 663.8L376.9 667.5L376.4 671.2L376.0 674.9L375.5 678.6L375.1 682.4L374.8 686.1L374.5 689.9L374.2 693.6L373.9 697.4L373.7 701.1L373.5 704.9L373.3 708.7L373.2 712.5L373.1 716.3L373.0 720.1L373.0 723.9L373.0 727.7L373.1 731.5L373.2 735.3L373.3 739.1L373.5 742.9L373.7 746.7L373.9 750.6L374.2 754.4L374.5 758.2L374.9 762.0L375.3 765.8L375.7 769.7L376.2 773.5L376.7 777.3L377.2 781.1L377.8 784.9L378.5 788.8L379.1 792.6L379.8 796.4L380.6 800.2L381.4 804.0L382.2 807.8L383.1 811.5L384.0 815.3L385.0 819.1L386.0 822.9L387.0 826.6L388.1 830.4L389.2 834.1L390.4 837.8L391.6 841.6L392.8 845.3L394.1 849.0L395.5 852.7L396.8 856.3L398.2 860.0L399.7 863.7L401.2 867.3L402.7 870.9L404.3 874.5L406.0 878.1L407.6 881.7L409.3 885.2L411.1 888.8L412.9 892.3L414.7 895.8L416.6 899.3L418.5 902.7L420.4 906.2L422.4 909.6L424.5 913.0L426.5 916.4L428.6 919.8L430.8 923.1L432.9 926.4L435.2 929.7L437.4 933.0L439.7 936.3L442.0 939.5L444.4 942.7L446.8 945.9L449.2 949.1L451.7 952.2L454.2 955.3L456.7 958.4L459.3 961.5L461.9 964.5L464.5 967.5L467.2 970.5L469.8 973.4L472.6 976.4L475.3 979.3L478.1 982.1L480.9 985.0L483.8 987.8L486.7 990.6L489.6 993.3L492.5 996.1L495.5 998.8L498.5 1001.4L501.5 1004.1L504.6 1006.7L507.7 1009.2L510.8 1011.8L513.9 1014.3L517.1 1016.8L520.2 1019.2L523.4 1021.6L526.7 1024.0L529.9 1026.4L533.2 1028.7L536.5 1031.0L539.9 1033.2L543.2 1035.4L546.6 1037.6L550.0 1039.8L553.4 1041.9L556.8 1044.0L560.3 1046.0L563.8 1048.1L567.3 1050.0L570.8 1052.0L574.3 1053.9L577.9 1055.8L581.4 1057.6L585.0 1059.4L588.6 1061.2L592.2 1062.9L595.9 1064.6L599.5 1066.3L603.2 1067.9L606.9 1069.5L610.6 1071.1L614.3 1072.6L618.0 1074.1L621.8 1075.5L625.5 1076.9L629.3 1078.3L633.1 1079.6L636.9 1080.9L640.7 1082.1L644.5 1083.3L648.3 1084.5L652.2 1085.7L656.0 1086.8L659.9 1087.8L663.8 1088.8L667.6 1089.8L671.5 1090.8L675.4 1091.7L679.3 1092.5L683.2 1093.4L687.1 1094.1L691.0 1094.9L694.9 1095.6L698.9 1096.3L702.8 1096.9L706.7 1097.5L710.7 1098.1L714.6 1098.6L718.5 1099.1L722.5 1099.5L726.4 1099.9L730.4 1100.3L734.3 1100.6L738.3 1100.9L742.2 1101.1L746.2 1101.3L750.1 1101.5L754.0 1101.6L758.0 1101.7L761.9 1101.8L765.9 1101.8L769.8 1101.8L773.7 1101.7L777.7 1101.7L781.6 1101.5L785.5 1101.4L789.4 1101.2L793.3 1100.9L797.2 1100.6L801.1 1100.3L805.0 1100.0L808.9 1099.6L812.7 1099.1L816.6 1098.7L820.5 1098.2L824.3 1097.7L828.2 1097.1L832.0 1096.5L835.8 1095.9L839.6 1095.2L843.4 1094.5L847.2 1093.8L851.0 1093.0L854.7 1092.2L858.5 1091.4L862.2 1090.5L866.0 1089.6L869.7 1088.6L873.4 1087.7L877.1 1086.7L880.8 1085.7L884.4 1084.6L888.1 1083.5L891.7 1082.4L895.3 1081.2L898.9 1080.0L902.5 1078.8L906.1 1077.5L909.7 1076.3L913.2 1075.0L916.7 1073.6L920.3 1072.2L923.7 1070.8L927.2 1069.4L930.7 1067.9L934.1 1066.4L937.5 1064.9L940.9 1063.4L944.3 1061.8L947.7 1060.2L951.0 1058.5L954.4 1056.9L957.7 1055.2L961.0 1053.5L964.2 1051.7L967.5 1049.9L970.7 1048.1L973.9 1046.3L977.1 1044.4L980.2 1042.6L983.4 1040.7L986.5 1038.7L989.6 1036.8L992.7 1034.8L995.7 1032.8L998.7 1030.7L1001.7 1028.7L1004.7 1026.6L1007.7 1024.5L1010.6 1022.3L1013.5 1020.2L1016.4 1018.0L1019.3 1015.8L1022.1 1013.6L1024.9 1011.3L1027.7 1009.1L1030.5 1006.8L1033.2 1004.5L1035.9 1002.1L1038.6 999.8L1041.3 997.4L1043.9 995.0L1046.5 992.6L1049.1 990.2L1051.7 987.7L1054.2 985.3L1056.8 982.8L1059.3 980.3L1061.7 977.8L1064.2 975.2L1066.6 972.7L1069.0 970.1L1071.3 967.5L1073.6 964.9L1076.0 962.3L1078.2 959.7L1080.5 957.0L1082.7 954.4L1084.9 951.7L1087.1 949.0L1089.2 946.3L1091.3 943.5L1093.4 940.8L1095.5 938.0L1097.5 935.3L1099.6 932.5L1101.5 929.7L1103.5 926.9L1105.4 924.1L1107.3 921.2L1109.2 918.4L1111.0 915.5L1112.8 912.7L1114.6 909.8L1116.4 906.9L1118.1 904.0L1119.8 901.1L1121.5 898.2L1123.1 895.2L1124.8 892.3L1126.4 889.3L1127.9 886.4L1129.4 883.4L1131.0 880.4L1132.4 877.5L1133.9 874.5L1135.3 871.4L1136.7 868.4L1138.0 865.4L1139.4 862.4L1140.7 859.4L1142.0 856.3L1143.2 853.3L1144.4 850.2L1145.6 847.1L1146.8 844.1L1147.9 841.0L1149.0 837.9L1150.0 834.8L1151.1 831.7L1152.1 828.6L1153.1 825.5L1154.0 822.4L1154.9 819.3L1155.8 816.2L1156.7 813.1L1157.5 810.0L1158.3 806.9L1159.1 803.7L1159.8 800.6L1160.5 797.5L1161.2 794.4L1161.9 791.2L1162.5 788.1L1163.1 785.0L1163.7 781.8L1164.2 778.7L1164.7 775.6L1165.2 772.4L1165.7 769.3L1166.1 766.2L1166.5 763.0L1166.9 759.9L1167.3 756.8L1167.6 753.6L1167.9 750.5L1168.2 747.4L1168.4 744.3L1168.7 741.2L1168.9 738.0L1169.0 734.9L1169.2 731.8L1169.3 728.7L1169.4 725.6L1169.5 722.5L1169.6 719.4L1169.6 716.3L1169.6 713.2L1169.6 710.2L1169.5 707.1L1169.5 704.0L1169.4 700.9L1169.3 697.9L1169.2 694.8L1169.0 691.8L1168.9 688.7L1168.7 685.7L1168.4 682.6L1168.2 679.6L1168.0 676.6L1167.7 673.5L1167.4 670.5L1167.1 667.5L1166.7 664.5L1166.4 661.5L1166.0 658.5L1165.6 655.5L1165.1 652.5L1164.7 649.5L1164.2 646.6L1163.7 643.6L1163.1 640.6L1162.6 637.7" stroke="#0000ff" stroke-width="12.00"/>
<path d="M1167.2 697.7L1167.1 694.7L1166.9 691.6L1166.8 688.6L1166.6 685.6L1166.4 682.5L1166.2 679.5L1165.9 676.5L1165.7 673.5L1165.4 670.5L1165.1 667.5L1164.7 664.5L1164.3 661.5L1164.0 658.5L1163.5 655.6L1163.1 652.6L1162.6 649.6L1162.1 646.7L1161.6 643.7L1161.0 640.8L1160.5 637.9L1159.9 635.0L1159.3 632.0L1158.6 629.1L1158.0 626.2L1157.3 623.3L1156.5 620.5L1155.8 617.6L1155.1 614.7L1154.3 611.9L1153.5 609.0L1152.7 606.2L1151.8 603.3L1150.9 600.5L1150.0 597.7L1149.1 594.9L1148.2 592.1L1147.2 589.3L1146.2 586.5L1145.2 583.8L1144.2 581.0L1143.1 578.3L1142.0 575.6L1140.9 572.8L1139.8 570.1L1138.7 567.4L1137.5 564.8L1136.3 562.1L1135.1 559.4L1133.9 556.8L1132.6 554.1L1131.4 551.5L1130.0 548.9L1128.7 546.3L1127.3 543.7L1126.0 541.2L1124.5 538.6L1123.1 536.1L1121.7 533.6L1120.2 531.1L1118.7 528.6L1117.2 526.1L1115.7 523.6L1114.1 521.2L1112.6 518.7L1111.0 516.3L1109.5 513.9L1107.9 511.4L1106.4 509.0L1104.8 506.6L1103.2 504.2L1101.6 501.8L1100.0 499.4L1098.4 497.0L1096.8 494.7L1095.1 492.3L1093.5 490.0L1091.8 487.7L1090.1 485.4L1088.4 483.1L1086.6 480.8L1084.9 478.5L1083.1 476.3L1081.3 474.0L1079.5 471.8L1077.7 469.6L1075.8 467.4L1074.0 465.2L1072.1 463.0L1070.2 460.8L1068.3 458.7L1066.4 456.6L1064.4 454.5L1062.5 452.4L1060.5 450.3L1058.5 448.2L1056.5 446.1L1054.5 444.1L1052.5 442.1L1050.4 440.1L1048.4 438.1L1046.3 436.1L1044.2 434.1L1042.1 432.2L1040.0 430.2L1037.9 428.3L1035.7 426.4L1033.6 424.5L1031.4 422.6L1029.2 420.7L1027.1 418.8L1024.9 417.0L1022.6 415.1L1020.4 413.3L1018.2 411.5L1015.9 409.7L1013.6 407.9L1011.3 406.2L1009.0 404.5L1006.7 402.7L1004.4 401.0L1002.0 399.3L999.7 397.7L997.3 396.0L994.9 394.4L992.5 392.8L990.1 391.2L987.7 389.6L985.2 388.0L982.8 386.5L980.3 385.0L977.8 383.5L975.3 382.0L972.8 380.5L970.3 379.1L967.7 377.6L965.2 376.2L962.6 374.8L960.0 373.5L957.5 372.1L954.9 370.8L952.2 369.5L949.6 368.2L947.0 366.9L944.4 365.6L941.7 364.4L939.0 363.2L936.4 361.9L933.7 360.8L931.0 359.6L928.3 358.5L925.6 357.3L922.8 356.2L920.1 355.1L917.3 354.1L914.6 353.0L911.8 352.0L909.0 351.0L906.3 350.0L903.5 349.0L900.7 348.1L897.8 347.2L895.0 346.3L892.2 345.4L889.3 344.5L886.5 343.7L883.6 342.8L880.8 342.0L877.9 341.3L875.0 340.5L872.1 339.8L869.2 339.0L866.3 338.3L863.4 337.7L860.5 337.0L857.5 336.4L854.6 335.8L851.6 335.2L848.7 334.6L845.7 334.1L842.8 333.6L839.8 333.1L836.8 332.6L833.8 332.1L830.8 331.7L827.8 331.3L824.8 330.9L821.8 330.5L818.8 330.2L815.8 329.9L812.8 329.6L809.7 329.3L806.7 329.0L803.6 328.8L800.6 328.6L797.5 328.4L794.5 328.3L791.4 328.1L788.4 328.0L785.3 327.9L782.2 327.9L779.2 327.8L776.1 327.8L773.0 327.8L769.9 327.8L766.8 327.9L763.7 328.0L760.6 328.1L757.6 328.2L754.5 328.3L751.4 328.5L748.3 328.7L745.2 328.9L742.1 329.2L739.0 329.4L735.8 329.7L732.7 330.1L729.6 330.4L726.5 330.8L723.4 331.2L720.3 331.6L717.2 332.0L714.1 332.5L711.0 333.0L707.9 333.5L704.8 334.0L701.7 334.6L698.6 335.2L695.4 335.8L692.3 336.4L689.2 337.1L686.1 337.8L683.0 338.5L679.9 339.2L676.9 340.0L673.8 340.8L670.7 341.6L667.6 342.4L664.5 343.3L661.4 344.2L658.4 345.1L655.3 346.0L652.2 347.0L649.1 348.0L646.1 349.0L643.0 350.1L640.0 351.1L636.9 352.2L633.9 353.3L630.9 354.5L627.8 355.6L624.8 356.8L621.8 358.1L618.8 359.3L615.8 360.6L612.8 361.9L609.8 363.2L606.8 364.5L603.8 365.9L600.9 367.3L597.9 368.7L594.9 370.2L592.0 371.7L589.1 373.2L586.1 374.7L583.2 376.2L580.3 377.8L577.4 379.4L574.5 381.1L571.7 382.7L568.8 384.4L565.9 386.1L563.1 387.9L560.3 389.6L557.4 391.4L554.6 393.2L551.8 395.0L549.0 396.9L546.3 398.8L543.5 400.7L540.7 402.6L538.0 404.6L535.3 406.6L532.6 408.6L529.9 410.7L527.2 412.7L524.5 414.8L521.9 416.9L519.2 419.1L516.6 421.2L514.0 423.4L511.4 425.6L508.8 427.9L506.3 430.1L503.7 432.4L501.2 434.7L498.7 437.1L496.2 439.4L493.7 441.8L491.3 444.2L488.8 446.7L486.4 449.1L484.0 451.6L481.6 454.1L479.3 456.6L476.9 459.2L474.6 461.8L472.3 464.4L470.0 467.0L467.8 469.6L465.5 472.3L463.3 475.0L461.1 477.7L458.9 480.4L456.8 483.2L454.6 486.0L452.5 488.8L450.4 491.6L448.4 494.5L446.3 497.3L444.3 500.2L442.3 503.1L440.3 506.1L438.4 509.0L436.5 512.0L434.6 515.0L432.7 518.0L430.8 521.0L429.0 524.1L427.2 527.2L425.5 530.2L423.7 533.4L422.0 536.5L420.3 539.6L418.6 542.8L417.0 546.0L415.4 549.2L413.8 552.4L412.3 555.7L410.7 558.9L409.2 562.2L407.8 565.5L406.3 568.8L404.9 572.2L403.6 575.5L402.2 578.9L400.9 582.3L399.6 585.7L398.4 589.1L397.1 592.5L395.9 595.9L394.8 599.4L393.6 602.9L392.5 606.4L391.5 609.9L390.4 613.4L389.4 616.9L388.5 620.4L387.5 624.0L386.6 627.5L385.8 631.1L384.9 634.7L384.1 638.3L383.3 641.9L382.6 645.6L381.9 649.2L381.2 652.8L380.6 656.5L380.0 660.1L379.5 663.8L378.9 667.5L378.4 671.2L378.0 674.9L377.5 678.6L377.1 682.3L376.8 686.0L376.4 689.8L376.2 693.5L375.9 697.2L375.7 701.0L375.5 704.8L375.3 708.5L375.2 712.3L375.1 716.1L375.0 719.8L375.0 723.6L375.0 727.4L375.1 731.2L375.2 735.0L375.3 738.8L375.5 742.6L375.7 746.4L375.9 750.2L376.2 754.0L376.5 757.8L376.8 761.6L377.2 765.4L377.7 769.2L378.1 773.0L378.6 776.8L379.2 780.6L379.8 784.4L380.4 788.2L381.1 792.0L381.8 795.8L382.5 799.6L383.3 803.4L384.1 807.1L385.0 810.9L385.9 814.7L386.9 818.4L387.9 822.2L388.9 825.9L390.0 829.7L391.1 833.4L392.2 837.1L393.4 840.8L394.7 844.5L396.0 848.2L397.3 851.9L398.7 855.5L400.1 859.2L401.5 862.8L403.0 866.4L404.5 870.0L406.1 873.6L407.7 877.2L409.4 880.7L411.1 884.3L412.8 887.8L414.6 891.3L416.4 894.8L418.3 898.3L420.2 901.7L422.2 905.2L424.1 908.6L426.1 912.0L428.2 915.3L430.3 918.7L432.4 922.0L434.6 925.3L436.8 928.6L439.0 931.9L441.3 935.1L443.6 938.3L446.0 941.5L448.4 944.7L450.8 947.8L453.2 951.0L455.7 954.1L458.2 957.1L460.8 960.2L463.4 963.2L466.0 966.2L468.7 969.2L471.3 972.1L474.1 975.0L476.8 977.9L479.6 980.8L482.4 983.6L485.2 986.4L488.1 989.2L491.0 991.9L493.9 994.6L496.9 997.3L499.9 1000.0L502.9 1002.6L505.9 1005.2L509.0 1007.7L512.1 1010.3L515.2 1012.8L518.3 1015.2L521.5 1017.7L524.7 1020.1L527.9 1022.5L531.2 1024.8L534.4 1027.1L537.7 1029.4L541.0 1031.6L544.4 1033.8L547.7 1036.0L551.1 1038.2L554.5 1040.3L557.9 1042.3L561.4 1044.4L564.9 1046.4L568.3 1048.4L571.8 1050.3L575.4 1052.2L578.9 1054.1L582.4 1055.9L586.0 1057.7L589.6 1059.5L593.2 1061.2L596.8 1062.9L600.5 1064.5L604.1 1066.2L607.8 1067.7L611.5 1069.3L615.2 1070.8L618.9 1072.3L622.6 1073.7L626.4 1075.1L630.1 1076.4L633.9 1077.8L637.7 1079.0L641.5 1080.3L645.3 1081.5L649.1 1082.7L652.9 1083.8L656.7 1084.9L660.6 1085.9L664.4 1086.9L668.3 1087.9L672.1 1088.9L676.0 1089.8L679.9 1090.6L683.8 1091.4L687.7 1092.2L691.6 1093.0L695.5 1093.7L699.4 1094.3L703.3 1095.0L707.2 1095.6L711.1 1096.1L715.0 1096.6L719.0 1097.1L722.9 1097.5L726.8 1097.9L730.7 1098.3L734.7 1098.6L738.6 1098.9L742.5 1099.2L746.5 1099.4L750.4 1099.5L754.3 1099.7L758.2 1099.8L762.2 1099.8L766.1 1099.8L770.0 1099.8L773.9 1099.8L777.8 1099.7L781.7 1099.5L785.6 1099.4L789.5 1099.2L793.4 1098.9L797.3 1098.6L801.2 1098.3L805.0 1098.0L808.9 1097.6L812.7 1097.1L816.6 1096.7L820.4 1096.2L824.3 1095.7L828.1 1095.1L831.9 1094.5L835.7 1093.9L839.5 1093.2L843.3 1092.5L847.0 1091.8L850.8 1091.0L854.6 1090.2L858.3 1089.4L862.0 1088.5L865.7 1087.6L869.4 1086.7L873.1 1085.7L876.8 1084.7L880.4 1083.7L884.1 1082.6L887.7 1081.5L891.3 1080.4L894.9 1079.3L898.5 1078.1L902.1 1076.8L905.7 1075.6L909.2 1074.3L912.7 1073.0L916.2 1071.7L919.7 1070.3L923.2 1068.9L926.7 1067.5L930.1 1066.0L933.5 1064.5L936.9 1063.0L940.3 1061.5L943.7 1059.9L947.0 1058.3L950.4 1056.7L953.7 1055.0L957.0 1053.3L960.2 1051.6L963.5 1049.9L966.7 1048.1L969.9 1046.3L973.1 1044.5L976.3 1042.6L979.4 1040.7L982.5 1038.8L985.7 1036.9L988.7 1035.0L991.8 1033.0L994.8 1031.0L997.8 1028.9L1000.8 1026.9L1003.8 1024.8L1006.7 1022.7L1009.6 1020.6L1012.5 1018.4L1015.4 1016.3L1018.3 1014.1L1021.1 1011.9L1023.9 1009.6L1026.6 1007.4L1029.4 1005.1L1032.1 1002.8L1034.8 1000.5L1037.5 998.1L1040.2 995.8L1042.8 993.4L1045.4 991.0L1048.0 988.6L1050.5 986.1L1053.0 983.7L1055.5 981.2L1058.0 978.7L1060.5 976.2L1062.9 973.7L1065.3 971.2L1067.7 968.6L1070.0 966.0L1072.3 963.4L1074.6 960.8L1076.9 958.2L1079.1 955.6L1081.3 952.9L1083.5 950.2L1085.7 947.5L1087.8 944.8L1089.9 942.1L1092.0 939.4L1094.1 936.7L1096.1 933.9L1098.1 931.1L1100.1 928.4L1102.0 925.6L1103.9 922.8L1105.8 919.9L1107.7 917.1L1109.5 914.3L1111.3 911.4L1113.1 908.6L1114.8 905.7L1116.5 902.8L1118.2 899.9L1119.9 897.0L1121.5 894.1L1123.1 891.1L1124.7 888.2L1126.3 885.2L1127.8 882.3L1129.3 879.3L1130.8 876.4L1132.2 873.4L1133.6 870.4L1135.0 867.4L1136.3 864.4L1137.7 861.4L1139.0 858.3L1140.2 855.3L1141.5 852.3L1142.7 849.2L1143.8 846.2L1145.0 843.1L1146.1 840.1L1147.2 837.0L1148.3 833.9L1149.3 830.9L1150.3 827.8L1151.2 824.7L1152.2 821.6L1153.1 818.5L1154.0 815.4L1154.8 812.3L1155.6 809.2L1156.4 806.1L1157.2 803.0L1157.9 799.9L1158.6 796.8L1159.3 793.7L1160.0 790.6L1160.6 787.4L1161.2 784.3L1161.8 781.2L1162.3 778.1L1162.8 775.0L1163.3 771.9L1163.7 768.7L1164.2 765.6L1164.6 762.5L1165.0 759.4L1165.3 756.3L1165.6 753.2L1165.9 750.1L1166.2 747.0L1166.5 743.9L1166.7 740.8L1166.9 737.7L1167.1 734.6L1167.2 731.5L1167.3 728.4L1167.4 725.3L1167.5 722.2L1167.6 719.1L1167.6 716.1L1167.6 713.0L1167.6 709.9L1167.6 706.9L1167.5 703.8L1167.4 700.8L1167.3 697.7L1167.2 694.7L1167.0 691.6L1166.9 688.6L1166.7 685.6L1166.4 682.5L1166.2 679.5L1166.0 676.5L1165.7 673.5L1165.4 670.5L1165.1 667.5L1164.7 664.5L1164.4 661.5L1164.0 658.5L1163.6 655.6L1163.1 652.6L1162.7 649.6L1162.2 646.7L1161.7 643.7L1161.2 640.8L1160.6 637.9" stroke="#0000ff" stroke-width="12.00"/>
<path d="M1080.0 721.3L1080.7 719.1L1081.5 716.8L1082.2 714.6L1082.9 712.4L1083.7 710.1L1084.4 707.9L1085.1 705.6L1085.8 703.3L1086.6 701.1L1087.3 698.8L1088.0 696.5L1088.8 694.2L1089.5 691.9L1090.3 689.6L1091.1 687.3L1092.0 684.9L1092.8 682.6L1093.6 680.2L1094.3 677.9L1095.1 675.5L1095.7 673.1L1096.3 670.7L1096.8 668.3L1097.3 665.9L1097.7 663.5L1098.0 661.0L1098.3 658.6L1098.6 656.1L1098.8 653.7L1099.0 651.2L1099.2 648.8L1099.3 646.3L1099.4 643.9L1099.5 641.4L1099.6 638.9L1099.6 636.5L1099.6 634.0L1099.6 631.5L1099.5 629.0L1099.4 626.6L1099.2 624.1L1099.0 621.6L1098.7 619.2L1098.4 616.7L1098.0 614.3L1097.6 611.8L1097.2 609.4L1096.7 606.9L1096.3 604.5L1095.7 602.1L1095.2 599.7L1094.7 597.3L1094.1 594.8L1093.5 592.4L1092.8 590.0L1092.2 587.6L1091.5 585.2L1090.9 582.9L1090.2 580.5L1089.4 578.1L1088.7 575.7L1088.0 573.3L1087.2 571.0L1086.5 568.6L1085.7 566.2L1084.9 563.8L1084.1 561.5L1083.3 559.1L1082.5 556.7L1081.6 554.4L1080.8 552.0L1079.9 549.7L1079.0 547.3L1078.1 545.0L1077.2 542.6L1076.3 540.3L1075.3 538.0L1074.4 535.6L1073.4 533.3L1072.4 531.0L1071.4 528.6L1070.4 526.3L1069.4 524.0L1068.3 521.6L1067.3 519.3L1066.2 517.0L1065.2 514.6L1064.2 512.3L1063.2 509.9L1062.1 507.5L1061.1 505.1L1060.0 502.8L1058.8 500.5L1057.6 498.2L1056.4 495.9L1055.1 493.6L1053.8 491.4L1052.4 489.1L1051.1 486.9L1049.7 484.7L1048.3 482.5L1046.9 480.3L1045.5 478.1L1044.0 475.9L1042.5 473.7L1041.0 471.6L1039.5 469.4L1038.0 467.3L1036.4 465.2L1034.8 463.1L1033.2 461.0L1031.6 458.9L1029.9 456.8L1028.2 454.8L1026.5 452.7L1024.8 450.7L1023.1 448.6L1021.3 446.6L1019.6 444.6L1017.8 442.7L1015.9 440.7L1014.1 438.7L1012.2 436.8L1010.4 434.9L1008.5 433.0L1006.6 431.0L1004.6 429.2L1002.7 427.3L1000.7 425.4L998.8 423.5L996.8 421.7L994.8 419.9L992.7 418.1L990.7 416.3L988.6 414.5L986.5 412.7L984.4 411.0L982.3 409.2L980.1 407.5L978.0 405.8L975.8 404.2L973.6 402.5L971.4 400.9L969.1 399.3L966.9 397.6L964.6 396.1L962.3 394.5L960.0 392.9L957.7 391.4L955.4 389.9L953.1 388.3L950.7 386.8L948.3 385.4L946.0 383.9L943.6 382.4L941.1 381.0L938.7 379.6L936.3 378.2L933.8 376.8L931.4 375.4L928.9 374.0L926.4 372.7L923.9 371.4L921.3 370.0L918.8 368.8L916.3 367.5L913.7 366.2L911.1 365.0L908.5 363.7L905.9 362.5L903.3 361.3L900.7 360.1L898.0 359.0L895.4 357.8L892.7 356.7L890.0 355.6L887.3 354.5L884.6 353.4L881.9 352.3L879.2 351.3L876.4 350.3L873.7 349.3L870.9 348.3L868.1 347.3L865.3 346.4L862.5 345.4L859.7 344.5L856.8 343.6L854.0 342.7L851.2 341.9L848.3 341.0L845.4 340.2L842.5 339.4L839.6 338.6L836.7 337.8L833.8 337.1L830.8 336.4L827.9 335.7L824.9 335.0L822.0 334.3L819.0 333.7L816.0 333.0L813.0 332.4L810.0 331.8L807.0 331.3L803.9 330.7L800.9 330.2L797.8 329.7L794.8 329.2L791.7 328.7L788.6 328.3L785.5 327.8L782.4 327.4L779.3 327.0L776.2 326.7L773.0 326.3L769.9 326.0L766.7 325.7L763.6 325.4L760.4 325.2L757.2 324.9L754.0 324.7L750.8 324.5L747.6 324.4L744.4 324.2L741.2 324.1L737.9 324.0L734.7 323.9L731.4 323.9L728.2 323.9L724.9 323.9L721.6 323.9L718.3 323.9L715.0 324.0L711.7 324.1L708.4 324.2L705.1 324.4L701.8 324.5L698.5 324.7L695.1 325.0L691.8 325.2L688.5 325.5L685.1 325.8L681.8 326.1L678.4 326.5L675.0 326.9L671.6 327.3L668.3 327.7L664.9 328.2L661.5 328.7L658.1 329.2L654.7 329.7L651.3 330.3L647.9 330.9L644.5 331.5L641.1 332.2L637.7 332.9L634.3 333.6L630.9 334.4L627.4 335.1L624.0 336.0L620.6 336.8L617.2 337.7" stroke="#0000ff" stroke-width="12.00"/>
<path d="M318.6 667.5L318.0 671.7L317.3 675.9L316.7 680.1L316.2 684.4L315.7 688.6L315.3 692.9L314.9 697.1L314.5 701.4L314.2 705.7L314.0 710.0L313.8 714.3L313.6 718.6L313.5 722.9L313.4 727.2L313.4 731.5L313.4 735.8L313.5 740.1L313.6 744.5L313.8 748.8L314.0 753.1L314.3 757.5L314.6 761.8L315.0 766.1L315.4 770.4L315.9 774.8L316.4 779.1L317.0 783.4L317.6 787.7L318.3 792.0L319.0 796.3L319.7 800.6L320.6 804.9L321.4 809.2L322.3 813.5L323.3 817.8L324.3 822.0L325.4 826.3L326.5 830.5L327.7 834.8L328.9 839.0L330.1 843.2L331.4 847.4L332.8 851.6L334.2 855.8L335.7 859.9L337.2 864.1L338.7 868.2L340.3 872.3L342.0 876.4L343.7 880.5L345.4 884.5L347.2 888.6L349.1 892.6L351.0 896.6L352.9 900.6L354.9 904.5L356.9 908.5L359.0 912.4L361.1 916.3L363.3 920.2L365.5 924.0L367.7 927.8L370.0 931.6L372.4 935.4L374.8 939.2L377.2 942.9L379.7 946.6L382.2 950.3L384.8 953.9L387.4 957.5L390.0 961.1L392.7 964.6L395.4 968.2L398.2 971.7L401.0 975.1L403.9 978.5L406.8 981.9L409.7 985.3L412.6 988.6L415.6 991.9L418.7 995.2L421.8 998.4L424.9 1001.6L428.0 1004.8L431.2 1007.9L434.4 1011.0L437.7 1014.0L441.0 1017.1L444.3 1020.0L447.7 1023.0L451.1 1025.9L454.5 1028.7L457.9 1031.6L461.4 1034.4L464.9 1037.1L468.5 1039.8L472.0 1042.5L475.6 1045.1L479.3 1047.7L482.9 1050.2L486.6 1052.7L490.3 1055.2L494.1 1057.6L497.8 1060.0L501.6 1062.3L505.4 1064.6L509.3 1066.9L513.1 1069.1L517.0 1071.2L520.9 1073.3L524.8 1075.4L528.8 1077.5L532.7 1079.4L536.7 1081.4L540.7 1083.3L544.7 1085.1L548.8 1087.0L552.8 1088.7L556.9 1090.4L561.0 1092.1L565.1 1093.8L569.2 1095.3L573.3 1096.9L577.4 1098.4L581.6 1099.8L585.8 1101.3L589.9 1102.6L594.1 1103.9L598.3 1105.2L602.5 1106.4L606.7 1107.6L611.0 1108.8L615.2 1109.9L619.4 1110.9L623.7 1111.9L627.9 1112.9L632.2 1113.8L636.5 1114.7L640.7 1115.5L645.0 1116.3L649.3 1117.0L653.5 1117.7L657.8 1118.4L662.1 1119.0L666.4 1119.6L670.6 1120.1L674.9 1120.5L679.2 1121.0L683.5 1121.4L687.8 1121.7L692.0 1122.0L696.3 1122.3L700.6 1122.5L704.8 1122.7L709.1 1122.8L713.3 1122.9L717.6 1123.0L721.8 1123.0L726.1 1122.9L730.3 1122.9L734.5 1122.7L738.7 1122.6L742.9 1122.4L747.1 1122.2L751.3 1121.9L755.5 1121.6L759.7 1121.2L763.8 1120.8L768.0 1120.4L772.1 1119.9L776.2 1119.4L780.3 1118.9L784.4 1118.3L788.5 1117.6L792.6 1117.0L796.7 1116.3L800.7 1115.5L804.7 1114.8L808.7 1114.0L812.8 1113.1L816.7 1112.2L820.7 1111.3L824.7 1110.3L828.6 1109.3L832.5 1108.2L836.4 1107.1L840.3 1106.0L844.2 1104.8L848.0 1103.6L851.8 1102.4L855.6 1101.1L859.4 1099.8L863.2 1098.4L866.9 1097.0L870.6 1095.5L874.3 1094.1L878.0 1092.6L881.6 1091.0L885.3 1089.5L888.9 1087.9L892.5 1086.3L896.0 1084.6L899.6 1083.0L903.1 1081.3L906.6 1079.5L910.0 1077.8L913.5 1076.0L916.9 1074.2L920.3 1072.4L923.7 1070.6L927.0 1068.7L930.4 1066.9L933.7 1065.0L936.9 1063.0L940.2 1061.1L943.4 1059.2L946.7 1057.2L949.9 1055.2L953.0 1053.2L956.2 1051.2L959.3 1049.2L962.4 1047.1L965.5 1045.1L968.6 1043.0L971.6 1040.9L974.6 1038.8L977.6 1036.6L980.5 1034.5L983.5 1032.3L986.4 1030.1L989.3 1027.9L992.1 1025.6L995.0 1023.4L997.8 1021.1L1000.6 1018.8L1003.4 1016.6L1006.1 1014.2L1008.8 1011.9L1011.5 1009.6L1014.2 1007.2L1016.8 1004.8L1019.4 1002.4L1022.0 1000.0L1024.6 997.6L1027.1 995.2L1029.6 992.7L1032.1 990.2L1034.6 987.8L1037.0 985.3L1039.5 982.8L1041.8 980.2L1044.2 977.7L1046.5 975.1L1048.9 972.6L1051.2 970.0L1053.4 967.4L1055.7 964.8L1057.9 962.2L1060.0 959.6L1062.2 957.0L1064.3 954.3L1066.4 951.7L1068.5 949.0L1070.6 946.3L1072.6 943.6L1074.6 940.9L1076.6 938.2L1078.5 935.5L1080.5 932.8L1082.4 930.0L1084.3 927.3L1086.2 924.6L1088.0 921.8L1089.8 919.1L1091.7 916.3L1093.4 913.6L1095.2 910.8L1096.9 908.0L1098.7 905.3L1100.4 902.5L1102.0 899.7L1103.7 896.9L1105.3 894.1L1106.9 891.3L1108.5 888.5L1110.1 885.7L1111.6 882.8L1113.1 880.0L1114.6 877.1L1116.0 874.3L1117.4 871.4L1118.8 868.5L1120.1 865.6L1121.5 862.7L1122.8 859.8L1124.0 856.9L1125.2 854.0L1126.4 851.0L1127.6 848.1L1128.7 845.1L1129.7 842.1L1130.8 839.1L1131.8 836.2L1132.8 833.2L1133.7 830.2L1134.7 827.2L1135.6 824.2L1136.4 821.2L1137.3 818.2L1138.1 815.2L1138.9 812.2L1139.7 809.2L1140.5 806.2L1141.2 803.2L1141.9 800.2L1142.5 797.2L1143.2 794.2L1143.8 791.2L1144.4 788.2L1145.0 785.2L1145.5 782.2L1146.0 779.2L1146.5 776.2L1147.0 773.2L1147.4 770.2L1147.9 767.3L1148.3 764.3L1148.6 761.3L1149.0 758.3L1149.3 755.3L1149.6 752.3L1149.9 749.4L1150.2 746.4L1150.4 743.4L1150.6 740.4L1150.8 737.5L1151.0 734.5L1151.1 731.5L1151.2 728.6L1151.3 725.6L1151.4 722.7L1151.5 719.7L1151.5 716.8L1151.5 713.9L1151.5 710.9L1151.4 708.0L1151.4 705.1L1151.3 702.1L1151.2 699.2L1151.0 696.3L1150.9 693.4L1150.7 690.5L1150.5 687.6L1150.3 684.7L1150.0 681.8L1149.8 679.0L1149.5 676.1L1149.2 673.2L1148.8 670.4L1148.4 667.5L1148.1 664.7L1147.6 661.8L1147.2 659.0L1146.7 656.1L1146.2 653.3L1145.7 650.5L1145.1 647.7L1144.6 644.9L1144.0 642.1L1143.4 639.3L1142.8 636.6L1142.1 633.8L1141.5 631.0L1140.8 628.3L1140.1 625.5L1139.4 622.8L1138.7 620.1L1138.0 617.3L1137.2 614.6L1136.4 611.9L1135.7 609.2L1134.8 606.5L1134.0 603.9L1133.2 601.2L1132.3 598.5L1131.5 595.9L1130.6 593.2L1129.7 590.6L1128.8 587.9L1127.8 585.3L1126.9 582.7L1125.9 580.1L1124.9 577.5L1123.9 574.9L1122.9 572.3L1121.8 569.7L1120.8 567.1L1119.7 564.6L1118.6 562.0L1117.5 559.5L1116.4 557.0L1115.3 554.4L1114.1 551.9L1112.9 549.4L1111.7 546.9L1110.5 544.4L1109.3 541.9L1108.1 539.5L1106.8 537.0L1105.5 534.6L1104.3 532.1L1103.0 529.7L1101.6 527.3L1100.3 524.8L1099.0 522.4L1097.6 520.0L1096.2 517.6L1094.8 515.3L1093.4 512.9L1092.0 510.5L1090.5 508.2L1089.1 505.8L1087.6 503.5L1086.1 501.2L1084.6 498.9L1083.1 496.6L1081.5 494.3L1080.0 492.0L1078.4 489.7L1076.8 487.5L1075.2 485.2L1073.6 483.0L1072.0 480.7L1070.3 478.5L1068.7 476.3L1067.0 474.1L1065.3 471.9L1063.6 469.7L1061.8 467.6L1060.1 465.4L1058.3 463.3L1056.5 461.2L1054.7 459.0L1052.9 456.9L1051.1 454.8L1049.3 452.8L1047.4 450.7L1045.5 448.6L1043.6 446.6L1041.7 444.5L1039.8 442.5L1037.9 440.5L1035.9 438.5L1033.9 436.5L1032.0 434.6L1030.0 432.6L1027.9 430.7L1025.9 428.7L1023.9 426.8L1021.8 424.9L1019.7 423.0L1017.6 421.1L1015.5 419.3L1013.4 417.4L1011.3 415.6L1009.1 413.8L1007.0 411.9L1004.8 410.1L1002.6 408.4L1000.4 406.6L998.1 404.8L995.9 403.1L993.6 401.4L991.4 399.7L989.1 398.0L986.8 396.3L984.5 394.6L982.1 393.0L979.8 391.4L977.4 389.7L975.1 388.1L972.7 386.6L970.3 385.0L967.9 383.4L965.4 381.9L963.0 380.4L960.6 378.9L958.1 377.4L955.6 375.9L953.1 374.4L950.6 373.0L948.1 371.5L945.5 370.1L943.0 368.7L940.4 367.4L937.9 366.0L935.3 364.6L932.7 363.3L930.1 362.0L927.4 360.7L924.8 359.4L922.1 358.2L919.5 356.9L916.8 355.7L914.1 354.5L911.4 353.3L908.7 352.1L906.0 351.0L903.2 349.8L900.5 348.7L897.7 347.6L894.9 346.5L892.2 345.5L889.4 344.4L886.5 343.4L883.7 342.4L880.9 341.4L878.0 340.4L875.2 339.5L872.3 338.5L869.4 337.6L866.6 336.7L863.7 335.8L860.7 335.0L857.8 334.1L854.9 333.3L851.9 332.5L849.0 331.8L846.0 331.0L843.1 330.3L840.1 329.5L837.1 328.8L834.1 328.2L831.0 327.5L828.0 326.9L825.0 326.3L821.9 325.7L818.9 325.1L815.8 324.6L812.8 324.0L809.7 323.5L806.6 323.1L803.5 322.6L800.4 322.2L797.2 321.7L794.1 321.4L791.0 321.0L787.8 320.6L784.7 320.3L781.5 320.0L778.4 319.7L775.2 319.5L772.0 319.2L768.8 319.0L765.6 318.8L762.4 318.7L759.2 318.5L756.0 318.4L752.7 318.3L749.5 318.3L746.3 318.2L743.0 318.2L739.8 318.2L736.5 318.2L733.2 318.3L730.0 318.4L726.7 318.5L723.4 318.6L720.1 318.7L716.8 318.9L713.5 319.1L710.2 319.4L706.9 319.6L703.6 319.9L700.3 320.2L697.0 320.5L693.6 320.9L690.3 321.3L687.0 321.7L683.6 322.1L680.3 322.6L677.0 323.1L673.6 323.6L670.3 324.2L666.9 324.7L663.6 325.3L660.2 326.0L656.9 326.6L653.5 327.3L650.2 328.0L646.8 328.8L643.5 329.5L640.1 330.3L636.7 331.1L633.4 332.0L630.0 332.9L626.7 333.8L623.3 334.7L619.9 335.7L616.6 336.7L613.2 337.7L609.9 338.8L606.5 339.8L603.2 340.9L599.8 342.1L596.5 343.3L593.1 344.5L589.8 345.7L586.5 346.9L583.1 348.2L579.8 349.5L576.5 350.9L573.2 352.3L569.9 353.7L566.6 355.1L563.3 356.6L560.0 358.1L556.7 359.6L553.4 361.2L550.1 362.8L546.9 364.4L543.6 366.0L540.3 367.7L537.1 369.4L533.9 371.2L530.6 372.9L527.4 374.7L524.2 376.6L521.0 378.4L517.8 380.3L514.6 382.3L511.5 384.2L508.3 386.2L505.2 388.2L502.0 390.3L498.9 392.3L495.8 394.5L492.7 396.6L489.6 398.8L486.5 401.0L483.5 403.2L480.4 405.5L477.4 407.8L474.4 410.1L471.4 412.5L468.4 414.9L465.5 417.3L462.5 419.7L459.6 422.2L456.7 424.7L453.8 427.3L450.9 429.8L448.0 432.5L445.2 435.1L442.4 437.8L439.6 440.4L436.8 443.2L434.0 445.9L431.3 448.7L428.6 451.5L425.9 454.4L423.2 457.2L420.5 460.2L417.9 463.1L415.3 466.0L412.7 469.0L410.1 472.0L407.6 475.1L405.1 478.2L402.6 481.3L400.1 484.4L397.7 487.6L395.3 490.7L392.9 494.0L390.5 497.2L388.2 500.5L385.8 503.8L383.6 507.1L381.3 510.4L379.1 513.8L376.9 517.2L374.7 520.6L372.6 524.1L370.5 527.6L368.4 531.1L366.4 534.6L364.3 538.2L362.4 541.8L360.4 545.4L358.5 549.0L356.6 552.6L354.8 556.3L353.0 560.0L351.2 563.7L349.4 567.5L347.7 571.3L346.1 575.1L344.4 578.9L342.8 582.7L341.3 586.6L339.8 590.4L338.3 594.3L336.8 598.2L335.4 602.2L334.1 606.1L332.8 610.1L331.5 614.1L330.2 618.1L329.0 622.1L327.9 626.2L326.7 630.3L325.7 634.3L324.6 638.4L323.6 642.5L322.7 646.7L321.8 650.8L320.9 655.0L320.1 659.1L319.3 663.3L318.6 667.5Z" stroke="#0000ff" stroke-width="12.00"/>
<path d="M318.8 667.5L318.3 671.7L317.8 675.9L317.3 680.1L316.9 684.4L316.5 688.6L316.2 692.8L315.9 697.1L315.7 701.3L315.5 705.6L315.4 709.9L315.3 714.1L315.2 718.4L315.2 722.7L315.3 727.0L315.4 731.3L315.6 735.5L315.8 739.8L316.0 744.1L316.3 748.4L316.7 752.7L317.1 756.9L317.5 761.2L318.0 765.5L318.6 769.8L319.2 774.0L319.8 778.3L320.5 782.6L321.3 786.8L322.1 791.1L322.9 795.3L323.8 799.5L324.8 803.7L325.8 808.0L326.8 812.2L327.9 816.4L329.0 820.5L330.2 824.7L331.5 828.9L332.7 833.0L334.1 837.1L335.5 841.3L336.9 845.4L338.4 849.4L339.9 853.5L341.5 857.6L343.1 861.6L344.8 865.6L346.5 869.6L348.3 873.6L350.1 877.6L352.0 881.5L353.9 885.4L355.8 889.3L357.8 893.2L359.8 897.1L361.9 900.9L364.1 904.7L366.2 908.5L368.5 912.2L370.7 916.0L373.0 919.7L375.4 923.4L377.8 927.0L380.2 930.7L382.7 934.3L385.2 937.8L387.8 941.4L390.4 944.9L393.0 948.4L395.7 951.8L398.4 955.3L401.2 958.7L404.0 962.0L406.8 965.4L409.7 968.6L412.6 971.9L415.5 975.1L418.5 978.3L421.5 981.5L424.6 984.6L427.7 987.7L430.8 990.8L434.0 993.8L437.1 996.8L440.4 999.7L443.6 1002.7L446.9 1005.5L450.2 1008.4L453.6 1011.2L457.0 1013.9L460.4 1016.7L463.8 1019.3L467.3 1022.0L470.8 1024.6L474.3 1027.1L477.8 1029.7L481.4 1032.2L485.0 1034.6L488.6 1037.0L492.3 1039.4L496.0 1041.7L499.7 1044.0L503.4 1046.2L507.1 1048.4L510.9 1050.5L514.7 1052.7L518.5 1054.7L522.3 1056.8L526.1 1058.7L530.0 1060.7L533.9 1062.6L537.8 1064.4L541.7 1066.2L545.6 1068.0L549.6 1069.7L553.5 1071.4L557.5 1073.0L561.5 1074.6L565.5 1076.2L569.5 1077.7L573.6 1079.1L577.6 1080.6L581.6 1081.9L585.7 1083.3L589.8 1084.6L593.8 1085.8L597.9 1087.0L602.0 1088.2L606.1 1089.3L610.2 1090.4L614.3 1091.4L618.5 1092.4L622.6 1093.4L626.7 1094.3L630.8 1095.1L635.0 1096.0L639.1 1096.7L643.2 1097.5L647.4 1098.2L651.5 1098.8L655.7 1099.5L659.8 1100.0L663.9 1100.6L668.1 1101.0L672.2 1101.5L676.4 1101.9L680.5 1102.3L684.6 1102.6L688.7 1102.9L692.9 1103.1L697.0 1103.3L701.1 1103.5L705.2 1103.6L709.3 1103.7L713.4 1103.7L717.5 1103.7L721.6 1103.7L725.7 1103.6L729.8 1103.5L733.8 1103.3L737.9 1103.1L741.9 1102.9L746.0 1102.6L750.0 1102.3L754.0 1102.0L758.0 1101.6L762.0 1101.1L766.0 1100.7L770.0 1100.2L773.9 1099.6L777.9 1099.0L781.8 1098.4L785.7 1097.8L789.6 1097.1L793.5 1096.4L797.4 1095.6L801.3 1094.8L805.1 1094.0L808.9 1093.1L812.8 1092.2L816.5 1091.3L820.3 1090.3L824.1 1089.3L827.8 1088.3L831.6 1087.2L835.3 1086.1L839.0 1084.9L842.6 1083.8L846.3 1082.6L849.9 1081.3L853.6 1080.1L857.1 1078.8L860.7 1077.5L864.3 1076.1L867.8 1074.7L871.3 1073.3L874.8 1071.8L878.3 1070.4L881.7 1068.9L885.2 1067.3L888.6 1065.8L891.9 1064.2L895.3 1062.6L898.6 1060.9L902.0 1059.3L905.2 1057.6L908.5 1055.9L911.8 1054.1L915.0 1052.4L918.2 1050.6L921.4 1048.8L924.5 1047.0L927.6 1045.1L930.7 1043.3L933.8 1041.4L936.9 1039.5L939.9 1037.5L942.9 1035.6L945.9 1033.6L948.9 1031.6L951.8 1029.6L954.7 1027.6L957.6 1025.5L960.5 1023.5L963.3 1021.4L966.1 1019.3L968.9 1017.2L971.7 1015.0L974.4 1012.9L977.1 1010.7L979.8 1008.6L982.5 1006.4L985.1 1004.2L987.8 1001.9L990.4 999.7L992.9 997.5L995.5 995.2L998.0 992.9L1000.5 990.6L1003.0 988.3L1005.4 986.0L1007.9 983.7L1010.3 981.4L1012.7 979.1L1015.1 976.7L1017.4 974.4L1019.7 972.0L1022.1 969.6L1024.3 967.2L1026.6 964.9L1028.8 962.4L1031.0 960.0L1033.2 957.6L1035.4 955.2L1037.6 952.8L1039.7 950.3L1041.8 947.9L1043.9 945.4L1045.9 942.9L1048.0 940.5L1050.0 938.0L1052.0 935.5L1054.0 933.0L1055.9 930.5L1057.8 927.9L1059.7 925.4L1061.6 922.9L1063.5 920.3L1065.3 917.7L1067.1 915.2L1068.9 912.6L1070.7 910.0L1072.4 907.4L1074.1 904.8L1075.8 902.2L1077.5 899.6L1079.1 897.0L1080.7 894.3L1082.3 891.7L1083.9 889.0L1085.4 886.4L1087.0 883.7L1088.5 881.0L1089.9 878.4L1091.4 875.7L1092.8 873.0L1094.2 870.3L1095.5 867.6L1096.9 864.8L1098.2 862.1L1099.5 859.4L1100.7 856.6L1101.9 853.9L1103.1 851.1L1104.3 848.4L1105.5 845.6L1106.6 842.8L1107.7 840.1L1108.8 837.3L1109.8 834.5L1110.8 831.7L1111.8 828.9L1112.8 826.1L1113.7 823.3L1114.6 820.5L1115.5 817.7L1116.4 814.9L1117.2 812.1L1118.1 809.3L1118.9 806.5L1119.6 803.7L1120.4 800.9L1121.1 798.1L1121.9 795.3L1122.5 792.4L1123.2 789.6L1123.8 786.8L1124.5 784.0L1125.1 781.2L1125.6 778.4L1126.2 775.6L1126.7 772.8L1127.2 770.0L1127.7 767.1L1128.2 764.3L1128.6 761.5L1129.1 758.7L1129.5 755.9L1129.8 753.1L1130.2 750.3L1130.5 747.5L1130.9 744.7L1131.1 741.9L1131.4 739.1L1131.7 736.3L1131.9 733.6L1132.1 730.8L1132.3 728.0L1132.5 725.2L1132.6 722.4L1132.7 719.6L1132.8 716.9L1132.9 714.1L1133.0 711.3L1133.0 708.6L1133.1 705.8L1133.1 703.0L1133.1 700.3L1133.0 697.5L1133.0 694.8L1132.9 692.0L1132.8 689.3L1132.7 686.6L1132.5 683.8L1132.4 681.1L1132.2 678.4L1132.0 675.6L1131.8 672.9L1131.5 670.2L1131.2 667.5L1130.9 664.8L1130.6 662.1L1130.3 659.4L1129.9 656.7L1129.5 654.0L1129.1 651.4L1128.6 648.7L1128.2 646.0L1127.7 643.4L1127.2 640.7L1126.7 638.1L1126.1 635.4L1125.6 632.8L1125.0 630.2L1124.4 627.6L1123.8 624.9L1123.1 622.3L1122.5 619.7L1121.8 617.1L1121.1 614.6L1120.4 612.0L1119.6 609.4L1118.9 606.9L1118.1 604.3L1117.3 601.8L1116.5 599.2L1115.6 596.7L1114.8 594.2L1113.9 591.7L1113.1 589.1L1112.2 586.6L1111.3 584.1L1110.4 581.7L1109.5 579.2L1108.5 576.7L1107.6 574.2L1106.6 571.8L1105.6 569.3L1104.6 566.9L1103.7 564.4L1102.7 562.0L1101.7 559.5L1100.7 557.1L1099.6 554.6L1098.6 552.2L1097.6 549.8L1096.5 547.4L1095.5 544.9L1094.4 542.5L1093.3 540.1L1092.1 537.8L1091.0 535.4L1089.8 533.0L1088.6 530.6L1087.5 528.3L1086.2 525.9L1085.0 523.6L1083.7 521.2L1082.5 518.9L1081.2 516.6L1079.8 514.3L1078.5 512.0L1077.1 509.8L1075.7 507.5L1074.3 505.2L1072.9 503.0L1071.5 500.8L1070.0 498.5L1068.6 496.3L1067.1 494.1L1065.6 491.9L1064.1 489.7L1062.5 487.5L1061.0 485.4L1059.4 483.2L1057.8 481.1L1056.2 478.9L1054.6 476.8L1053.0 474.7L1051.4 472.6L1049.7 470.5L1048.0 468.4L1046.3 466.3L1044.6 464.2L1042.9 462.2L1041.2 460.1L1039.4 458.1L1037.6 456.1L1035.8 454.0L1034.0 452.0L1032.2 450.0L1030.4 448.1L1028.5 446.1L1026.7 444.1L1024.8 442.2L1022.9 440.3L1021.0 438.3L1019.0 436.4L1017.1 434.5L1015.1 432.7L1013.2 430.8L1011.2 428.9L1009.2 427.1L1007.1 425.2L1005.1 423.4L1003.1 421.6L1001.0 419.8L998.9 418.0L996.8 416.2L994.7 414.5L992.6 412.7L990.4 411.0L988.3 409.3L986.1 407.6L983.9 405.9L981.7 404.2L979.5 402.5L977.3 400.9L975.1 399.2L972.8 397.6L970.5 396.0L968.2 394.4L965.9 392.8L963.6 391.2L961.3 389.7L958.9 388.1L956.6 386.6L954.2 385.1L951.8 383.6L949.4 382.1L947.0 380.6L944.6 379.2L942.1 377.7L939.7 376.3L937.2 374.9L934.7 373.5L932.2 372.1L929.7 370.8L927.2 369.4L924.7 368.1L922.1 366.8L919.5 365.5L917.0 364.2L914.4 363.0L911.8 361.7L909.2 360.5L906.5 359.3L903.9 358.1L901.2 356.9L898.5 355.7L895.9 354.6L893.2 353.4L890.5 352.3L887.7 351.2L885.0 350.2L882.3 349.1L879.5 348.1L876.7 347.0L873.9 346.0L871.1 345.0L868.3 344.1L865.5 343.1L862.7 342.2L859.8 341.3L857.0 340.4L854.1 339.5L851.2 338.7L848.3 337.8L845.4 337.0L842.5 336.2L839.6 335.4L836.7 334.7L833.7 334.0L830.7 333.2L827.8 332.5L824.8 331.9L821.8 331.2L818.8 330.6L815.8 330.0L812.8 329.4L809.7 328.8L806.7 328.3L803.6 327.7L800.5 327.2L797.5 326.7L794.4 326.3L791.3 325.8L788.2 325.4L785.1 325.0L781.9 324.6L778.8 324.3L775.7 324.0L772.5 323.7L769.4 323.4L766.2 323.1L763.0 322.9L759.8 322.7L756.6 322.5L753.4 322.3L750.2 322.2L747.0 322.0L743.8 321.9L740.5 321.9L737.3 321.8L734.0 321.8L730.8 321.8L727.5 321.8L724.3 321.9L721.0 322.0L717.7 322.1L714.4 322.2L711.1 322.4L707.8 322.5L704.5 322.7L701.2 323.0L697.9 323.2L694.5 323.5L691.2 323.8L687.9 324.2L684.5 324.5L681.2 324.9L677.9 325.3L674.5 325.8L671.2 326.3L667.8 326.8L664.4 327.3L661.1 327.9L657.7 328.4L654.3 329.0L651.0 329.7L647.6 330.4L644.2 331.1L640.8 331.8L637.5 332.5L634.1 333.3L630.7 334.1L627.3 335.0L623.9 335.8L620.6 336.7L617.2 337.7L613.8 338.6L610.4 339.6L607.0 340.6L603.6 341.7L600.3 342.8L596.9 343.9L593.5 345.0L590.1 346.2L586.8 347.4L583.4 348.6L580.0 349.8L576.7 351.1L573.3 352.5L570.0 353.8L566.6 355.2L563.3 356.6L560.0 358.1L556.6 359.5L553.3 361.0L550.0 362.6L546.7 364.1L543.4 365.7L540.1 367.4L536.8 369.0L533.5 370.7L530.2 372.5L526.9 374.2L523.7 376.0L520.4 377.8L517.2 379.7L513.9 381.6L510.7 383.5L507.5 385.5L504.3 387.5L501.1 389.5L498.0 391.5L494.8 393.6L491.6 395.7L488.5 397.9L485.4 400.0L482.3 402.2L479.2 404.5L476.1 406.8L473.0 409.1L470.0 411.4L466.9 413.8L463.9 416.2L460.9 418.6L457.9 421.1L455.0 423.6L452.0 426.1L449.1 428.7L446.2 431.3L443.3 433.9L440.4 436.5L437.6 439.2L434.7 441.9L431.9 444.7L429.1 447.5L426.4 450.3L423.6 453.1L420.9 456.0L418.2 458.9L415.5 461.9L412.9 464.8L410.3 467.8L407.7 470.9L405.1 473.9L402.6 477.0L400.1 480.1L397.6 483.3L395.1 486.5L392.7 489.7L390.3 492.9L387.9 496.2L385.6 499.5L383.3 502.8L381.0 506.1L378.8 509.5L376.6 512.9L374.4 516.4L372.2 519.8L370.1 523.3L368.0 526.8L366.0 530.3L364.0 533.9L362.0 537.5L360.1 541.1L358.2 544.8L356.3 548.4L354.5 552.1L352.7 555.8L350.9 559.5L349.2 563.3L347.5 567.1L345.9 570.9L344.3 574.7L342.7 578.5L341.2 582.4L339.7 586.3L338.2 590.2L336.8 594.1L335.5 598.0L334.1 602.0L332.9 606.0L331.6 610.0L330.4 614.0L329.3 618.0L328.2 622.1L327.1 626.1L326.1 630.2L325.1 634.3L324.1 638.4L323.2 642.5L322.4 646.7L321.6 650.8L320.8 655.0L320.1 659.1L319.5 663.3L318.8 667.5Z" stroke="#0000ff" stroke-width="12.00"/>
<path d="M1014.2 1007.2L1016.8 1004.8L1019.5 1002.4L1022.1 1000.0L1024.6 997.5L1027.2 995.1L1029.7 992.6L1032.2 990.1L1034.7 987.6L1037.2 985.1L1039.6 982.6L1042.0 980.1L1044.4 977.5L1046.7 975.0L1049.0 972.4L1051.3 969.8L1053.6 967.2L1055.9 964.6L1058.1 962.0L1060.3 959.3L1062.5 956.7L1064.6 954.0L1066.7 951.3L1068.8 948.7L1070.9 946.0L1072.9 943.3L1074.9 940.5L1076.9 937.8L1078.9 935.1L1080.8 932.3L1082.7 929.6L1084.6 926.8L1086.5 924.1L1088.3 921.3L1090.2 918.5L1092.0 915.8L1093.8 913.0L1095.5 910.2L1097.3 907.4L1099.0 904.6L1100.7 901.8L1102.4 899.0L1104.1 896.2L1105.7 893.4L1107.3 890.6L1108.9 887.8L1110.5 884.9L1112.0 882.1L1113.5 879.2L1115.0 876.3L1116.4 873.5L1117.8 870.6L1119.2 867.7L1120.6 864.8L1121.9 861.8L1123.2 858.9L1124.4 856.0L1125.6 853.0L1126.8 850.0L1127.9 847.1L1129.0 844.1L1130.1 841.1L1131.1 838.1L1132.1 835.1L1133.1 832.1L1134.1 829.1L1135.0 826.1L1135.9 823.1L1136.8 820.1L1137.6 817.1L1138.4 814.0L1139.2 811.0L1140.0 808.0L1140.7 805.0L1141.5 802.0L1142.1 799.0L1142.8 795.9L1143.4 792.9L1144.1 789.9L1144.6 786.9L1145.2 783.9L1145.7 780.9L1146.2 777.8L1146.7 774.8L1147.2 771.8L1147.6 768.8L1148.1 765.8L1148.4 762.8L1148.8 759.8L1149.2 756.8L1149.5 753.8L1149.8 750.8L1150.1 747.8L1150.3 744.8L1150.5 741.8L1150.7 738.8L1150.9 735.9L1151.1 732.9L1151.2 729.9L1151.3 726.9L1151.4 724.0L1151.5 721.0L1151.5 718.0L1151.5 715.1L1151.5 712.1L1151.5 709.2L1151.4 706.2L1151.3 703.3L1151.2 700.4L1151.1 697.4L1150.9 694.5L1150.8 691.6L1150.6 688.7L1150.4 685.8L1150.1 682.9L1149.9 680.0L1149.6 677.1L1149.3 674.2L1148.9 671.3L1148.6 668.4L1148.2 665.6L1147.8 662.7L1147.4 659.8L1147.0 657.0L1146.5 654.2L1146.0 651.3L1145.6 648.5L1145.1 645.7L1144.6 642.9L1144.0 640.0L1143.5 637.2L1143.0 634.4L1142.4 631.6L1141.8 628.9L1141.2 626.1L1140.6 623.3L1140.0 620.5L1139.4 617.8L1138.7 615.0L1138.1 612.3L1137.4 609.5L1136.7 606.8L1136.0 604.0L1135.2 601.3L1134.5 598.6L1133.7 595.9L1133.0 593.1L1132.2 590.4L1131.4 587.7L1130.5 585.0L1129.7 582.3L1128.9 579.7L1128.0 577.0L1127.1 574.3L1126.2 571.6L1125.3 569.0L1124.3 566.3L1123.4 563.7L1122.4 561.0L1121.4 558.4L1120.4 555.8L1119.4 553.2L1118.3 550.5L1117.3 547.9L1116.2 545.3L1115.1 542.7L1114.0 540.1" stroke="#0000ff" stroke-width="12.00"/>
</g>
<path d="M812.7 647.8L817.3 661.8L832.0 661.8L820.1 670.5L824.6 684.5L812.7 675.9L800.8 684.5L805.3 670.5L793.4 661.8L808.1 661.8Z" fill="#ffa500" stroke="#000" stroke-width="1.70" stroke-linejoin="bevel"/>
<rect x="128.50" y="1.50" width="1366.55" height="1331.90" fill="none" stroke="#3c3c3c" stroke-width="2.00"/>
<path d="M242.75 1333.40v7.30M128.50 1222.50h-6.00M527.75 1333.40v7.30M128.50 945.00h-6.00M812.75 1333.40v7.30M128.50 667.50h-6.00M1097.75 1333.40v7.30M128.50 390.00h-6.00M1382.75 1333.40v7.30M128.50 112.50h-6.00" stroke="#3c3c3c" stroke-width="1.50" fill="none"/>
<g font-size="31.50">
<text x="241.75" y="1370.90" text-anchor="middle">−10</text>
<text x="526.75" y="1370.90" text-anchor="middle">−5</text>
<text x="811.75" y="1370.90" text-anchor="middle">0</text>
<text x="1096.75" y="1370.90" text-anchor="middle">5</text>
<text x="1381.75" y="1370.90" text-anchor="middle">10</text>
<text x="115.40" y="1235.80" text-anchor="end">−10</text>
<text x="115.40" y="958.30" text-anchor="end">−5</text>
<text x="115.40" y="680.80" text-anchor="end">0</text>
<text x="115.40" y="403.30" text-anchor="end">5</text>
<text x="115.40" y="125.80" text-anchor="end">10</text>
</g>
<text x="812.70" y="1412.00" text-anchor="middle" font-weight="bold" font-size="37.60">Heliocentric Distance (au)</text>
<text transform="translate(31.00 669.80) rotate(-90)" text-anchor="middle" font-weight="bold" font-size="37.60">Heliocentric Distance (au)</text>
<text x="1099.00" y="62.20" font-size="36.00">Orbital Path (Years)</text>
<path d="M1080.20 104.50H1166.20" stroke="#32cd32" stroke-width="11.00" fill="none"/>
<text x="1190.40" y="116.10" font-size="37.60">1900-1937 AD</text>
<path d="M1080.20 159.70H1166.20" stroke="#ff0000" stroke-width="11.00" fill="none"/>
<text x="1190.40" y="173.00" font-size="37.60">1937-1963 AD</text>
<path d="M1080.20 216.90H1166.20" stroke="#0000ff" stroke-width="11.00" fill="none"/>
<text x="1190.40" y="229.00" font-size="37.60">1963-2060 AD</text>
<path d="M165.65 1156.20H247.65" stroke="#000" stroke-width="5.30" fill="none" stroke-linecap="square"/>
<text x="279.50" y="1169.00" font-size="40.00">Earth</text>
<path d="M165.65 1214.40H247.65" stroke="#000" stroke-width="8.30" fill="none" stroke-dasharray="8.0 8.4"/>
<text x="281.50" y="1229.70" font-size="40.00">Jupiter</text>
<path d="M165.65 1274.20H247.65" stroke="#000" stroke-width="6.80" fill="none" stroke-dasharray="19.6 32.74 6.5 32.74"/>
<text x="281.10" y="1288.00" font-size="40.00">Saturn</text>
</svg></body></html>
